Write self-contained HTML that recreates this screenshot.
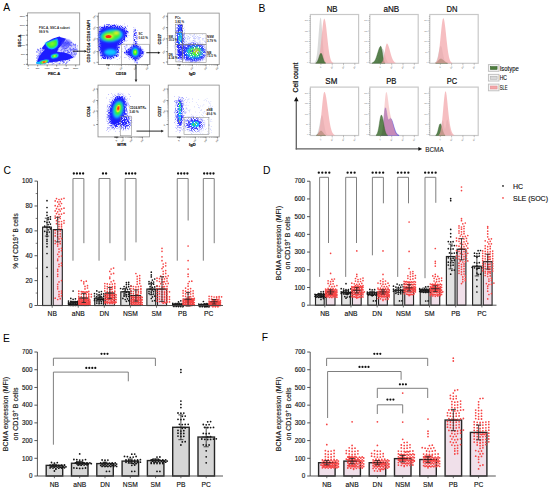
<!DOCTYPE html>
<html><head><meta charset="utf-8"><style>
html,body{margin:0;padding:0;background:#fff;}
body{width:550px;height:490px;overflow:hidden;}
svg{display:block;font-family:"Liberation Sans", sans-serif;}
</style></head><body>
<svg width="550" height="490" viewBox="0 0 550 490">
<defs><filter id="b05" x="-50%" y="-50%" width="200%" height="200%"><feGaussianBlur stdDeviation="0.5"/></filter><filter id="b08" x="-50%" y="-50%" width="200%" height="200%"><feGaussianBlur stdDeviation="0.8"/></filter><filter id="b12" x="-50%" y="-50%" width="200%" height="200%"><feGaussianBlur stdDeviation="1.2"/></filter><filter id="b18" x="-50%" y="-50%" width="200%" height="200%"><feGaussianBlur stdDeviation="1.8"/></filter><filter id="spA" x="-20%" y="-20%" width="140%" height="140%"><feTurbulence type="fractalNoise" baseFrequency="0.9" numOctaves="2" seed="4" result="n"/><feColorMatrix in="n" type="matrix" values="0 0 0 0 0  0 0 0 0 0  0 0 0 0 0  7 0 0 0 -3.2" result="m"/><feComposite in="SourceGraphic" in2="m" operator="in" result="c"/><feGaussianBlur in="c" stdDeviation="0.25"/></filter><filter id="spB" x="-20%" y="-20%" width="140%" height="140%"><feTurbulence type="fractalNoise" baseFrequency="0.9" numOctaves="2" seed="9" result="n"/><feColorMatrix in="n" type="matrix" values="0 0 0 0 0  0 0 0 0 0  0 0 0 0 0  7 0 0 0 -2.6" result="m"/><feComposite in="SourceGraphic" in2="m" operator="in" result="c"/><feGaussianBlur in="c" stdDeviation="0.25"/></filter></defs>
<text x="3.30" y="10.90" font-size="10.3" text-anchor="start" fill="#000" font-weight="normal" >A</text>
<text x="258.50" y="11.60" font-size="10.3" text-anchor="start" fill="#000" font-weight="normal" >B</text>
<text x="3.40" y="173.60" font-size="10.3" text-anchor="start" fill="#000" font-weight="normal" >C</text>
<text x="263.00" y="173.70" font-size="10.3" text-anchor="start" fill="#000" font-weight="normal" >D</text>
<text x="3.00" y="342.00" font-size="10.3" text-anchor="start" fill="#000" font-weight="normal" >E</text>
<text x="261.80" y="341.20" font-size="10.3" text-anchor="start" fill="#000" font-weight="normal" >F</text>
<rect x="42.60" y="227.13" width="8.80" height="78.37" fill="#e2e2e2" stroke="#262626" stroke-width="1.15" />
<rect x="53.20" y="229.62" width="9.10" height="75.88" fill="#f1e0ea" stroke="#262626" stroke-width="1.15" />
<rect x="68.67" y="303.01" width="8.80" height="2.49" fill="#e2e2e2" stroke="#262626" stroke-width="1.15" />
<rect x="79.27" y="298.04" width="9.10" height="7.46" fill="#f1e0ea" stroke="#262626" stroke-width="1.15" />
<rect x="94.74" y="298.04" width="8.80" height="7.46" fill="#e2e2e2" stroke="#262626" stroke-width="1.15" />
<rect x="105.34" y="293.06" width="9.10" height="12.44" fill="#f1e0ea" stroke="#262626" stroke-width="1.15" />
<rect x="120.81" y="291.82" width="8.80" height="13.68" fill="#e2e2e2" stroke="#262626" stroke-width="1.15" />
<rect x="131.41" y="295.55" width="9.10" height="9.95" fill="#f1e0ea" stroke="#262626" stroke-width="1.15" />
<rect x="146.88" y="289.08" width="8.80" height="16.42" fill="#e2e2e2" stroke="#262626" stroke-width="1.15" />
<rect x="157.48" y="289.08" width="9.10" height="16.42" fill="#f1e0ea" stroke="#262626" stroke-width="1.15" />
<rect x="172.95" y="304.26" width="8.80" height="1.24" fill="#e2e2e2" stroke="#262626" stroke-width="1.15" />
<rect x="183.55" y="299.28" width="9.10" height="6.22" fill="#f1e0ea" stroke="#262626" stroke-width="1.15" />
<rect x="199.02" y="304.88" width="8.80" height="0.62" fill="#e2e2e2" stroke="#262626" stroke-width="1.15" />
<rect x="209.62" y="301.77" width="9.10" height="3.73" fill="#f1e0ea" stroke="#262626" stroke-width="1.15" />
<path d="M47.0 276.5h0M47.0 267.3h0M47.0 253.5h0M47.0 246.7h0M47.0 243.7h0M47.0 241.2h0M47.0 239.3h0M47.0 236.6h0M47.0 234.2h0M47.0 232.2h0M49.3 232.0h0M44.7 231.3h0M48.1 229.8h0M50.4 228.9h0M47.0 227.4h0M49.3 227.2h0M44.7 226.2h0M48.1 224.6h0M50.4 224.1h0M47.0 222.5h0M49.3 222.1h0M44.7 221.5h0M48.1 219.6h0M50.4 219.2h0M48.1 217.5h0M50.4 216.8h0M47.0 215.3h0M47.0 212.4h0M47.0 207.5h0M47.0 200.7h0" stroke="#141414" stroke-width="1.70" stroke-linecap="round"/>
<path d="M57.7 299.5h0M60.2 298.7h0M55.2 298.2h0M59.0 296.4h0M61.5 295.9h0M59.0 294.3h0M61.5 293.2h0M59.0 291.6h0M61.5 291.0h0M57.7 288.8h0M57.7 286.8h0M57.7 284.4h0M59.0 281.9h0M61.5 280.6h0M57.7 276.3h0M57.7 274.3h0M57.7 271.2h0M57.7 269.3h0M59.0 266.5h0M61.5 265.6h0M59.0 264.3h0M61.5 263.2h0M57.7 260.6h0M57.7 259.0h0M59.0 256.6h0M61.5 256.0h0M57.7 254.3h0M59.0 251.9h0M61.5 250.7h0M59.0 249.1h0M61.5 248.3h0M57.7 246.1h0M57.7 244.2h0M60.2 243.7h0M55.2 243.5h0M57.7 241.8h0M60.2 241.3h0M55.2 240.8h0M59.0 238.9h0M61.5 238.6h0M57.7 236.9h0M60.2 236.4h0M55.2 235.9h0M57.7 234.1h0M60.2 233.8h0M55.2 233.0h0M57.7 231.7h0M60.2 231.0h0M55.2 230.5h0M59.0 228.9h0M61.5 228.0h0M59.0 226.6h0M61.5 226.2h0M59.0 224.4h0M61.5 224.2h0M56.5 223.7h0M64.0 223.1h0M59.0 221.7h0M61.5 221.5h0M56.5 220.7h0M64.0 220.6h0M57.7 219.1h0M60.2 218.5h0M55.2 218.2h0M57.7 216.8h0M60.2 216.5h0M55.2 216.0h0M59.0 214.4h0M61.5 214.1h0M56.5 213.6h0M64.0 213.2h0M57.7 211.8h0M60.2 211.1h0M55.2 210.9h0M59.0 209.4h0M61.5 208.9h0M56.5 208.7h0M64.0 208.2h0M57.7 206.4h0M60.2 206.0h0M55.2 205.7h0M59.0 204.2h0M61.5 203.5h0M57.7 201.9h0M60.2 201.7h0M55.2 200.9h0M59.0 199.5h0M61.5 199.1h0M56.5 198.6h0M64.0 198.3h0" stroke="#f64545" stroke-width="1.70" stroke-linecap="round"/>
<path d="M73.1 305.5h0M75.4 305.3h0M70.8 305.3h0M73.1 304.2h0M75.4 304.2h0M70.8 304.1h0M77.7 304.0h0M68.5 303.9h0M74.2 305.1h0M76.5 304.9h0M71.9 304.9h0M78.8 304.8h0M69.6 304.6h0M73.1 303.3h0M75.4 303.2h0M70.8 303.1h0M77.7 302.9h0M68.5 302.9h0M73.1 301.8h0M75.4 301.6h0M70.8 301.4h0M77.7 301.3h0M68.5 301.1h0M74.2 302.1h0M76.5 301.9h0M71.9 301.8h0M73.1 299.3h0M75.4 298.8h0M70.8 298.4h0M73.1 291.0h0" stroke="#141414" stroke-width="1.70" stroke-linecap="round"/>
<path d="M83.8 304.4h0M86.3 304.3h0M81.3 304.2h0M88.8 304.2h0M78.8 304.1h0M85.0 305.3h0M87.5 305.2h0M82.5 305.1h0M90.0 305.1h0M80.0 305.0h0M83.8 303.7h0M86.3 303.6h0M81.3 303.6h0M88.8 303.5h0M78.8 303.4h0M85.0 304.6h0M87.5 304.5h0M82.5 304.5h0M90.0 304.4h0M80.0 304.3h0M83.8 302.0h0M86.3 301.9h0M81.3 301.8h0M88.8 301.8h0M78.8 301.7h0M85.0 302.9h0M87.5 302.8h0M82.5 302.8h0M90.0 302.7h0M80.0 302.6h0M83.8 301.3h0M86.3 301.2h0M81.3 301.1h0M88.8 301.0h0M78.8 300.9h0M85.0 302.1h0M87.5 302.0h0M82.5 301.9h0M90.0 301.8h0M80.0 301.8h0M83.8 299.4h0M86.3 299.3h0M81.3 299.3h0M88.8 299.2h0M78.8 299.1h0M85.0 300.3h0M87.5 300.2h0M82.5 300.1h0M90.0 300.0h0M80.0 299.9h0M83.8 298.6h0M86.3 298.5h0M81.3 298.4h0M88.8 298.4h0M78.8 298.2h0M85.0 299.4h0M83.8 297.0h0M86.3 296.8h0M81.3 296.6h0M88.8 296.4h0M78.8 296.3h0M86.3 297.3h0M88.8 297.1h0M83.8 297.0h0M91.3 296.8h0M83.8 294.4h0M86.3 294.2h0M81.3 294.1h0M88.8 293.9h0M78.8 293.7h0M86.3 294.8h0M88.8 294.6h0M83.8 294.5h0M91.3 294.3h0M83.8 291.9h0M86.3 291.8h0M81.3 291.6h0M88.8 291.4h0M78.8 291.2h0M85.0 292.3h0M87.5 292.1h0M82.5 291.9h0M85.0 288.9h0M87.5 288.0h0M85.0 286.4h0M87.5 285.7h0M83.8 283.8h0M83.8 281.9h0M86.3 281.2h0M81.3 280.6h0" stroke="#f64545" stroke-width="1.70" stroke-linecap="round"/>
<path d="M99.1 303.7h0M101.4 303.3h0M96.8 303.1h0M99.1 301.9h0M101.4 301.5h0M96.8 300.9h0M103.7 300.8h0M94.5 300.5h0M99.1 299.4h0M101.4 299.3h0M96.8 299.0h0M103.7 299.0h0M94.5 298.8h0M100.3 299.8h0M102.6 299.7h0M98.0 299.4h0M99.1 297.1h0M101.4 296.8h0M96.8 296.6h0M103.7 296.2h0M94.5 296.0h0M100.3 296.9h0M99.1 294.5h0M101.4 294.2h0M96.8 294.0h0M103.7 293.8h0M94.5 293.6h0M99.1 292.1h0M101.4 291.5h0M96.8 290.9h0" stroke="#141414" stroke-width="1.70" stroke-linecap="round"/>
<path d="M109.8 303.6h0M112.3 303.5h0M107.3 303.4h0M114.8 303.3h0M104.8 303.1h0M109.8 302.0h0M112.3 301.9h0M107.3 301.7h0M114.8 301.6h0M104.8 301.5h0M111.1 302.6h0M113.6 302.5h0M108.6 302.4h0M116.1 302.2h0M106.1 302.1h0M111.1 300.8h0M113.6 300.6h0M109.8 299.5h0M112.3 299.3h0M107.3 299.3h0M114.8 299.1h0M104.8 299.0h0M111.1 300.1h0M113.6 300.0h0M108.6 299.9h0M116.1 299.7h0M106.1 299.7h0M109.8 298.2h0M112.3 298.1h0M107.3 298.0h0M109.8 296.9h0M112.3 296.8h0M107.3 296.7h0M114.8 296.6h0M104.8 296.5h0M111.1 297.6h0M113.6 297.5h0M108.6 297.4h0M116.1 297.3h0M106.1 297.2h0M109.8 295.8h0M112.3 295.8h0M107.3 295.6h0M109.8 294.5h0M112.3 294.4h0M107.3 294.3h0M114.8 294.2h0M104.8 294.0h0M111.1 295.2h0M113.6 295.1h0M108.6 295.0h0M116.1 294.9h0M106.1 294.7h0M109.8 293.4h0M112.3 293.3h0M107.3 293.0h0M109.8 291.7h0M112.3 291.5h0M107.3 291.3h0M114.8 291.0h0M104.8 290.9h0M112.3 291.8h0M114.8 291.8h0M109.8 289.3h0M112.3 289.0h0M107.3 288.8h0M114.8 288.5h0M104.8 288.3h0M111.1 289.4h0M109.8 286.8h0M112.3 286.7h0M107.3 286.5h0M114.8 286.3h0M104.8 286.0h0M112.3 287.0h0M114.8 286.9h0M109.8 284.3h0M112.3 284.1h0M107.3 283.9h0M114.8 283.7h0M104.8 283.5h0M111.1 281.8h0M113.6 280.7h0M109.8 278.6h0M109.8 277.0h0M111.1 274.1h0M113.6 273.4h0M109.8 271.4h0M111.1 269.0h0M113.6 268.1h0" stroke="#f64545" stroke-width="1.70" stroke-linecap="round"/>
<path d="M126.4 301.3h0M128.7 300.7h0M125.2 299.5h0M127.5 298.8h0M122.9 298.4h0M126.4 296.7h0M128.7 296.4h0M124.1 296.2h0M131.0 295.8h0M126.4 294.6h0M128.7 294.2h0M124.1 293.8h0M131.0 293.4h0M126.4 292.2h0M128.7 291.9h0M124.1 291.6h0M131.0 291.2h0M125.2 289.8h0M127.5 289.6h0M122.9 289.1h0M129.8 289.0h0M120.6 288.5h0M126.4 287.2h0M128.7 286.7h0M124.1 286.5h0M131.0 286.1h0M126.4 284.6h0M128.7 284.3h0M126.4 282.6h0M128.7 282.3h0" stroke="#141414" stroke-width="1.70" stroke-linecap="round"/>
<path d="M135.9 304.0h0M138.4 303.9h0M133.4 303.9h0M140.9 303.8h0M130.9 303.7h0M137.2 304.9h0M139.7 304.8h0M134.7 304.7h0M142.2 304.6h0M132.2 304.5h0M135.9 303.2h0M138.4 303.1h0M133.4 303.0h0M135.9 301.9h0M138.4 301.8h0M133.4 301.7h0M140.9 301.7h0M130.9 301.6h0M137.2 302.7h0M139.7 302.7h0M134.7 302.6h0M142.2 302.5h0M132.2 302.4h0M135.9 301.1h0M138.4 301.0h0M133.4 300.9h0M140.9 300.9h0M130.9 300.8h0M138.4 301.9h0M140.9 301.8h0M135.9 299.5h0M138.4 299.3h0M133.4 299.2h0M140.9 299.1h0M130.9 299.0h0M137.2 300.1h0M139.7 300.0h0M134.7 299.9h0M142.2 299.8h0M132.2 299.7h0M135.9 298.3h0M138.4 298.2h0M133.4 298.1h0M135.9 297.0h0M138.4 296.9h0M133.4 296.8h0M140.9 296.6h0M130.9 296.6h0M137.2 297.7h0M139.7 297.6h0M134.7 297.5h0M142.2 297.4h0M132.2 297.2h0M135.9 295.9h0M138.4 295.8h0M133.4 295.6h0M135.9 294.3h0M138.4 294.0h0M133.4 293.7h0M140.9 293.5h0M130.9 293.5h0M137.2 294.5h0M135.9 291.9h0M138.4 291.7h0M133.4 291.5h0M140.9 291.3h0M130.9 291.1h0M138.4 292.1h0M140.9 291.9h0M135.9 289.4h0M138.4 289.3h0M133.4 288.9h0M140.9 288.7h0M130.9 288.6h0M138.4 289.6h0M140.9 289.3h0M135.9 286.9h0M138.4 286.7h0M133.4 286.5h0M140.9 286.2h0M130.9 286.1h0M137.2 284.2h0M139.7 283.4h0M137.2 281.6h0M139.7 280.7h0M137.2 279.0h0M139.7 278.4h0M137.2 276.4h0M139.7 275.6h0M135.9 273.5h0" stroke="#f64545" stroke-width="1.70" stroke-linecap="round"/>
<path d="M152.4 301.0h0M154.7 300.6h0M151.3 298.5h0M152.4 296.9h0M154.7 296.1h0M151.3 294.4h0M153.6 294.0h0M149.0 293.4h0M151.3 292.1h0M153.6 291.7h0M149.0 291.3h0M152.4 289.9h0M154.7 289.6h0M150.1 289.1h0M157.0 288.9h0M152.4 287.4h0M154.7 286.9h0M150.1 286.7h0M157.0 286.1h0M151.3 284.6h0M153.6 284.2h0M149.0 283.9h0M151.3 282.3h0M153.6 282.0h0M149.0 281.7h0M152.4 280.1h0M154.7 279.0h0M151.3 276.9h0M151.3 274.9h0M151.3 272.2h0" stroke="#141414" stroke-width="1.70" stroke-linecap="round"/>
<path d="M163.2 303.2h0M165.7 303.0h0M162.0 301.9h0M164.5 301.7h0M159.5 301.6h0M167.0 301.4h0M157.0 301.2h0M164.5 302.3h0M167.0 302.2h0M162.0 302.0h0M169.5 301.9h0M162.0 299.4h0M164.5 299.3h0M159.5 299.1h0M167.0 298.8h0M157.0 298.7h0M164.5 299.8h0M167.0 299.6h0M162.0 299.5h0M169.5 299.3h0M162.0 296.9h0M164.5 296.7h0M159.5 296.6h0M167.0 296.4h0M157.0 296.2h0M164.5 297.4h0M167.0 297.1h0M162.0 297.0h0M169.5 296.8h0M162.0 294.4h0M164.5 294.2h0M159.5 293.9h0M167.0 293.8h0M157.0 293.5h0M164.5 294.6h0M167.0 294.4h0M162.0 292.0h0M164.5 291.8h0M159.5 291.6h0M167.0 291.4h0M157.0 291.2h0M164.5 292.3h0M167.0 292.0h0M162.0 291.9h0M169.5 291.8h0M162.0 289.3h0M164.5 289.1h0M159.5 288.9h0M167.0 288.6h0M157.0 288.5h0M164.5 289.5h0M167.0 289.3h0M162.0 287.0h0M164.5 286.6h0M159.5 286.3h0M167.0 286.3h0M157.0 285.8h0M163.2 286.8h0M163.2 284.3h0M165.7 283.8h0M160.7 283.7h0M168.2 283.4h0M162.0 282.0h0M164.5 281.7h0M159.5 281.5h0M167.0 281.1h0M157.0 280.8h0M163.2 281.8h0M162.0 279.4h0M164.5 278.9h0M159.5 278.7h0M167.0 278.4h0M157.0 278.2h0M163.2 276.8h0M165.7 276.6h0M160.7 276.2h0M168.2 275.8h0M163.2 274.1h0M165.7 273.4h0M163.2 271.3h0M165.7 270.6h0M162.0 268.6h0M163.2 266.9h0M165.7 265.8h0M163.2 264.0h0M165.7 263.0h0M162.0 260.7h0M162.0 256.8h0M162.0 251.3h0M162.0 248.3h0" stroke="#f64545" stroke-width="1.70" stroke-linecap="round"/>
<path d="M177.4 305.6h0M179.7 305.6h0M175.1 305.5h0M182.0 305.5h0M172.8 305.5h0M178.5 306.6h0M180.8 306.6h0M176.2 306.5h0M183.1 306.5h0M173.9 306.5h0M177.4 304.3h0M179.7 304.2h0M175.1 304.2h0M182.0 304.2h0M172.8 304.2h0M178.5 305.3h0M180.8 305.2h0M176.2 305.1h0M183.1 305.1h0M173.9 305.0h0M177.4 303.8h0M179.7 303.7h0M175.1 303.6h0M182.0 303.5h0M172.8 303.4h0M178.5 304.6h0M180.8 304.5h0M176.2 304.5h0M178.5 301.9h0M180.8 300.8h0" stroke="#141414" stroke-width="1.70" stroke-linecap="round"/>
<path d="M188.1 305.6h0M190.6 305.6h0M185.6 305.5h0M188.1 304.5h0M190.6 304.4h0M185.6 304.3h0M193.1 304.3h0M183.1 304.2h0M189.3 305.4h0M191.8 305.4h0M186.8 305.3h0M194.3 305.3h0M184.3 305.2h0M188.1 303.9h0M190.6 303.9h0M185.6 303.8h0M193.1 303.7h0M183.1 303.7h0M189.3 304.9h0M191.8 304.8h0M186.8 304.8h0M194.3 304.7h0M184.3 304.7h0M188.1 303.4h0M190.6 303.3h0M185.6 303.2h0M193.1 303.2h0M183.1 303.1h0M190.6 304.3h0M193.1 304.3h0M188.1 302.0h0M190.6 301.9h0M185.6 301.8h0M193.1 301.7h0M183.1 301.6h0M189.3 302.8h0M191.8 302.7h0M186.8 302.6h0M194.3 302.5h0M184.3 302.4h0M188.1 301.1h0M190.6 301.1h0M185.6 300.9h0M193.1 300.9h0M183.1 300.7h0M189.3 301.9h0M191.8 301.8h0M186.8 301.8h0M188.1 299.4h0M190.6 299.4h0M185.6 299.3h0M193.1 299.2h0M183.1 299.1h0M189.3 300.2h0M191.8 300.2h0M186.8 300.1h0M194.3 300.0h0M184.3 299.9h0M189.3 298.6h0M191.8 298.5h0M186.8 298.4h0M194.3 298.3h0M188.1 297.0h0M190.6 296.7h0M185.6 296.4h0M193.1 296.1h0M183.1 295.9h0M189.3 296.8h0M188.1 294.2h0M190.6 294.0h0M185.6 293.8h0M193.1 293.4h0M183.1 293.1h0M188.1 291.8h0M190.6 291.4h0M185.6 291.2h0M193.1 290.8h0M183.1 290.7h0M188.1 289.3h0M190.6 288.6h0M185.6 288.1h0M188.1 286.2h0M188.1 283.6h0M189.3 281.5h0M191.8 281.2h0M188.1 276.5h0M188.1 274.2h0M188.1 269.1h0M188.1 260.6h0M188.1 246.0h0" stroke="#f64545" stroke-width="1.70" stroke-linecap="round"/>
<path d="M203.4 305.7h0M205.7 305.6h0M201.1 305.6h0M208.0 305.6h0M198.8 305.6h0M204.6 306.8h0M206.9 306.7h0M202.3 306.7h0M209.2 306.7h0M200.0 306.7h0M203.4 305.5h0M205.7 305.5h0M201.1 305.4h0M208.0 305.4h0M198.8 305.4h0M205.7 306.6h0M208.0 306.5h0M203.4 304.3h0M205.7 304.2h0M201.1 304.2h0M208.0 304.2h0M198.8 304.1h0M204.6 305.3h0M206.9 305.2h0M202.3 305.2h0M209.2 305.1h0M200.0 305.1h0M204.6 303.8h0M206.9 303.7h0M203.4 301.5h0" stroke="#141414" stroke-width="1.70" stroke-linecap="round"/>
<path d="M214.1 305.7h0M216.6 305.7h0M211.6 305.6h0M219.1 305.6h0M209.1 305.6h0M215.4 306.8h0M217.9 306.8h0M212.9 306.8h0M214.1 304.5h0M216.6 304.5h0M211.6 304.4h0M219.1 304.4h0M209.1 304.4h0M215.4 305.6h0M217.9 305.6h0M212.9 305.5h0M220.4 305.5h0M210.4 305.5h0M214.1 304.2h0M216.6 304.2h0M211.6 304.1h0M219.1 304.1h0M209.1 304.1h0M215.4 305.3h0M217.9 305.3h0M212.9 305.2h0M220.4 305.2h0M210.4 305.2h0M214.1 303.9h0M216.6 303.9h0M211.6 303.8h0M219.1 303.8h0M209.1 303.8h0M215.4 305.0h0M217.9 305.0h0M212.9 305.0h0M220.4 304.9h0M210.4 304.8h0M214.1 303.6h0M216.6 303.5h0M211.6 303.4h0M219.1 303.4h0M209.1 303.4h0M215.4 304.6h0M217.9 304.5h0M212.9 304.4h0M220.4 304.4h0M210.4 304.3h0M214.1 303.0h0M214.1 302.0h0M216.6 301.9h0M211.6 301.9h0M219.1 301.8h0M209.1 301.8h0M215.4 303.0h0M217.9 302.9h0M212.9 302.9h0M220.4 302.8h0M210.4 302.8h0M214.1 301.5h0M216.6 301.4h0M211.6 301.4h0M219.1 301.3h0M209.1 301.2h0M215.4 302.5h0M217.9 302.4h0M212.9 302.3h0M220.4 302.3h0M210.4 302.2h0M215.4 301.0h0M217.9 300.9h0M212.9 300.9h0M220.4 300.7h0M214.1 299.5h0M216.6 299.3h0M211.6 299.2h0M219.1 299.0h0M209.1 298.8h0M215.4 299.9h0M217.9 299.7h0M212.9 299.5h0M214.1 297.0h0M216.6 296.8h0M211.6 296.6h0M219.1 296.5h0M209.1 296.3h0M216.6 297.4h0M219.1 297.1h0M214.1 297.0h0M221.6 296.8h0" stroke="#f64545" stroke-width="1.70" stroke-linecap="round"/>
<line x1="47.00" y1="218.17" x2="47.00" y2="236.08" stroke="#222" stroke-width="0.8" />
<line x1="44.80" y1="218.17" x2="49.20" y2="218.17" stroke="#222" stroke-width="0.8" />
<line x1="44.80" y1="236.08" x2="49.20" y2="236.08" stroke="#222" stroke-width="0.8" />
<line x1="43.50" y1="227.13" x2="50.50" y2="227.13" stroke="#222" stroke-width="0.8" />
<line x1="57.70" y1="217.30" x2="57.70" y2="241.93" stroke="#222" stroke-width="0.8" />
<line x1="55.50" y1="217.30" x2="59.90" y2="217.30" stroke="#222" stroke-width="0.8" />
<line x1="55.50" y1="241.93" x2="59.90" y2="241.93" stroke="#222" stroke-width="0.8" />
<line x1="54.20" y1="229.62" x2="61.20" y2="229.62" stroke="#222" stroke-width="0.8" />
<line x1="73.07" y1="301.33" x2="73.07" y2="304.69" stroke="#222" stroke-width="0.8" />
<line x1="70.87" y1="301.33" x2="75.27" y2="301.33" stroke="#222" stroke-width="0.8" />
<line x1="70.87" y1="304.69" x2="75.27" y2="304.69" stroke="#222" stroke-width="0.8" />
<line x1="69.57" y1="303.01" x2="76.57" y2="303.01" stroke="#222" stroke-width="0.8" />
<line x1="83.77" y1="293.56" x2="83.77" y2="302.51" stroke="#222" stroke-width="0.8" />
<line x1="81.57" y1="293.56" x2="85.97" y2="293.56" stroke="#222" stroke-width="0.8" />
<line x1="81.57" y1="302.51" x2="85.97" y2="302.51" stroke="#222" stroke-width="0.8" />
<line x1="80.27" y1="298.04" x2="87.27" y2="298.04" stroke="#222" stroke-width="0.8" />
<line x1="99.14" y1="295.24" x2="99.14" y2="300.83" stroke="#222" stroke-width="0.8" />
<line x1="96.94" y1="295.24" x2="101.34" y2="295.24" stroke="#222" stroke-width="0.8" />
<line x1="96.94" y1="300.83" x2="101.34" y2="300.83" stroke="#222" stroke-width="0.8" />
<line x1="95.64" y1="298.04" x2="102.64" y2="298.04" stroke="#222" stroke-width="0.8" />
<line x1="109.84" y1="287.46" x2="109.84" y2="298.66" stroke="#222" stroke-width="0.8" />
<line x1="107.64" y1="287.46" x2="112.04" y2="287.46" stroke="#222" stroke-width="0.8" />
<line x1="107.64" y1="298.66" x2="112.04" y2="298.66" stroke="#222" stroke-width="0.8" />
<line x1="106.34" y1="293.06" x2="113.34" y2="293.06" stroke="#222" stroke-width="0.8" />
<line x1="125.21" y1="288.46" x2="125.21" y2="295.17" stroke="#222" stroke-width="0.8" />
<line x1="123.01" y1="288.46" x2="127.41" y2="288.46" stroke="#222" stroke-width="0.8" />
<line x1="123.01" y1="295.17" x2="127.41" y2="295.17" stroke="#222" stroke-width="0.8" />
<line x1="121.71" y1="291.82" x2="128.71" y2="291.82" stroke="#222" stroke-width="0.8" />
<line x1="135.91" y1="289.95" x2="135.91" y2="301.15" stroke="#222" stroke-width="0.8" />
<line x1="133.71" y1="289.95" x2="138.11" y2="289.95" stroke="#222" stroke-width="0.8" />
<line x1="133.71" y1="301.15" x2="138.11" y2="301.15" stroke="#222" stroke-width="0.8" />
<line x1="132.41" y1="295.55" x2="139.41" y2="295.55" stroke="#222" stroke-width="0.8" />
<line x1="151.28" y1="283.48" x2="151.28" y2="294.68" stroke="#222" stroke-width="0.8" />
<line x1="149.08" y1="283.48" x2="153.48" y2="283.48" stroke="#222" stroke-width="0.8" />
<line x1="149.08" y1="294.68" x2="153.48" y2="294.68" stroke="#222" stroke-width="0.8" />
<line x1="147.78" y1="289.08" x2="154.78" y2="289.08" stroke="#222" stroke-width="0.8" />
<line x1="161.98" y1="276.76" x2="161.98" y2="301.39" stroke="#222" stroke-width="0.8" />
<line x1="159.78" y1="276.76" x2="164.18" y2="276.76" stroke="#222" stroke-width="0.8" />
<line x1="159.78" y1="301.39" x2="164.18" y2="301.39" stroke="#222" stroke-width="0.8" />
<line x1="158.48" y1="289.08" x2="165.48" y2="289.08" stroke="#222" stroke-width="0.8" />
<line x1="177.35" y1="303.36" x2="177.35" y2="305.15" stroke="#222" stroke-width="0.8" />
<line x1="175.15" y1="303.36" x2="179.55" y2="303.36" stroke="#222" stroke-width="0.8" />
<line x1="175.15" y1="305.15" x2="179.55" y2="305.15" stroke="#222" stroke-width="0.8" />
<line x1="173.85" y1="304.26" x2="180.85" y2="304.26" stroke="#222" stroke-width="0.8" />
<line x1="188.05" y1="292.56" x2="188.05" y2="306.00" stroke="#222" stroke-width="0.8" />
<line x1="185.85" y1="292.56" x2="190.25" y2="292.56" stroke="#222" stroke-width="0.8" />
<line x1="185.85" y1="306.00" x2="190.25" y2="306.00" stroke="#222" stroke-width="0.8" />
<line x1="184.55" y1="299.28" x2="191.55" y2="299.28" stroke="#222" stroke-width="0.8" />
<line x1="203.42" y1="304.32" x2="203.42" y2="305.44" stroke="#222" stroke-width="0.8" />
<line x1="201.22" y1="304.32" x2="205.62" y2="304.32" stroke="#222" stroke-width="0.8" />
<line x1="201.22" y1="305.44" x2="205.62" y2="305.44" stroke="#222" stroke-width="0.8" />
<line x1="199.92" y1="304.88" x2="206.92" y2="304.88" stroke="#222" stroke-width="0.8" />
<line x1="214.12" y1="299.53" x2="214.12" y2="304.01" stroke="#222" stroke-width="0.8" />
<line x1="211.92" y1="299.53" x2="216.32" y2="299.53" stroke="#222" stroke-width="0.8" />
<line x1="211.92" y1="304.01" x2="216.32" y2="304.01" stroke="#222" stroke-width="0.8" />
<line x1="210.62" y1="301.77" x2="217.62" y2="301.77" stroke="#222" stroke-width="0.8" />
<line x1="37.50" y1="181.10" x2="37.50" y2="305.50" stroke="#444444" stroke-width="0.9" />
<line x1="34.50" y1="305.50" x2="37.50" y2="305.50" stroke="#444444" stroke-width="0.9" />
<text x="32.60" y="307.75" font-size="6.3" text-anchor="end" fill="#111" font-weight="normal" stroke="#111" stroke-width="0.14">0</text>
<line x1="34.50" y1="280.62" x2="37.50" y2="280.62" stroke="#444444" stroke-width="0.9" />
<text x="32.60" y="282.87" font-size="6.3" text-anchor="end" fill="#111" font-weight="normal" stroke="#111" stroke-width="0.14">20</text>
<line x1="34.50" y1="255.74" x2="37.50" y2="255.74" stroke="#444444" stroke-width="0.9" />
<text x="32.60" y="257.99" font-size="6.3" text-anchor="end" fill="#111" font-weight="normal" stroke="#111" stroke-width="0.14">40</text>
<line x1="34.50" y1="230.86" x2="37.50" y2="230.86" stroke="#444444" stroke-width="0.9" />
<text x="32.60" y="233.11" font-size="6.3" text-anchor="end" fill="#111" font-weight="normal" stroke="#111" stroke-width="0.14">60</text>
<line x1="34.50" y1="205.98" x2="37.50" y2="205.98" stroke="#444444" stroke-width="0.9" />
<text x="32.60" y="208.23" font-size="6.3" text-anchor="end" fill="#111" font-weight="normal" stroke="#111" stroke-width="0.14">80</text>
<line x1="34.50" y1="181.10" x2="37.50" y2="181.10" stroke="#444444" stroke-width="0.9" />
<text x="32.60" y="183.35" font-size="6.3" text-anchor="end" fill="#111" font-weight="normal" stroke="#111" stroke-width="0.14">100</text>
<line x1="35.70" y1="293.06" x2="37.50" y2="293.06" stroke="#444444" stroke-width="0.7" />
<line x1="35.70" y1="268.18" x2="37.50" y2="268.18" stroke="#444444" stroke-width="0.7" />
<line x1="35.70" y1="243.30" x2="37.50" y2="243.30" stroke="#444444" stroke-width="0.7" />
<line x1="35.70" y1="218.42" x2="37.50" y2="218.42" stroke="#444444" stroke-width="0.7" />
<line x1="35.70" y1="193.54" x2="37.50" y2="193.54" stroke="#444444" stroke-width="0.7" />
<line x1="37.50" y1="305.50" x2="223.00" y2="305.50" stroke="#444444" stroke-width="0.9" />
<line x1="52.20" y1="305.50" x2="52.20" y2="307.70" stroke="#444444" stroke-width="0.8" />
<text x="52.20" y="316.40" font-size="6.7" text-anchor="middle" fill="#111" font-weight="normal" stroke="#111" stroke-width="0.14">NB</text>
<line x1="78.27" y1="305.50" x2="78.27" y2="307.70" stroke="#444444" stroke-width="0.8" />
<text x="78.27" y="316.40" font-size="6.7" text-anchor="middle" fill="#111" font-weight="normal" stroke="#111" stroke-width="0.14">aNB</text>
<line x1="104.34" y1="305.50" x2="104.34" y2="307.70" stroke="#444444" stroke-width="0.8" />
<text x="104.34" y="316.40" font-size="6.7" text-anchor="middle" fill="#111" font-weight="normal" stroke="#111" stroke-width="0.14">DN</text>
<line x1="130.41" y1="305.50" x2="130.41" y2="307.70" stroke="#444444" stroke-width="0.8" />
<text x="130.41" y="316.40" font-size="6.7" text-anchor="middle" fill="#111" font-weight="normal" stroke="#111" stroke-width="0.14">NSM</text>
<line x1="156.48" y1="305.50" x2="156.48" y2="307.70" stroke="#444444" stroke-width="0.8" />
<text x="156.48" y="316.40" font-size="6.7" text-anchor="middle" fill="#111" font-weight="normal" stroke="#111" stroke-width="0.14">SM</text>
<line x1="182.55" y1="305.50" x2="182.55" y2="307.70" stroke="#444444" stroke-width="0.8" />
<text x="182.55" y="316.40" font-size="6.7" text-anchor="middle" fill="#111" font-weight="normal" stroke="#111" stroke-width="0.14">PB</text>
<line x1="208.62" y1="305.50" x2="208.62" y2="307.70" stroke="#444444" stroke-width="0.8" />
<text x="208.62" y="316.40" font-size="6.7" text-anchor="middle" fill="#111" font-weight="normal" stroke="#111" stroke-width="0.14">PC</text>
<text x="17.90" y="241.00" font-size="6.55" text-anchor="middle" fill="#111" font-weight="normal" transform="rotate(-90 17.90 241.00)" stroke="#111" stroke-width="0.14">% of CD19<tspan font-size="4.5" dy="-2.5">+</tspan><tspan dy="2.5"> B cells</tspan></text>
<path d="M72.97,260.70 L72.97,178.50 L83.87,178.50 L83.87,243.20" fill="none" stroke="#707070" stroke-width="0.9" />
<circle cx="73.82" cy="173.50" r="1.15" fill="#111"/>
<circle cx="76.92" cy="173.50" r="1.15" fill="#111"/>
<circle cx="80.02" cy="173.50" r="1.15" fill="#111"/>
<circle cx="83.12" cy="173.50" r="1.15" fill="#111"/>
<path d="M99.04,260.70 L99.04,178.50 L109.94,178.50 L109.94,243.20" fill="none" stroke="#707070" stroke-width="0.9" />
<circle cx="102.99" cy="173.50" r="1.15" fill="#111"/>
<circle cx="106.09" cy="173.50" r="1.15" fill="#111"/>
<path d="M125.11,260.70 L125.11,178.50 L136.01,178.50 L136.01,242.40" fill="none" stroke="#707070" stroke-width="0.9" />
<circle cx="125.96" cy="173.50" r="1.15" fill="#111"/>
<circle cx="129.06" cy="173.50" r="1.15" fill="#111"/>
<circle cx="132.16" cy="173.50" r="1.15" fill="#111"/>
<circle cx="135.26" cy="173.50" r="1.15" fill="#111"/>
<path d="M177.25,260.70 L177.25,178.50 L188.15,178.50 L188.15,220.50" fill="none" stroke="#707070" stroke-width="0.9" />
<circle cx="178.10" cy="173.50" r="1.15" fill="#111"/>
<circle cx="181.20" cy="173.50" r="1.15" fill="#111"/>
<circle cx="184.30" cy="173.50" r="1.15" fill="#111"/>
<circle cx="187.40" cy="173.50" r="1.15" fill="#111"/>
<path d="M203.32,260.70 L203.32,178.50 L214.22,178.50 L214.22,243.20" fill="none" stroke="#707070" stroke-width="0.9" />
<circle cx="204.17" cy="173.50" r="1.15" fill="#111"/>
<circle cx="207.27" cy="173.50" r="1.15" fill="#111"/>
<circle cx="210.37" cy="173.50" r="1.15" fill="#111"/>
<circle cx="213.47" cy="173.50" r="1.15" fill="#111"/>
<rect x="315.50" y="294.57" width="8.70" height="10.63" fill="#e2e2e2" stroke="#262626" stroke-width="1.15" />
<rect x="326.20" y="291.92" width="8.80" height="13.28" fill="#f1e0ea" stroke="#262626" stroke-width="1.15" />
<rect x="341.68" y="292.45" width="8.70" height="12.75" fill="#e2e2e2" stroke="#262626" stroke-width="1.15" />
<rect x="352.38" y="290.32" width="8.80" height="14.88" fill="#f1e0ea" stroke="#262626" stroke-width="1.15" />
<rect x="367.86" y="292.80" width="8.70" height="12.40" fill="#e2e2e2" stroke="#262626" stroke-width="1.15" />
<rect x="378.56" y="291.92" width="8.80" height="13.28" fill="#f1e0ea" stroke="#262626" stroke-width="1.15" />
<rect x="394.04" y="290.32" width="8.70" height="14.88" fill="#e2e2e2" stroke="#262626" stroke-width="1.15" />
<rect x="404.74" y="287.84" width="8.80" height="17.36" fill="#f1e0ea" stroke="#262626" stroke-width="1.15" />
<rect x="420.22" y="289.79" width="8.70" height="15.41" fill="#e2e2e2" stroke="#262626" stroke-width="1.15" />
<rect x="430.92" y="288.73" width="8.80" height="16.47" fill="#f1e0ea" stroke="#262626" stroke-width="1.15" />
<rect x="446.40" y="256.50" width="8.70" height="48.70" fill="#e2e2e2" stroke="#262626" stroke-width="1.15" />
<rect x="457.10" y="249.24" width="8.80" height="55.96" fill="#f1e0ea" stroke="#262626" stroke-width="1.15" />
<rect x="472.58" y="266.24" width="8.70" height="38.96" fill="#e2e2e2" stroke="#262626" stroke-width="1.15" />
<rect x="483.28" y="261.63" width="8.80" height="43.57" fill="#f1e0ea" stroke="#262626" stroke-width="1.15" />
<path d="M319.8 296.9h0M322.2 296.7h0M317.4 296.6h0M324.6 296.5h0M315.0 296.3h0M321.0 297.4h0M323.4 297.4h0M318.6 297.3h0M325.8 297.2h0M316.2 297.1h0M321.0 295.8h0M323.4 295.8h0M319.8 294.7h0M322.2 294.6h0M317.4 294.5h0M324.6 294.4h0M315.0 294.3h0M321.0 295.4h0M323.4 295.3h0M318.6 295.3h0M325.8 295.2h0M316.2 295.1h0M321.0 293.8h0M323.4 293.7h0M318.6 293.5h0M325.8 293.4h0M321.0 299.5h0M323.4 298.6h0M321.0 291.8h0M323.4 291.7h0" stroke="#141414" stroke-width="1.70" stroke-linecap="round"/>
<path d="M330.6 296.6h0M333.1 296.5h0M328.1 296.4h0M335.6 296.3h0M325.6 296.3h0M331.9 297.5h0M334.4 297.3h0M329.4 297.3h0M336.9 297.2h0M326.9 297.1h0M330.6 295.8h0M333.1 295.7h0M328.1 295.7h0M335.6 295.6h0M325.6 295.5h0M330.6 294.4h0M333.1 294.4h0M328.1 294.2h0M335.6 294.2h0M325.6 294.1h0M331.9 295.4h0M334.4 295.3h0M329.4 295.2h0M336.9 295.2h0M326.9 295.2h0M330.6 293.9h0M333.1 293.8h0M328.1 293.8h0M335.6 293.7h0M325.6 293.7h0M331.9 294.9h0M334.4 294.8h0M329.4 294.8h0M336.9 294.7h0M326.9 294.7h0M330.6 293.4h0M333.1 293.3h0M328.1 293.3h0M335.6 293.3h0M325.6 293.2h0M331.9 294.4h0M334.4 294.3h0M329.4 294.3h0M330.6 292.0h0M333.1 291.9h0M328.1 291.8h0M335.6 291.8h0M325.6 291.7h0M331.9 292.8h0M334.4 292.8h0M329.4 292.7h0M336.9 292.6h0M326.9 292.5h0M330.6 291.2h0M333.1 291.1h0M328.1 291.1h0M335.6 291.0h0M325.6 290.9h0M331.9 292.1h0M334.4 292.0h0M329.4 291.9h0M336.9 291.8h0M326.9 291.8h0M330.6 289.4h0M333.1 289.3h0M328.1 289.2h0M335.6 289.2h0M325.6 289.1h0M331.9 290.3h0M334.4 290.2h0M329.4 290.1h0M336.9 290.1h0M326.9 290.0h0M330.6 288.6h0M333.1 288.6h0M328.1 288.4h0M331.9 286.7h0M334.4 286.4h0M329.4 286.0h0M336.9 285.6h0M330.6 284.2h0M333.1 283.8h0M328.1 283.4h0M330.6 281.7h0M333.1 281.2h0M328.1 280.8h0M331.9 279.3h0M334.4 279.0h0M330.6 273.4h0M330.6 253.3h0" stroke="#f64545" stroke-width="1.70" stroke-linecap="round"/>
<path d="M346.0 294.0h0M348.4 293.9h0M343.6 293.8h0M350.8 293.6h0M341.2 293.5h0M347.2 294.6h0M346.0 292.3h0M348.4 292.2h0M343.6 292.1h0M350.8 292.0h0M341.2 291.9h0M347.2 293.0h0M349.6 292.9h0M344.8 292.7h0M352.0 292.6h0M342.4 292.4h0M346.0 291.1h0M348.4 291.0h0M343.6 290.9h0M346.0 289.7h0M348.4 289.6h0M343.6 289.0h0M350.8 288.9h0M341.2 288.7h0M346.0 298.2h0M347.2 297.0h0M349.6 296.8h0M344.8 296.6h0M352.0 296.4h0M346.0 283.7h0" stroke="#141414" stroke-width="1.70" stroke-linecap="round"/>
<path d="M356.8 298.1h0M356.8 297.0h0M359.3 296.8h0M354.3 296.7h0M361.8 296.5h0M351.8 296.4h0M358.0 297.5h0M360.5 297.4h0M355.5 297.2h0M363.0 297.0h0M353.0 297.0h0M356.8 295.6h0M356.8 294.4h0M359.3 294.3h0M354.3 294.2h0M361.8 294.0h0M351.8 293.8h0M358.0 295.0h0M360.5 294.9h0M355.5 294.8h0M363.0 294.8h0M353.0 294.7h0M358.0 293.3h0M360.5 293.3h0M355.5 293.2h0M363.0 293.0h0M356.8 292.0h0M359.3 291.9h0M354.3 291.9h0M361.8 291.8h0M351.8 291.6h0M358.0 292.8h0M360.5 292.8h0M355.5 292.7h0M363.0 292.6h0M353.0 292.5h0M356.8 291.2h0M359.3 291.1h0M354.3 291.0h0M361.8 291.0h0M351.8 290.9h0M359.3 292.1h0M361.8 291.9h0M356.8 291.9h0M364.3 291.8h0M356.8 289.4h0M359.3 289.3h0M354.3 289.2h0M361.8 289.1h0M351.8 289.0h0M358.0 290.2h0M360.5 290.0h0M355.5 289.9h0M363.0 289.9h0M353.0 289.8h0M356.8 288.4h0M359.3 288.3h0M354.3 288.2h0M361.8 288.1h0M351.8 288.0h0M356.8 286.9h0M359.3 286.8h0M354.3 286.6h0M361.8 286.6h0M351.8 286.5h0M358.0 287.6h0M360.5 287.5h0M355.5 287.4h0M363.0 287.3h0M353.0 287.2h0M358.0 285.8h0M360.5 285.8h0M355.5 285.6h0M363.0 285.6h0M356.8 284.4h0M359.3 284.2h0M354.3 283.8h0M361.8 283.4h0M351.8 283.2h0M358.0 281.7h0M360.5 281.5h0M355.5 281.1h0M363.0 280.6h0M358.0 279.5h0M360.5 279.0h0M355.5 278.5h0M363.0 278.1h0M356.8 276.5h0M356.8 274.4h0M356.8 250.9h0" stroke="#f64545" stroke-width="1.70" stroke-linecap="round"/>
<path d="M372.2 295.8h0M372.2 294.7h0M374.6 294.5h0M369.8 294.3h0M377.0 294.2h0M367.4 294.1h0M373.4 295.2h0M375.8 295.1h0M371.0 295.1h0M378.2 295.0h0M368.6 294.9h0M372.2 293.6h0M374.6 293.5h0M369.8 293.5h0M377.0 293.3h0M367.4 293.3h0M372.2 292.3h0M374.6 292.2h0M369.8 292.1h0M377.0 292.1h0M367.4 292.0h0M374.6 293.2h0M377.0 293.1h0M372.2 293.0h0M379.4 292.8h0M373.4 300.9h0M375.8 300.8h0M372.2 289.8h0M374.6 289.7h0M369.8 289.4h0" stroke="#141414" stroke-width="1.70" stroke-linecap="round"/>
<path d="M383.0 300.5h0M383.0 299.4h0M385.5 299.0h0M380.5 298.8h0M388.0 298.7h0M378.0 298.5h0M385.5 299.4h0M388.0 299.3h0M383.0 296.7h0M385.5 296.6h0M380.5 296.4h0M388.0 296.1h0M378.0 295.9h0M384.2 297.0h0M386.7 297.0h0M381.7 296.9h0M389.2 296.9h0M379.2 296.8h0M383.0 294.5h0M385.5 294.4h0M380.5 294.4h0M388.0 294.3h0M378.0 294.3h0M384.2 295.5h0M386.7 295.5h0M381.7 295.4h0M389.2 295.3h0M379.2 295.3h0M383.0 294.0h0M385.5 293.9h0M380.5 293.9h0M388.0 293.8h0M378.0 293.8h0M384.2 295.0h0M386.7 294.9h0M381.7 294.9h0M389.2 294.8h0M379.2 294.8h0M383.0 293.5h0M385.5 293.4h0M380.5 293.3h0M388.0 293.3h0M378.0 293.3h0M384.2 294.5h0M386.7 294.4h0M381.7 294.3h0M383.0 291.9h0M385.5 291.8h0M380.5 291.7h0M388.0 291.6h0M378.0 291.5h0M384.2 292.6h0M386.7 292.5h0M381.7 292.4h0M389.2 292.4h0M379.2 292.3h0M384.2 290.9h0M386.7 290.8h0M381.7 290.7h0M389.2 290.6h0M383.0 289.5h0M385.5 289.4h0M380.5 289.3h0M388.0 289.2h0M378.0 289.0h0M384.2 290.2h0M386.7 290.1h0M381.7 290.0h0M389.2 289.9h0M379.2 289.8h0M383.0 288.4h0M385.5 288.4h0M380.5 288.2h0M388.0 288.1h0M378.0 288.0h0M384.2 286.6h0M386.7 286.5h0M381.7 286.0h0M389.2 285.6h0M383.0 284.2h0M385.5 284.1h0M380.5 283.6h0M388.0 283.2h0M378.0 283.1h0M383.0 281.7h0M385.5 281.0h0M380.5 280.8h0M383.0 279.0h0M383.0 274.4h0M383.0 250.9h0" stroke="#f64545" stroke-width="1.70" stroke-linecap="round"/>
<path d="M398.3 292.0h0M400.7 291.7h0M395.9 291.5h0M403.1 291.3h0M393.5 291.2h0M400.7 292.3h0M403.1 292.1h0M398.3 289.8h0M400.7 289.6h0M395.9 289.6h0M403.1 289.4h0M393.5 289.2h0M400.7 290.2h0M403.1 290.0h0M398.3 289.9h0M405.5 289.8h0M398.3 287.4h0M400.7 287.2h0M395.9 287.1h0M403.1 286.8h0M393.5 286.2h0M399.5 300.9h0M401.9 300.8h0M398.3 294.1h0M400.7 293.7h0M395.9 293.3h0M399.5 285.0h0M401.9 284.8h0M397.1 284.1h0M404.3 284.0h0" stroke="#141414" stroke-width="1.70" stroke-linecap="round"/>
<path d="M409.1 295.6h0M409.1 294.4h0M411.6 294.3h0M406.6 294.1h0M414.1 293.8h0M404.1 293.7h0M410.4 294.7h0M412.9 294.6h0M407.9 294.4h0M409.1 292.0h0M411.6 291.8h0M406.6 291.6h0M414.1 291.4h0M404.1 291.3h0M410.4 292.4h0M412.9 292.1h0M407.9 292.0h0M415.4 291.9h0M405.4 291.8h0M409.1 289.5h0M411.6 289.4h0M406.6 289.3h0M414.1 289.3h0M404.1 289.2h0M410.4 290.4h0M412.9 290.3h0M407.9 290.3h0M415.4 290.2h0M405.4 290.1h0M409.1 288.9h0M411.6 288.8h0M406.6 288.7h0M414.1 288.7h0M404.1 288.6h0M410.4 289.8h0M412.9 289.7h0M407.9 289.7h0M415.4 289.6h0M405.4 289.6h0M410.4 288.2h0M412.9 288.2h0M407.9 288.1h0M415.4 288.0h0M409.1 287.0h0M411.6 286.9h0M406.6 286.7h0M414.1 286.6h0M404.1 286.4h0M410.4 287.6h0M412.9 287.4h0M407.9 287.3h0M415.4 287.2h0M405.4 287.0h0M409.1 285.6h0M409.1 284.4h0M411.6 284.3h0M406.6 284.2h0M414.1 284.1h0M404.1 283.9h0M410.4 285.0h0M412.9 284.9h0M407.9 284.7h0M415.4 284.6h0M405.4 284.4h0M409.1 283.1h0M409.1 281.9h0M411.6 281.8h0M406.6 281.7h0M414.1 281.5h0M404.1 281.4h0M410.4 282.4h0M412.9 282.3h0M407.9 282.2h0M415.4 282.1h0M405.4 281.9h0M410.4 279.3h0M412.9 278.9h0M407.9 278.3h0M415.4 278.1h0M410.4 276.6h0M412.9 276.2h0M407.9 275.8h0M415.4 275.5h0M410.4 274.0h0M412.9 273.6h0M410.4 272.0h0M412.9 271.5h0M409.1 268.5h0M409.1 251.4h0M409.1 222.0h0" stroke="#f64545" stroke-width="1.70" stroke-linecap="round"/>
<path d="M424.5 292.0h0M426.9 291.9h0M422.1 291.7h0M429.3 291.5h0M419.7 291.4h0M425.7 292.4h0M428.1 292.3h0M423.3 292.3h0M430.5 292.2h0M420.9 292.1h0M424.5 289.9h0M426.9 289.8h0M422.1 289.7h0M429.3 289.6h0M419.7 289.5h0M425.7 290.7h0M428.1 290.6h0M423.3 290.5h0M430.5 290.5h0M420.9 290.4h0M424.5 289.1h0M426.9 289.1h0M422.1 289.0h0M429.3 288.9h0M419.7 288.7h0M425.7 289.8h0M425.7 301.0h0M428.1 300.9h0M425.7 286.8h0M428.1 286.7h0" stroke="#141414" stroke-width="1.70" stroke-linecap="round"/>
<path d="M435.3 296.3h0M437.8 296.1h0M432.8 295.9h0M440.3 295.7h0M430.3 295.6h0M435.3 294.5h0M437.8 294.3h0M432.8 294.2h0M440.3 294.0h0M430.3 293.9h0M436.6 295.0h0M439.1 294.8h0M434.1 294.7h0M441.6 294.5h0M431.6 294.3h0M435.3 291.9h0M437.8 291.7h0M432.8 291.6h0M440.3 291.5h0M430.3 291.5h0M436.6 292.7h0M439.1 292.6h0M434.1 292.5h0M441.6 292.4h0M431.6 292.4h0M435.3 291.1h0M437.8 291.0h0M432.8 291.0h0M440.3 290.9h0M430.3 290.8h0M437.8 292.0h0M440.3 291.9h0M435.3 291.8h0M442.8 291.8h0M435.3 289.5h0M437.8 289.4h0M432.8 289.3h0M440.3 289.2h0M430.3 289.2h0M436.6 290.3h0M439.1 290.3h0M434.1 290.2h0M441.6 290.1h0M431.6 290.0h0M435.3 288.7h0M437.8 288.5h0M432.8 288.4h0M440.3 288.3h0M430.3 288.2h0M436.6 289.4h0M435.3 287.0h0M437.8 286.9h0M432.8 286.8h0M440.3 286.6h0M430.3 286.5h0M436.6 287.6h0M439.1 287.5h0M434.1 287.4h0M441.6 287.3h0M431.6 287.2h0M435.3 285.8h0M437.8 285.7h0M432.8 285.5h0M435.3 284.4h0M437.8 284.4h0M432.8 284.2h0M440.3 284.1h0M430.3 284.0h0M436.6 285.1h0M439.1 285.0h0M434.1 284.9h0M441.6 284.8h0M431.6 284.6h0M435.3 283.1h0M436.6 281.7h0M439.1 281.4h0M434.1 281.0h0M441.6 280.6h0M436.6 279.3h0M439.1 278.7h0M434.1 278.3h0M441.6 278.1h0M435.3 276.5h0M437.8 276.4h0M432.8 275.9h0M435.3 274.3h0M435.3 266.1h0M435.3 263.3h0M435.3 261.3h0M435.3 248.5h0" stroke="#f64545" stroke-width="1.70" stroke-linecap="round"/>
<path d="M450.7 198.6h0M450.7 200.7h0M450.7 229.4h0M450.7 233.6h0M450.7 236.8h0M450.7 241.9h0M453.1 241.7h0M448.3 241.6h0M451.9 245.8h0M454.3 245.6h0M450.7 249.1h0M453.1 248.9h0M448.3 248.7h0M451.9 253.3h0M454.3 253.1h0M449.5 252.9h0M456.7 252.8h0M450.7 258.7h0M453.1 258.2h0M448.3 257.8h0M451.9 260.7h0M454.3 260.2h0M450.7 262.7h0M453.1 262.5h0M448.3 262.2h0M450.7 265.4h0M453.1 265.2h0M448.3 265.0h0M451.9 270.3h0M454.3 270.1h0M450.7 274.2h0" stroke="#141414" stroke-width="1.70" stroke-linecap="round"/>
<path d="M461.5 283.6h0M462.8 281.8h0M465.3 280.7h0M462.8 279.4h0M465.3 278.7h0M462.8 276.9h0M465.3 275.9h0M461.5 274.4h0M464.0 274.0h0M459.0 273.3h0M461.5 271.9h0M464.0 271.4h0M459.0 270.8h0M461.5 269.3h0M464.0 268.8h0M459.0 268.3h0M461.5 266.8h0M464.0 266.2h0M459.0 265.7h0M461.5 264.4h0M464.0 263.9h0M459.0 263.2h0M462.8 262.0h0M465.3 261.6h0M460.3 261.2h0M467.8 260.9h0M461.5 259.5h0M464.0 259.2h0M459.0 259.0h0M466.5 258.5h0M456.5 258.2h0M461.5 256.9h0M464.0 256.6h0M459.0 256.3h0M466.5 255.8h0M456.5 255.5h0M462.8 254.3h0M465.3 253.9h0M460.3 253.6h0M467.8 253.3h0M461.5 251.9h0M464.0 251.6h0M459.0 251.3h0M466.5 251.0h0M456.5 250.6h0M462.8 249.1h0M465.3 249.0h0M460.3 248.6h0M467.8 248.2h0M461.5 246.9h0M464.0 246.7h0M459.0 246.2h0M466.5 245.8h0M456.5 245.7h0M462.8 244.4h0M465.3 244.0h0M460.3 243.6h0M467.8 243.4h0M461.5 242.0h0M464.0 241.8h0M459.0 241.3h0M466.5 241.1h0M456.5 240.8h0M461.5 239.3h0M464.0 239.0h0M459.0 238.7h0M466.5 238.4h0M456.5 238.1h0M462.8 236.7h0M465.3 236.4h0M460.3 236.0h0M467.8 235.5h0M461.5 234.3h0M464.0 233.7h0M459.0 233.1h0M461.5 231.8h0M464.0 231.4h0M459.0 230.9h0M461.5 229.2h0M464.0 228.6h0M459.0 228.1h0M461.5 227.0h0M464.0 226.3h0M459.0 225.9h0M462.8 223.8h0M465.3 223.0h0M461.5 220.7h0M461.5 218.7h0M461.5 190.6h0M461.5 187.0h0" stroke="#f64545" stroke-width="1.70" stroke-linecap="round"/>
<path d="M478.1 250.7h0M480.5 250.5h0M476.9 253.6h0M479.3 253.4h0M474.5 253.2h0M476.9 256.1h0M479.3 256.0h0M474.5 255.9h0M476.9 257.3h0M476.9 263.0h0M479.3 262.7h0M474.5 262.5h0M476.9 265.8h0M476.9 268.3h0M479.3 268.1h0M474.5 267.8h0M481.7 267.6h0M472.1 267.3h0M478.1 268.2h0M476.9 269.3h0M478.1 274.4h0M480.5 274.2h0M476.9 273.1h0M476.9 279.8h0M476.9 286.4h0M476.9 292.0h0" stroke="#141414" stroke-width="1.70" stroke-linecap="round"/>
<path d="M487.7 298.9h0M488.9 294.5h0M491.4 293.6h0M487.7 291.2h0M487.7 288.3h0M487.7 286.2h0M488.9 284.5h0M491.4 284.3h0M486.4 283.6h0M493.9 283.1h0M488.9 281.2h0M491.4 280.6h0M488.9 279.0h0M491.4 278.4h0M487.7 276.5h0M490.2 275.9h0M485.2 275.5h0M487.7 273.9h0M490.2 273.3h0M485.2 273.1h0M487.7 271.8h0M490.2 271.6h0M485.2 271.3h0M492.7 271.1h0M482.7 270.8h0M488.9 271.9h0M487.7 269.4h0M490.2 269.1h0M485.2 268.7h0M492.7 268.6h0M482.7 268.3h0M488.9 269.4h0M487.7 266.8h0M490.2 266.6h0M485.2 266.3h0M492.7 266.1h0M482.7 265.7h0M488.9 266.8h0M487.7 264.3h0M490.2 264.0h0M485.2 263.8h0M492.7 263.5h0M482.7 263.3h0M488.9 264.3h0M487.7 261.6h0M490.2 261.5h0M485.2 261.3h0M492.7 261.0h0M482.7 260.7h0M487.7 259.3h0M490.2 259.2h0M485.2 258.8h0M492.7 258.7h0M482.7 258.4h0M488.9 259.3h0M487.7 256.9h0M490.2 256.7h0M485.2 256.4h0M492.7 256.1h0M482.7 255.9h0M488.9 256.9h0M487.7 254.3h0M490.2 254.0h0M485.2 253.8h0M492.7 253.6h0M482.7 253.3h0M488.9 254.3h0M487.7 251.9h0M490.2 251.7h0M485.2 251.4h0M492.7 251.1h0M482.7 250.9h0M487.7 249.5h0M490.2 248.7h0M485.2 248.4h0M487.7 246.7h0M490.2 246.4h0M485.2 245.8h0M488.9 243.9h0M491.4 243.8h0M487.7 242.0h0M490.2 241.3h0M485.2 240.8h0M488.9 239.2h0M491.4 238.8h0M487.7 236.8h0M487.7 233.9h0M487.7 231.2h0M487.7 228.1h0M487.7 226.5h0" stroke="#f64545" stroke-width="1.70" stroke-linecap="round"/>
<line x1="319.80" y1="293.51" x2="319.80" y2="295.64" stroke="#222" stroke-width="0.8" />
<line x1="317.60" y1="293.51" x2="322.00" y2="293.51" stroke="#222" stroke-width="0.8" />
<line x1="317.60" y1="295.64" x2="322.00" y2="295.64" stroke="#222" stroke-width="0.8" />
<line x1="316.30" y1="294.57" x2="323.30" y2="294.57" stroke="#222" stroke-width="0.8" />
<line x1="330.60" y1="289.79" x2="330.60" y2="294.04" stroke="#222" stroke-width="0.8" />
<line x1="328.40" y1="289.79" x2="332.80" y2="289.79" stroke="#222" stroke-width="0.8" />
<line x1="328.40" y1="294.04" x2="332.80" y2="294.04" stroke="#222" stroke-width="0.8" />
<line x1="327.10" y1="291.92" x2="334.10" y2="291.92" stroke="#222" stroke-width="0.8" />
<line x1="345.98" y1="290.68" x2="345.98" y2="294.22" stroke="#222" stroke-width="0.8" />
<line x1="343.78" y1="290.68" x2="348.18" y2="290.68" stroke="#222" stroke-width="0.8" />
<line x1="343.78" y1="294.22" x2="348.18" y2="294.22" stroke="#222" stroke-width="0.8" />
<line x1="342.48" y1="292.45" x2="349.48" y2="292.45" stroke="#222" stroke-width="0.8" />
<line x1="356.78" y1="287.67" x2="356.78" y2="292.98" stroke="#222" stroke-width="0.8" />
<line x1="354.58" y1="287.67" x2="358.98" y2="287.67" stroke="#222" stroke-width="0.8" />
<line x1="354.58" y1="292.98" x2="358.98" y2="292.98" stroke="#222" stroke-width="0.8" />
<line x1="353.28" y1="290.32" x2="360.28" y2="290.32" stroke="#222" stroke-width="0.8" />
<line x1="372.16" y1="291.39" x2="372.16" y2="294.22" stroke="#222" stroke-width="0.8" />
<line x1="369.96" y1="291.39" x2="374.36" y2="291.39" stroke="#222" stroke-width="0.8" />
<line x1="369.96" y1="294.22" x2="374.36" y2="294.22" stroke="#222" stroke-width="0.8" />
<line x1="368.66" y1="292.80" x2="375.66" y2="292.80" stroke="#222" stroke-width="0.8" />
<line x1="382.96" y1="289.79" x2="382.96" y2="294.04" stroke="#222" stroke-width="0.8" />
<line x1="380.76" y1="289.79" x2="385.16" y2="289.79" stroke="#222" stroke-width="0.8" />
<line x1="380.76" y1="294.04" x2="385.16" y2="294.04" stroke="#222" stroke-width="0.8" />
<line x1="379.46" y1="291.92" x2="386.46" y2="291.92" stroke="#222" stroke-width="0.8" />
<line x1="398.34" y1="288.20" x2="398.34" y2="292.45" stroke="#222" stroke-width="0.8" />
<line x1="396.14" y1="288.20" x2="400.54" y2="288.20" stroke="#222" stroke-width="0.8" />
<line x1="396.14" y1="292.45" x2="400.54" y2="292.45" stroke="#222" stroke-width="0.8" />
<line x1="394.84" y1="290.32" x2="401.84" y2="290.32" stroke="#222" stroke-width="0.8" />
<line x1="409.14" y1="284.66" x2="409.14" y2="291.03" stroke="#222" stroke-width="0.8" />
<line x1="406.94" y1="284.66" x2="411.34" y2="284.66" stroke="#222" stroke-width="0.8" />
<line x1="406.94" y1="291.03" x2="411.34" y2="291.03" stroke="#222" stroke-width="0.8" />
<line x1="405.64" y1="287.84" x2="412.64" y2="287.84" stroke="#222" stroke-width="0.8" />
<line x1="424.52" y1="288.02" x2="424.52" y2="291.56" stroke="#222" stroke-width="0.8" />
<line x1="422.32" y1="288.02" x2="426.72" y2="288.02" stroke="#222" stroke-width="0.8" />
<line x1="422.32" y1="291.56" x2="426.72" y2="291.56" stroke="#222" stroke-width="0.8" />
<line x1="421.02" y1="289.79" x2="428.02" y2="289.79" stroke="#222" stroke-width="0.8" />
<line x1="435.32" y1="285.90" x2="435.32" y2="291.56" stroke="#222" stroke-width="0.8" />
<line x1="433.12" y1="285.90" x2="437.52" y2="285.90" stroke="#222" stroke-width="0.8" />
<line x1="433.12" y1="291.56" x2="437.52" y2="291.56" stroke="#222" stroke-width="0.8" />
<line x1="431.82" y1="288.73" x2="438.82" y2="288.73" stroke="#222" stroke-width="0.8" />
<line x1="450.70" y1="244.10" x2="450.70" y2="268.89" stroke="#222" stroke-width="0.8" />
<line x1="448.50" y1="244.10" x2="452.90" y2="244.10" stroke="#222" stroke-width="0.8" />
<line x1="448.50" y1="268.89" x2="452.90" y2="268.89" stroke="#222" stroke-width="0.8" />
<line x1="447.20" y1="256.50" x2="454.20" y2="256.50" stroke="#222" stroke-width="0.8" />
<line x1="461.50" y1="238.61" x2="461.50" y2="259.86" stroke="#222" stroke-width="0.8" />
<line x1="459.30" y1="238.61" x2="463.70" y2="238.61" stroke="#222" stroke-width="0.8" />
<line x1="459.30" y1="259.86" x2="463.70" y2="259.86" stroke="#222" stroke-width="0.8" />
<line x1="458.00" y1="249.24" x2="465.00" y2="249.24" stroke="#222" stroke-width="0.8" />
<line x1="476.88" y1="256.50" x2="476.88" y2="275.98" stroke="#222" stroke-width="0.8" />
<line x1="474.68" y1="256.50" x2="479.08" y2="256.50" stroke="#222" stroke-width="0.8" />
<line x1="474.68" y1="275.98" x2="479.08" y2="275.98" stroke="#222" stroke-width="0.8" />
<line x1="473.38" y1="266.24" x2="480.38" y2="266.24" stroke="#222" stroke-width="0.8" />
<line x1="487.68" y1="254.20" x2="487.68" y2="269.07" stroke="#222" stroke-width="0.8" />
<line x1="485.48" y1="254.20" x2="489.88" y2="254.20" stroke="#222" stroke-width="0.8" />
<line x1="485.48" y1="269.07" x2="489.88" y2="269.07" stroke="#222" stroke-width="0.8" />
<line x1="484.18" y1="261.63" x2="491.18" y2="261.63" stroke="#222" stroke-width="0.8" />
<line x1="310.00" y1="181.23" x2="310.00" y2="305.20" stroke="#444444" stroke-width="0.9" />
<line x1="307.00" y1="305.20" x2="310.00" y2="305.20" stroke="#444444" stroke-width="0.9" />
<text x="305.10" y="307.45" font-size="6.3" text-anchor="end" fill="#111" font-weight="normal" stroke="#111" stroke-width="0.14">0</text>
<line x1="307.00" y1="287.49" x2="310.00" y2="287.49" stroke="#444444" stroke-width="0.9" />
<text x="305.10" y="289.74" font-size="6.3" text-anchor="end" fill="#111" font-weight="normal" stroke="#111" stroke-width="0.14">100</text>
<line x1="307.00" y1="269.78" x2="310.00" y2="269.78" stroke="#444444" stroke-width="0.9" />
<text x="305.10" y="272.03" font-size="6.3" text-anchor="end" fill="#111" font-weight="normal" stroke="#111" stroke-width="0.14">200</text>
<line x1="307.00" y1="252.07" x2="310.00" y2="252.07" stroke="#444444" stroke-width="0.9" />
<text x="305.10" y="254.32" font-size="6.3" text-anchor="end" fill="#111" font-weight="normal" stroke="#111" stroke-width="0.14">300</text>
<line x1="307.00" y1="234.36" x2="310.00" y2="234.36" stroke="#444444" stroke-width="0.9" />
<text x="305.10" y="236.61" font-size="6.3" text-anchor="end" fill="#111" font-weight="normal" stroke="#111" stroke-width="0.14">400</text>
<line x1="307.00" y1="216.65" x2="310.00" y2="216.65" stroke="#444444" stroke-width="0.9" />
<text x="305.10" y="218.90" font-size="6.3" text-anchor="end" fill="#111" font-weight="normal" stroke="#111" stroke-width="0.14">500</text>
<line x1="307.00" y1="198.94" x2="310.00" y2="198.94" stroke="#444444" stroke-width="0.9" />
<text x="305.10" y="201.19" font-size="6.3" text-anchor="end" fill="#111" font-weight="normal" stroke="#111" stroke-width="0.14">600</text>
<line x1="307.00" y1="181.23" x2="310.00" y2="181.23" stroke="#444444" stroke-width="0.9" />
<text x="305.10" y="183.48" font-size="6.3" text-anchor="end" fill="#111" font-weight="normal" stroke="#111" stroke-width="0.14">700</text>
<line x1="310.00" y1="305.20" x2="496.50" y2="305.20" stroke="#444444" stroke-width="0.9" />
<line x1="324.80" y1="305.20" x2="324.80" y2="307.40" stroke="#444444" stroke-width="0.8" />
<text x="324.80" y="316.40" font-size="6.7" text-anchor="middle" fill="#111" font-weight="normal" stroke="#111" stroke-width="0.14">NB</text>
<line x1="350.98" y1="305.20" x2="350.98" y2="307.40" stroke="#444444" stroke-width="0.8" />
<text x="350.98" y="316.40" font-size="6.7" text-anchor="middle" fill="#111" font-weight="normal" stroke="#111" stroke-width="0.14">aNB</text>
<line x1="377.16" y1="305.20" x2="377.16" y2="307.40" stroke="#444444" stroke-width="0.8" />
<text x="377.16" y="316.40" font-size="6.7" text-anchor="middle" fill="#111" font-weight="normal" stroke="#111" stroke-width="0.14">DN</text>
<line x1="403.34" y1="305.20" x2="403.34" y2="307.40" stroke="#444444" stroke-width="0.8" />
<text x="403.34" y="316.40" font-size="6.7" text-anchor="middle" fill="#111" font-weight="normal" stroke="#111" stroke-width="0.14">NSM</text>
<line x1="429.52" y1="305.20" x2="429.52" y2="307.40" stroke="#444444" stroke-width="0.8" />
<text x="429.52" y="316.40" font-size="6.7" text-anchor="middle" fill="#111" font-weight="normal" stroke="#111" stroke-width="0.14">SM</text>
<line x1="455.70" y1="305.20" x2="455.70" y2="307.40" stroke="#444444" stroke-width="0.8" />
<text x="455.70" y="316.40" font-size="6.7" text-anchor="middle" fill="#111" font-weight="normal" stroke="#111" stroke-width="0.14">PB</text>
<line x1="481.88" y1="305.20" x2="481.88" y2="307.40" stroke="#444444" stroke-width="0.8" />
<text x="481.88" y="316.40" font-size="6.7" text-anchor="middle" fill="#111" font-weight="normal" stroke="#111" stroke-width="0.14">PC</text>
<text x="280.60" y="243.00" font-size="7.0" text-anchor="middle" fill="#111" font-weight="normal" transform="rotate(-90 280.60 243.00)" stroke="#111" stroke-width="0.14">BCMA expression (MFI)</text>
<text x="289.60" y="243.00" font-size="7.0" text-anchor="middle" fill="#111" font-weight="normal" transform="rotate(-90 289.60 243.00)" stroke="#111" stroke-width="0.14">on CD19<tspan font-size="4.5" dy="-2.5">+</tspan><tspan dy="2.5"> B cells</tspan></text>
<path d="M319.60,276.90 L319.60,177.30 L328.50,177.30 L328.50,243.00" fill="none" stroke="#707070" stroke-width="0.9" />
<circle cx="318.80" cy="172.70" r="1.15" fill="#111"/>
<circle cx="322.30" cy="172.70" r="1.15" fill="#111"/>
<circle cx="325.80" cy="172.70" r="1.15" fill="#111"/>
<circle cx="329.30" cy="172.70" r="1.15" fill="#111"/>
<path d="M345.70,276.90 L345.70,177.30 L356.50,177.30 L356.50,243.00" fill="none" stroke="#707070" stroke-width="0.9" />
<circle cx="347.60" cy="172.70" r="1.15" fill="#111"/>
<circle cx="351.10" cy="172.70" r="1.15" fill="#111"/>
<circle cx="354.60" cy="172.70" r="1.15" fill="#111"/>
<path d="M372.40,255.30 L372.40,177.30 L383.40,177.30 L383.40,203.30" fill="none" stroke="#707070" stroke-width="0.9" />
<circle cx="372.65" cy="172.70" r="1.15" fill="#111"/>
<circle cx="376.15" cy="172.70" r="1.15" fill="#111"/>
<circle cx="379.65" cy="172.70" r="1.15" fill="#111"/>
<circle cx="383.15" cy="172.70" r="1.15" fill="#111"/>
<path d="M397.70,276.90 L397.70,177.30 L408.50,177.30 L408.50,203.30" fill="none" stroke="#707070" stroke-width="0.9" />
<circle cx="397.85" cy="172.70" r="1.15" fill="#111"/>
<circle cx="401.35" cy="172.70" r="1.15" fill="#111"/>
<circle cx="404.85" cy="172.70" r="1.15" fill="#111"/>
<circle cx="408.35" cy="172.70" r="1.15" fill="#111"/>
<path d="M425.00,278.20 L425.00,177.30 L435.80,177.30 L435.80,202.80" fill="none" stroke="#707070" stroke-width="0.9" />
<circle cx="425.15" cy="172.70" r="1.15" fill="#111"/>
<circle cx="428.65" cy="172.70" r="1.15" fill="#111"/>
<circle cx="432.15" cy="172.70" r="1.15" fill="#111"/>
<circle cx="435.65" cy="172.70" r="1.15" fill="#111"/>
<circle cx="503.0" cy="185.9" r="0.85" fill="#141414"/>
<text x="513.00" y="188.50" font-size="7.0" text-anchor="start" fill="#111" font-weight="normal" stroke="#111" stroke-width="0.14">HC</text>
<circle cx="503.0" cy="197.9" r="0.85" fill="#f64545"/>
<text x="513.00" y="200.80" font-size="7.0" text-anchor="start" fill="#111" font-weight="normal" stroke="#111" stroke-width="0.14">SLE (SOC)</text>
<rect x="46.20" y="465.37" width="16.50" height="10.63" fill="#d6d6d6" stroke="#262626" stroke-width="1.4" />
<rect x="71.50" y="463.25" width="16.50" height="12.75" fill="#d6d6d6" stroke="#262626" stroke-width="1.4" />
<rect x="96.80" y="463.60" width="16.50" height="12.40" fill="#d6d6d6" stroke="#262626" stroke-width="1.4" />
<rect x="122.10" y="461.12" width="16.50" height="14.88" fill="#d6d6d6" stroke="#262626" stroke-width="1.4" />
<rect x="147.40" y="460.59" width="16.50" height="15.41" fill="#d6d6d6" stroke="#262626" stroke-width="1.4" />
<rect x="172.70" y="427.30" width="16.50" height="48.70" fill="#d6d6d6" stroke="#262626" stroke-width="1.4" />
<rect x="198.00" y="437.04" width="16.50" height="38.96" fill="#d6d6d6" stroke="#262626" stroke-width="1.4" />
<path d="M55.9 468.7h0M58.8 468.2h0M53.0 468.1h0M61.6 468.0h0M50.1 467.9h0M64.5 467.8h0M55.9 469.2h0M55.9 466.0h0M58.8 466.0h0M53.0 465.9h0M61.6 465.8h0M50.1 465.8h0M64.5 465.7h0M57.3 467.1h0M60.2 467.1h0M54.4 467.0h0M63.1 466.9h0M51.5 466.8h0M66.0 466.8h0M55.9 465.3h0M58.8 465.3h0M53.0 465.2h0M61.6 465.1h0M50.1 465.1h0M64.5 465.0h0M55.9 466.3h0M54.4 463.1h0M57.3 462.6h0M51.5 462.5h0M54.4 471.0h0" stroke="#141414" stroke-width="1.80" stroke-linecap="round"/>
<path d="M81.2 465.2h0M84.1 465.1h0M78.2 465.0h0M87.0 464.9h0M81.2 463.1h0M84.1 463.0h0M78.2 463.0h0M87.0 462.9h0M75.4 462.8h0M89.9 462.8h0M82.6 464.1h0M85.5 464.1h0M79.7 464.0h0M88.4 463.9h0M76.8 463.8h0M91.3 463.7h0M79.7 462.2h0M82.6 462.1h0M76.8 462.0h0M79.7 460.1h0M82.6 460.1h0M76.8 459.7h0M85.5 459.6h0M73.9 459.5h0M79.7 468.4h0M82.6 468.3h0M76.8 468.2h0M85.5 468.0h0M73.9 467.9h0M79.7 453.9h0" stroke="#141414" stroke-width="1.80" stroke-linecap="round"/>
<path d="M106.5 465.8h0M109.4 465.7h0M103.5 465.5h0M112.2 465.4h0M100.7 465.4h0M115.2 465.3h0M107.9 466.6h0M110.8 466.6h0M105.0 466.5h0M113.7 466.5h0M102.1 466.4h0M116.6 466.4h0M106.5 463.1h0M109.4 463.1h0M103.5 463.0h0M112.2 463.0h0M100.7 462.9h0M115.2 462.9h0M107.9 464.3h0M110.8 464.3h0M105.0 464.2h0M113.7 464.2h0M102.1 464.1h0M116.6 464.1h0M105.0 462.5h0M106.5 471.4h0M109.4 471.3h0M105.0 460.2h0M107.9 460.1h0M102.1 460.0h0" stroke="#141414" stroke-width="1.80" stroke-linecap="round"/>
<path d="M131.8 463.0h0M134.7 462.7h0M128.8 462.6h0M137.6 462.4h0M126.0 462.3h0M140.4 462.2h0M133.2 463.6h0M136.1 463.5h0M131.8 460.2h0M134.7 460.1h0M128.8 460.0h0M137.6 459.9h0M126.0 459.8h0M140.4 459.7h0M131.8 461.0h0M134.7 460.9h0M128.8 460.9h0M137.6 460.7h0M126.0 460.6h0M130.3 457.3h0M133.2 457.1h0M127.4 456.7h0M136.1 456.5h0M124.5 456.4h0M131.8 471.4h0M134.7 471.3h0M131.8 465.3h0M134.7 465.0h0M131.8 454.2h0M134.7 454.1h0" stroke="#141414" stroke-width="1.80" stroke-linecap="round"/>
<path d="M157.0 462.8h0M159.9 462.7h0M154.1 462.5h0M162.8 462.4h0M151.2 462.3h0M165.7 462.2h0M157.0 463.6h0M159.9 463.6h0M154.1 463.5h0M162.8 463.5h0M151.2 463.4h0M157.0 460.2h0M159.9 460.1h0M154.1 460.1h0M162.8 460.0h0M151.2 460.0h0M165.7 459.9h0M158.5 461.3h0M161.4 461.3h0M155.6 461.3h0M164.3 461.2h0M152.7 461.2h0M167.2 461.1h0M155.6 459.6h0M158.5 459.5h0M152.7 459.4h0M157.0 471.4h0M159.9 471.4h0M157.0 457.1h0M159.9 457.0h0" stroke="#141414" stroke-width="1.80" stroke-linecap="round"/>
<path d="M180.9 369.7h0M180.9 372.3h0M180.9 401.1h0M180.9 404.4h0M180.9 407.6h0M180.9 413.2h0M183.8 413.1h0M178.0 413.0h0M182.3 416.3h0M185.2 416.1h0M180.9 419.6h0M183.8 419.4h0M178.0 419.3h0M182.3 424.6h0M185.2 424.4h0M179.4 424.3h0M188.2 424.3h0M182.3 428.3h0M185.2 428.1h0M180.9 431.1h0M183.8 430.7h0M178.0 430.4h0M180.9 433.5h0M183.8 433.4h0M178.0 433.2h0M180.9 436.4h0M183.8 436.3h0M178.0 436.1h0M182.3 441.9h0M185.2 441.7h0M180.9 445.0h0" stroke="#141414" stroke-width="1.80" stroke-linecap="round"/>
<path d="M207.7 421.8h0M210.6 421.6h0M206.2 424.8h0M209.1 424.6h0M203.3 424.5h0M207.7 427.7h0M210.6 427.6h0M204.8 427.5h0M213.5 427.4h0M206.2 433.7h0M209.1 433.5h0M203.3 433.4h0M207.7 436.8h0M210.6 436.7h0M207.7 439.5h0M210.6 439.4h0M204.8 439.3h0M213.5 439.1h0M201.8 439.0h0M216.3 438.8h0M206.2 445.1h0M209.1 445.0h0M203.3 444.8h0M206.2 450.8h0M206.2 456.8h0M206.2 462.8h0" stroke="#141414" stroke-width="1.80" stroke-linecap="round"/>
<line x1="54.40" y1="464.31" x2="54.40" y2="466.44" stroke="#222" stroke-width="0.8" />
<line x1="51.80" y1="464.31" x2="57.00" y2="464.31" stroke="#222" stroke-width="0.8" />
<line x1="51.80" y1="466.44" x2="57.00" y2="466.44" stroke="#222" stroke-width="0.8" />
<line x1="49.90" y1="465.37" x2="58.90" y2="465.37" stroke="#222" stroke-width="0.8" />
<line x1="79.70" y1="461.48" x2="79.70" y2="465.02" stroke="#222" stroke-width="0.8" />
<line x1="77.10" y1="461.48" x2="82.30" y2="461.48" stroke="#222" stroke-width="0.8" />
<line x1="77.10" y1="465.02" x2="82.30" y2="465.02" stroke="#222" stroke-width="0.8" />
<line x1="75.20" y1="463.25" x2="84.20" y2="463.25" stroke="#222" stroke-width="0.8" />
<line x1="105.00" y1="462.19" x2="105.00" y2="465.02" stroke="#222" stroke-width="0.8" />
<line x1="102.40" y1="462.19" x2="107.60" y2="462.19" stroke="#222" stroke-width="0.8" />
<line x1="102.40" y1="465.02" x2="107.60" y2="465.02" stroke="#222" stroke-width="0.8" />
<line x1="100.50" y1="463.60" x2="109.50" y2="463.60" stroke="#222" stroke-width="0.8" />
<line x1="130.30" y1="459.00" x2="130.30" y2="463.25" stroke="#222" stroke-width="0.8" />
<line x1="127.70" y1="459.00" x2="132.90" y2="459.00" stroke="#222" stroke-width="0.8" />
<line x1="127.70" y1="463.25" x2="132.90" y2="463.25" stroke="#222" stroke-width="0.8" />
<line x1="125.80" y1="461.12" x2="134.80" y2="461.12" stroke="#222" stroke-width="0.8" />
<line x1="155.60" y1="458.82" x2="155.60" y2="462.36" stroke="#222" stroke-width="0.8" />
<line x1="153.00" y1="458.82" x2="158.20" y2="458.82" stroke="#222" stroke-width="0.8" />
<line x1="153.00" y1="462.36" x2="158.20" y2="462.36" stroke="#222" stroke-width="0.8" />
<line x1="151.10" y1="460.59" x2="160.10" y2="460.59" stroke="#222" stroke-width="0.8" />
<line x1="180.90" y1="414.90" x2="180.90" y2="439.69" stroke="#222" stroke-width="0.8" />
<line x1="178.30" y1="414.90" x2="183.50" y2="414.90" stroke="#222" stroke-width="0.8" />
<line x1="178.30" y1="439.69" x2="183.50" y2="439.69" stroke="#222" stroke-width="0.8" />
<line x1="176.40" y1="427.30" x2="185.40" y2="427.30" stroke="#222" stroke-width="0.8" />
<line x1="206.20" y1="427.30" x2="206.20" y2="446.78" stroke="#222" stroke-width="0.8" />
<line x1="203.60" y1="427.30" x2="208.80" y2="427.30" stroke="#222" stroke-width="0.8" />
<line x1="203.60" y1="446.78" x2="208.80" y2="446.78" stroke="#222" stroke-width="0.8" />
<line x1="201.70" y1="437.04" x2="210.70" y2="437.04" stroke="#222" stroke-width="0.8" />
<line x1="37.40" y1="352.03" x2="37.40" y2="476.00" stroke="#444444" stroke-width="0.9" />
<line x1="34.40" y1="476.00" x2="37.40" y2="476.00" stroke="#444444" stroke-width="0.9" />
<text x="32.50" y="478.25" font-size="6.3" text-anchor="end" fill="#111" font-weight="normal" stroke="#111" stroke-width="0.14">0</text>
<line x1="34.40" y1="458.29" x2="37.40" y2="458.29" stroke="#444444" stroke-width="0.9" />
<text x="32.50" y="460.54" font-size="6.3" text-anchor="end" fill="#111" font-weight="normal" stroke="#111" stroke-width="0.14">100</text>
<line x1="34.40" y1="440.58" x2="37.40" y2="440.58" stroke="#444444" stroke-width="0.9" />
<text x="32.50" y="442.83" font-size="6.3" text-anchor="end" fill="#111" font-weight="normal" stroke="#111" stroke-width="0.14">200</text>
<line x1="34.40" y1="422.87" x2="37.40" y2="422.87" stroke="#444444" stroke-width="0.9" />
<text x="32.50" y="425.12" font-size="6.3" text-anchor="end" fill="#111" font-weight="normal" stroke="#111" stroke-width="0.14">300</text>
<line x1="34.40" y1="405.16" x2="37.40" y2="405.16" stroke="#444444" stroke-width="0.9" />
<text x="32.50" y="407.41" font-size="6.3" text-anchor="end" fill="#111" font-weight="normal" stroke="#111" stroke-width="0.14">400</text>
<line x1="34.40" y1="387.45" x2="37.40" y2="387.45" stroke="#444444" stroke-width="0.9" />
<text x="32.50" y="389.70" font-size="6.3" text-anchor="end" fill="#111" font-weight="normal" stroke="#111" stroke-width="0.14">500</text>
<line x1="34.40" y1="369.74" x2="37.40" y2="369.74" stroke="#444444" stroke-width="0.9" />
<text x="32.50" y="371.99" font-size="6.3" text-anchor="end" fill="#111" font-weight="normal" stroke="#111" stroke-width="0.14">600</text>
<line x1="34.40" y1="352.03" x2="37.40" y2="352.03" stroke="#444444" stroke-width="0.9" />
<text x="32.50" y="354.28" font-size="6.3" text-anchor="end" fill="#111" font-weight="normal" stroke="#111" stroke-width="0.14">700</text>
<line x1="37.40" y1="476.00" x2="223.00" y2="476.00" stroke="#444444" stroke-width="0.9" />
<line x1="54.40" y1="476.00" x2="54.40" y2="478.20" stroke="#444444" stroke-width="0.8" />
<text x="54.40" y="487.20" font-size="6.7" text-anchor="middle" fill="#111" font-weight="normal" stroke="#111" stroke-width="0.14">NB</text>
<line x1="79.70" y1="476.00" x2="79.70" y2="478.20" stroke="#444444" stroke-width="0.8" />
<text x="79.70" y="487.20" font-size="6.7" text-anchor="middle" fill="#111" font-weight="normal" stroke="#111" stroke-width="0.14">aNB</text>
<line x1="105.00" y1="476.00" x2="105.00" y2="478.20" stroke="#444444" stroke-width="0.8" />
<text x="105.00" y="487.20" font-size="6.7" text-anchor="middle" fill="#111" font-weight="normal" stroke="#111" stroke-width="0.14">DN</text>
<line x1="130.30" y1="476.00" x2="130.30" y2="478.20" stroke="#444444" stroke-width="0.8" />
<text x="130.30" y="487.20" font-size="6.7" text-anchor="middle" fill="#111" font-weight="normal" stroke="#111" stroke-width="0.14">NSM</text>
<line x1="155.60" y1="476.00" x2="155.60" y2="478.20" stroke="#444444" stroke-width="0.8" />
<text x="155.60" y="487.20" font-size="6.7" text-anchor="middle" fill="#111" font-weight="normal" stroke="#111" stroke-width="0.14">SM</text>
<line x1="180.90" y1="476.00" x2="180.90" y2="478.20" stroke="#444444" stroke-width="0.8" />
<text x="180.90" y="487.20" font-size="6.7" text-anchor="middle" fill="#111" font-weight="normal" stroke="#111" stroke-width="0.14">PB</text>
<line x1="206.20" y1="476.00" x2="206.20" y2="478.20" stroke="#444444" stroke-width="0.8" />
<text x="206.20" y="487.20" font-size="6.7" text-anchor="middle" fill="#111" font-weight="normal" stroke="#111" stroke-width="0.14">PC</text>
<text x="8.00" y="414.00" font-size="7.0" text-anchor="middle" fill="#111" font-weight="normal" transform="rotate(-90 8.00 414.00)" stroke="#111" stroke-width="0.14">BCMA expression (MFI)</text>
<text x="17.90" y="414.00" font-size="7.0" text-anchor="middle" fill="#111" font-weight="normal" transform="rotate(-90 17.90 414.00)" stroke="#111" stroke-width="0.14">on CD19<tspan font-size="4.5" dy="-2.5">+</tspan><tspan dy="2.5"> B cells</tspan></text>
<path d="M53.40,365.90 L53.40,358.20 L155.40,358.20 L155.40,366.00" fill="none" stroke="#707070" stroke-width="0.9" />
<circle cx="101.50" cy="353.80" r="1.1" fill="#111"/>
<circle cx="104.50" cy="353.80" r="1.1" fill="#111"/>
<circle cx="107.50" cy="353.80" r="1.1" fill="#111"/>
<path d="M53.40,444.70 L53.40,372.10 L128.30,372.10 L128.30,381.30" fill="none" stroke="#707070" stroke-width="0.9" />
<circle cx="86.30" cy="367.90" r="1.1" fill="#111"/>
<circle cx="89.30" cy="367.90" r="1.1" fill="#111"/>
<circle cx="92.30" cy="367.90" r="1.1" fill="#111"/>
<circle cx="95.30" cy="367.90" r="1.1" fill="#111"/>
<rect x="318.60" y="462.72" width="16.50" height="13.28" fill="#f0e0ea" stroke="#262626" stroke-width="1.4" />
<rect x="343.90" y="461.12" width="16.50" height="14.88" fill="#f0e0ea" stroke="#262626" stroke-width="1.4" />
<rect x="369.20" y="462.72" width="16.50" height="13.28" fill="#f0e0ea" stroke="#262626" stroke-width="1.4" />
<rect x="394.50" y="458.64" width="16.50" height="17.36" fill="#f0e0ea" stroke="#262626" stroke-width="1.4" />
<rect x="419.80" y="459.53" width="16.50" height="16.47" fill="#f0e0ea" stroke="#262626" stroke-width="1.4" />
<rect x="445.10" y="420.04" width="16.50" height="55.96" fill="#f0e0ea" stroke="#262626" stroke-width="1.4" />
<rect x="470.40" y="432.43" width="16.50" height="43.57" fill="#f0e0ea" stroke="#262626" stroke-width="1.4" />
<path d="M328.2 468.1h0M331.1 468.0h0M325.4 467.9h0M334.1 467.9h0M322.4 467.8h0M336.9 467.8h0M328.2 466.0h0M331.1 466.0h0M325.4 465.9h0M334.1 465.9h0M322.4 465.8h0M336.9 465.7h0M329.7 467.1h0M332.6 467.1h0M326.8 467.0h0M335.5 467.0h0M323.9 466.9h0M338.4 466.9h0M328.2 465.4h0M331.1 465.4h0M325.4 465.3h0M334.1 465.3h0M322.4 465.3h0M336.9 465.2h0M329.7 466.6h0M332.6 466.6h0M326.8 466.6h0M335.5 466.6h0M323.9 466.5h0M338.4 466.5h0M326.8 465.0h0M329.7 465.0h0M323.9 464.9h0M332.6 464.9h0M321.0 464.9h0M328.2 463.1h0M331.1 463.1h0M325.4 463.0h0M334.1 463.0h0M322.4 463.0h0M336.9 463.0h0M329.7 464.3h0M332.6 464.3h0M326.8 464.3h0M335.5 464.3h0M323.9 464.2h0M338.4 464.1h0M328.2 462.6h0M331.1 462.6h0M325.4 462.5h0M334.1 462.5h0M322.4 462.4h0M336.9 462.4h0M329.7 463.8h0M332.6 463.7h0M326.8 463.7h0M335.5 463.6h0M323.9 463.6h0M338.4 463.5h0M326.8 462.0h0M328.2 460.2h0M331.1 460.2h0M325.4 460.1h0M334.1 460.0h0M322.4 460.0h0M336.9 459.9h0M329.7 461.3h0M332.6 461.3h0M326.8 461.3h0M335.5 461.2h0M323.9 461.2h0M338.4 461.1h0M328.2 459.6h0M331.1 459.5h0M325.4 459.5h0M334.1 459.4h0M328.2 457.2h0M331.1 457.0h0M325.4 456.7h0M334.1 456.4h0M328.2 454.4h0M331.1 454.2h0M325.4 453.9h0M334.1 453.4h0M328.2 451.4h0M331.1 451.1h0M325.4 450.7h0M334.1 450.5h0M326.8 444.7h0M326.8 424.4h0" stroke="#f64545" stroke-width="1.80" stroke-linecap="round"/>
<path d="M353.6 468.4h0M356.4 468.3h0M350.7 468.2h0M359.4 468.1h0M347.8 468.0h0M362.2 468.0h0M353.6 469.3h0M353.6 466.0h0M356.4 465.9h0M350.7 465.8h0M359.4 465.8h0M347.8 465.6h0M362.2 465.6h0M355.0 466.9h0M357.9 466.8h0M352.1 466.7h0M360.8 466.6h0M349.2 466.5h0M363.7 466.5h0M352.1 465.0h0M355.0 464.9h0M349.2 464.9h0M353.6 463.0h0M356.4 463.0h0M350.7 463.0h0M359.4 462.9h0M347.8 462.8h0M362.2 462.8h0M355.0 464.2h0M357.9 464.1h0M352.1 464.1h0M360.8 464.0h0M349.2 464.0h0M363.7 463.9h0M353.6 462.4h0M356.4 462.4h0M350.7 462.3h0M359.4 462.2h0M347.8 462.2h0M362.2 462.2h0M353.6 463.5h0M356.4 463.5h0M350.7 463.4h0M353.6 460.2h0M356.4 460.2h0M350.7 460.1h0M359.4 460.0h0M347.8 459.9h0M362.2 459.8h0M355.0 461.2h0M357.9 461.2h0M352.1 461.1h0M360.8 461.0h0M349.2 461.0h0M363.7 460.9h0M352.1 459.4h0M355.0 459.3h0M349.2 459.2h0M357.9 459.2h0M346.3 459.1h0M353.6 457.3h0M356.4 457.2h0M350.7 457.1h0M359.4 457.1h0M347.8 457.0h0M362.2 456.9h0M355.0 458.3h0M357.9 458.3h0M352.1 458.2h0M360.8 458.1h0M349.2 458.0h0M363.7 458.0h0M352.1 456.5h0M355.0 456.4h0M349.2 456.3h0M352.1 454.4h0M355.0 454.2h0M349.2 453.9h0M357.9 453.8h0M346.3 453.4h0M352.1 451.5h0M355.0 451.3h0M349.2 451.0h0M357.9 450.9h0M346.3 450.6h0M352.1 448.5h0M355.0 448.2h0M349.2 447.8h0M352.1 445.4h0M352.1 421.8h0" stroke="#f64545" stroke-width="1.80" stroke-linecap="round"/>
<path d="M377.4 471.1h0M380.3 471.0h0M374.5 470.8h0M378.9 468.9h0M381.8 468.8h0M376.0 468.6h0M384.7 468.5h0M373.1 468.4h0M387.6 468.1h0M380.3 469.5h0M383.2 469.4h0M378.9 466.0h0M381.8 465.9h0M376.0 465.8h0M384.7 465.7h0M373.1 465.7h0M387.6 465.7h0M380.3 467.1h0M383.2 467.0h0M377.4 467.0h0M386.1 467.0h0M374.5 466.9h0M389.0 466.9h0M378.9 465.4h0M381.8 465.4h0M376.0 465.3h0M384.7 465.3h0M373.1 465.3h0M387.6 465.2h0M380.3 466.7h0M383.2 466.6h0M377.4 466.6h0M386.1 466.6h0M374.5 466.5h0M389.0 466.5h0M378.9 465.0h0M381.8 465.0h0M376.0 464.9h0M384.7 464.9h0M378.9 463.1h0M381.8 463.1h0M376.0 463.1h0M384.7 463.0h0M373.1 463.0h0M387.6 462.9h0M380.3 464.3h0M383.2 464.3h0M377.4 464.2h0M386.1 464.1h0M374.5 464.1h0M389.0 464.0h0M378.9 462.4h0M381.8 462.4h0M376.0 462.3h0M384.7 462.3h0M373.1 462.2h0M387.6 462.1h0M380.3 463.5h0M383.2 463.4h0M378.9 460.2h0M381.8 460.1h0M376.0 460.0h0M384.7 459.9h0M373.1 459.9h0M387.6 459.8h0M380.3 461.2h0M383.2 461.1h0M377.4 461.1h0M386.1 461.0h0M374.5 460.9h0M389.0 460.8h0M378.9 459.4h0M381.8 459.3h0M376.0 459.2h0M384.7 459.1h0M377.4 457.1h0M380.3 457.1h0M374.5 456.7h0M383.2 456.4h0M371.6 456.2h0M377.4 454.4h0M380.3 454.1h0M374.5 453.8h0M383.2 453.7h0M371.6 453.4h0M377.4 451.2h0M380.3 451.1h0M374.5 450.6h0M377.4 445.4h0M377.4 421.8h0" stroke="#f64545" stroke-width="1.80" stroke-linecap="round"/>
<path d="M404.2 465.7h0M407.1 465.5h0M401.3 465.4h0M410.0 465.3h0M398.4 465.1h0M412.9 465.0h0M404.2 466.4h0M404.2 463.1h0M407.1 463.0h0M401.3 462.8h0M410.0 462.7h0M398.4 462.6h0M412.9 462.4h0M405.6 463.8h0M408.5 463.7h0M402.7 463.5h0M411.4 463.5h0M404.2 460.2h0M407.1 460.1h0M401.3 460.1h0M410.0 460.1h0M398.4 460.0h0M412.9 460.0h0M405.6 461.4h0M408.5 461.3h0M402.7 461.3h0M411.4 461.2h0M399.8 461.2h0M414.3 461.2h0M404.2 459.7h0M407.1 459.6h0M401.3 459.6h0M410.0 459.6h0M398.4 459.5h0M412.9 459.5h0M405.6 460.9h0M408.5 460.9h0M402.7 460.8h0M411.4 460.8h0M399.8 460.7h0M414.3 460.7h0M402.7 459.2h0M405.6 459.1h0M399.8 459.1h0M404.2 457.3h0M407.1 457.2h0M401.3 457.1h0M410.0 457.0h0M398.4 456.9h0M412.9 456.8h0M405.6 458.2h0M408.5 458.1h0M402.7 458.0h0M411.4 457.9h0M399.8 457.8h0M414.3 457.7h0M402.7 456.2h0M404.2 454.3h0M407.1 454.3h0M401.3 454.1h0M410.0 454.1h0M398.4 453.9h0M412.9 453.8h0M405.6 455.2h0M408.5 455.2h0M402.7 455.0h0M411.4 454.9h0M399.8 454.9h0M414.3 454.7h0M404.2 451.5h0M407.1 451.4h0M401.3 451.3h0M410.0 451.2h0M398.4 451.1h0M412.9 451.0h0M405.6 452.2h0M408.5 451.9h0M404.2 448.4h0M407.1 448.2h0M401.3 447.9h0M410.0 447.6h0M404.2 445.6h0M407.1 445.4h0M401.3 445.0h0M410.0 444.8h0M404.2 442.6h0M407.1 442.3h0M402.7 439.3h0M402.7 422.1h0M402.7 393.1h0" stroke="#f64545" stroke-width="1.80" stroke-linecap="round"/>
<path d="M428.0 467.8h0M429.4 466.0h0M432.3 465.9h0M426.6 465.8h0M435.2 465.7h0M423.6 465.6h0M438.1 465.4h0M430.9 466.8h0M433.8 466.7h0M428.0 466.6h0M436.7 466.5h0M425.1 466.4h0M439.6 466.3h0M429.4 463.0h0M432.3 462.9h0M426.6 462.8h0M435.2 462.6h0M423.6 462.6h0M438.1 462.5h0M430.9 463.9h0M433.8 463.9h0M428.0 463.9h0M436.7 463.8h0M425.1 463.8h0M439.6 463.7h0M429.4 462.2h0M432.3 462.2h0M426.6 462.2h0M435.2 462.1h0M423.6 462.0h0M438.1 462.0h0M429.4 460.2h0M432.3 460.2h0M426.6 460.1h0M435.2 460.1h0M423.6 460.0h0M438.1 460.0h0M430.9 461.4h0M433.8 461.3h0M428.0 461.3h0M436.7 461.2h0M425.1 461.2h0M439.6 461.2h0M429.4 459.6h0M432.3 459.6h0M426.6 459.5h0M435.2 459.4h0M423.6 459.3h0M438.1 459.2h0M430.9 460.6h0M433.8 460.5h0M429.4 457.3h0M432.3 457.2h0M426.6 457.1h0M435.2 457.1h0M423.6 457.0h0M438.1 456.9h0M430.9 458.3h0M433.8 458.2h0M428.0 458.1h0M436.7 458.1h0M425.1 458.0h0M439.6 457.8h0M428.0 456.3h0M430.9 456.3h0M425.1 456.2h0M429.4 454.4h0M432.3 454.3h0M426.6 454.2h0M435.2 454.1h0M423.6 454.1h0M438.1 454.0h0M429.4 455.3h0M432.3 455.1h0M426.6 454.9h0M429.4 451.5h0M432.3 451.2h0M426.6 451.0h0M435.2 450.7h0M428.0 448.6h0M430.9 448.4h0M425.1 448.2h0M433.8 447.8h0M422.2 447.7h0M429.4 445.6h0M432.3 445.2h0M428.0 436.6h0M428.0 433.7h0M428.0 431.2h0M428.0 419.1h0" stroke="#f64545" stroke-width="1.80" stroke-linecap="round"/>
<path d="M454.8 454.0h0M457.6 453.5h0M454.8 451.0h0M457.6 450.8h0M454.8 448.6h0M457.6 448.1h0M454.8 445.6h0M457.6 445.4h0M451.9 445.1h0M460.6 444.6h0M453.3 442.6h0M456.2 442.3h0M450.4 441.9h0M454.8 439.8h0M457.6 439.5h0M451.9 439.1h0M460.6 438.8h0M453.3 436.7h0M456.2 436.3h0M450.4 436.1h0M454.8 434.1h0M457.6 433.6h0M451.9 433.4h0M460.6 433.2h0M454.8 431.2h0M457.6 431.0h0M451.9 430.7h0M460.6 430.5h0M448.9 430.4h0M463.4 430.1h0M453.3 428.1h0M456.2 427.9h0M450.4 427.7h0M459.1 427.5h0M447.5 427.2h0M453.3 425.3h0M456.2 425.1h0M450.4 424.9h0M459.1 424.6h0M447.5 424.4h0M453.3 422.4h0M456.2 422.2h0M450.4 422.0h0M459.1 421.8h0M447.5 421.6h0M454.8 419.5h0M457.6 419.4h0M451.9 419.1h0M460.6 418.9h0M448.9 418.7h0M463.4 418.5h0M453.3 416.5h0M456.2 416.2h0M450.4 416.2h0M459.1 415.9h0M447.5 415.7h0M453.3 413.7h0M456.2 413.5h0M450.4 413.2h0M459.1 413.1h0M447.5 412.8h0M454.8 410.9h0M457.6 410.7h0M451.9 410.4h0M460.6 410.2h0M448.9 410.0h0M463.4 409.8h0M454.8 407.9h0M457.6 407.6h0M451.9 407.4h0M460.6 407.1h0M454.8 405.1h0M457.6 404.9h0M451.9 404.5h0M460.6 404.1h0M454.8 402.2h0M457.6 401.9h0M451.9 401.6h0M460.6 401.1h0M453.3 399.0h0M456.2 398.6h0M450.4 398.5h0M453.3 396.3h0M456.2 396.1h0M450.4 395.4h0M453.3 393.1h0M454.8 390.5h0M457.6 389.8h0M453.3 361.0h0M453.3 358.2h0" stroke="#f64545" stroke-width="1.80" stroke-linecap="round"/>
<path d="M478.6 468.9h0M480.1 465.6h0M482.9 465.0h0M478.6 462.3h0M478.6 459.3h0M478.6 456.9h0M481.5 456.4h0M475.7 456.2h0M480.1 454.0h0M482.9 453.7h0M478.6 451.4h0M481.5 451.0h0M475.7 450.6h0M480.1 448.4h0M482.9 447.8h0M480.1 445.7h0M482.9 445.4h0M477.2 445.0h0M485.9 444.6h0M480.1 442.7h0M482.9 442.5h0M477.2 442.4h0M485.9 442.2h0M474.2 442.1h0M488.8 441.8h0M480.1 443.2h0M480.1 439.9h0M482.9 439.7h0M477.2 439.4h0M485.9 439.3h0M474.2 439.1h0M488.8 439.0h0M480.1 440.3h0M480.1 436.9h0M482.9 436.7h0M477.2 436.6h0M485.9 436.3h0M474.2 436.2h0M488.8 436.1h0M480.1 434.1h0M482.9 434.0h0M477.2 433.8h0M485.9 433.7h0M474.2 433.5h0M488.8 433.2h0M481.5 434.6h0M484.4 434.4h0M480.1 431.1h0M482.9 430.8h0M477.2 430.6h0M485.9 430.5h0M474.2 430.3h0M488.8 430.2h0M480.1 428.3h0M482.9 428.0h0M477.2 427.9h0M485.9 427.8h0M474.2 427.6h0M488.8 427.4h0M480.1 428.7h0M480.1 425.3h0M482.9 425.1h0M477.2 424.9h0M485.9 424.7h0M474.2 424.6h0M488.8 424.4h0M480.1 422.5h0M482.9 422.4h0M477.2 422.3h0M485.9 422.1h0M474.2 421.9h0M488.8 421.8h0M480.1 422.9h0M478.6 419.2h0M481.5 419.0h0M475.7 418.6h0M478.6 416.6h0M481.5 416.2h0M475.7 415.6h0M478.6 413.8h0M481.5 413.3h0M475.7 412.8h0M478.6 410.7h0M481.5 410.4h0M475.7 410.1h0M478.6 407.7h0M478.6 404.7h0M478.6 401.8h0M480.1 398.6h0M482.9 398.3h0" stroke="#f64545" stroke-width="1.80" stroke-linecap="round"/>
<line x1="326.80" y1="460.59" x2="326.80" y2="464.84" stroke="#222" stroke-width="0.8" />
<line x1="324.20" y1="460.59" x2="329.40" y2="460.59" stroke="#222" stroke-width="0.8" />
<line x1="324.20" y1="464.84" x2="329.40" y2="464.84" stroke="#222" stroke-width="0.8" />
<line x1="322.30" y1="462.72" x2="331.30" y2="462.72" stroke="#222" stroke-width="0.8" />
<line x1="352.10" y1="458.47" x2="352.10" y2="463.78" stroke="#222" stroke-width="0.8" />
<line x1="349.50" y1="458.47" x2="354.70" y2="458.47" stroke="#222" stroke-width="0.8" />
<line x1="349.50" y1="463.78" x2="354.70" y2="463.78" stroke="#222" stroke-width="0.8" />
<line x1="347.60" y1="461.12" x2="356.60" y2="461.12" stroke="#222" stroke-width="0.8" />
<line x1="377.40" y1="460.59" x2="377.40" y2="464.84" stroke="#222" stroke-width="0.8" />
<line x1="374.80" y1="460.59" x2="380.00" y2="460.59" stroke="#222" stroke-width="0.8" />
<line x1="374.80" y1="464.84" x2="380.00" y2="464.84" stroke="#222" stroke-width="0.8" />
<line x1="372.90" y1="462.72" x2="381.90" y2="462.72" stroke="#222" stroke-width="0.8" />
<line x1="402.70" y1="455.46" x2="402.70" y2="461.83" stroke="#222" stroke-width="0.8" />
<line x1="400.10" y1="455.46" x2="405.30" y2="455.46" stroke="#222" stroke-width="0.8" />
<line x1="400.10" y1="461.83" x2="405.30" y2="461.83" stroke="#222" stroke-width="0.8" />
<line x1="398.20" y1="458.64" x2="407.20" y2="458.64" stroke="#222" stroke-width="0.8" />
<line x1="428.00" y1="456.70" x2="428.00" y2="462.36" stroke="#222" stroke-width="0.8" />
<line x1="425.40" y1="456.70" x2="430.60" y2="456.70" stroke="#222" stroke-width="0.8" />
<line x1="425.40" y1="462.36" x2="430.60" y2="462.36" stroke="#222" stroke-width="0.8" />
<line x1="423.50" y1="459.53" x2="432.50" y2="459.53" stroke="#222" stroke-width="0.8" />
<line x1="453.30" y1="409.41" x2="453.30" y2="430.66" stroke="#222" stroke-width="0.8" />
<line x1="450.70" y1="409.41" x2="455.90" y2="409.41" stroke="#222" stroke-width="0.8" />
<line x1="450.70" y1="430.66" x2="455.90" y2="430.66" stroke="#222" stroke-width="0.8" />
<line x1="448.80" y1="420.04" x2="457.80" y2="420.04" stroke="#222" stroke-width="0.8" />
<line x1="478.60" y1="425.00" x2="478.60" y2="439.87" stroke="#222" stroke-width="0.8" />
<line x1="476.00" y1="425.00" x2="481.20" y2="425.00" stroke="#222" stroke-width="0.8" />
<line x1="476.00" y1="439.87" x2="481.20" y2="439.87" stroke="#222" stroke-width="0.8" />
<line x1="474.10" y1="432.43" x2="483.10" y2="432.43" stroke="#222" stroke-width="0.8" />
<line x1="310.20" y1="352.03" x2="310.20" y2="476.00" stroke="#444444" stroke-width="0.9" />
<line x1="307.20" y1="476.00" x2="310.20" y2="476.00" stroke="#444444" stroke-width="0.9" />
<text x="305.30" y="478.25" font-size="6.3" text-anchor="end" fill="#111" font-weight="normal" stroke="#111" stroke-width="0.14">0</text>
<line x1="307.20" y1="458.29" x2="310.20" y2="458.29" stroke="#444444" stroke-width="0.9" />
<text x="305.30" y="460.54" font-size="6.3" text-anchor="end" fill="#111" font-weight="normal" stroke="#111" stroke-width="0.14">100</text>
<line x1="307.20" y1="440.58" x2="310.20" y2="440.58" stroke="#444444" stroke-width="0.9" />
<text x="305.30" y="442.83" font-size="6.3" text-anchor="end" fill="#111" font-weight="normal" stroke="#111" stroke-width="0.14">200</text>
<line x1="307.20" y1="422.87" x2="310.20" y2="422.87" stroke="#444444" stroke-width="0.9" />
<text x="305.30" y="425.12" font-size="6.3" text-anchor="end" fill="#111" font-weight="normal" stroke="#111" stroke-width="0.14">300</text>
<line x1="307.20" y1="405.16" x2="310.20" y2="405.16" stroke="#444444" stroke-width="0.9" />
<text x="305.30" y="407.41" font-size="6.3" text-anchor="end" fill="#111" font-weight="normal" stroke="#111" stroke-width="0.14">400</text>
<line x1="307.20" y1="387.45" x2="310.20" y2="387.45" stroke="#444444" stroke-width="0.9" />
<text x="305.30" y="389.70" font-size="6.3" text-anchor="end" fill="#111" font-weight="normal" stroke="#111" stroke-width="0.14">500</text>
<line x1="307.20" y1="369.74" x2="310.20" y2="369.74" stroke="#444444" stroke-width="0.9" />
<text x="305.30" y="371.99" font-size="6.3" text-anchor="end" fill="#111" font-weight="normal" stroke="#111" stroke-width="0.14">600</text>
<line x1="307.20" y1="352.03" x2="310.20" y2="352.03" stroke="#444444" stroke-width="0.9" />
<text x="305.30" y="354.28" font-size="6.3" text-anchor="end" fill="#111" font-weight="normal" stroke="#111" stroke-width="0.14">700</text>
<line x1="310.20" y1="476.00" x2="495.80" y2="476.00" stroke="#444444" stroke-width="0.9" />
<line x1="326.80" y1="476.00" x2="326.80" y2="478.20" stroke="#444444" stroke-width="0.8" />
<text x="326.80" y="487.20" font-size="6.7" text-anchor="middle" fill="#111" font-weight="normal" stroke="#111" stroke-width="0.14">NB</text>
<line x1="352.10" y1="476.00" x2="352.10" y2="478.20" stroke="#444444" stroke-width="0.8" />
<text x="352.10" y="487.20" font-size="6.7" text-anchor="middle" fill="#111" font-weight="normal" stroke="#111" stroke-width="0.14">aNB</text>
<line x1="377.40" y1="476.00" x2="377.40" y2="478.20" stroke="#444444" stroke-width="0.8" />
<text x="377.40" y="487.20" font-size="6.7" text-anchor="middle" fill="#111" font-weight="normal" stroke="#111" stroke-width="0.14">DN</text>
<line x1="402.70" y1="476.00" x2="402.70" y2="478.20" stroke="#444444" stroke-width="0.8" />
<text x="402.70" y="487.20" font-size="6.7" text-anchor="middle" fill="#111" font-weight="normal" stroke="#111" stroke-width="0.14">NSM</text>
<line x1="428.00" y1="476.00" x2="428.00" y2="478.20" stroke="#444444" stroke-width="0.8" />
<text x="428.00" y="487.20" font-size="6.7" text-anchor="middle" fill="#111" font-weight="normal" stroke="#111" stroke-width="0.14">SM</text>
<line x1="453.30" y1="476.00" x2="453.30" y2="478.20" stroke="#444444" stroke-width="0.8" />
<text x="453.30" y="487.20" font-size="6.7" text-anchor="middle" fill="#111" font-weight="normal" stroke="#111" stroke-width="0.14">PB</text>
<line x1="478.60" y1="476.00" x2="478.60" y2="478.20" stroke="#444444" stroke-width="0.8" />
<text x="478.60" y="487.20" font-size="6.7" text-anchor="middle" fill="#111" font-weight="normal" stroke="#111" stroke-width="0.14">PC</text>
<text x="280.80" y="414.00" font-size="7.0" text-anchor="middle" fill="#111" font-weight="normal" transform="rotate(-90 280.80 414.00)" stroke="#111" stroke-width="0.14">BCMA expression (MFI)</text>
<text x="290.70" y="414.00" font-size="7.0" text-anchor="middle" fill="#111" font-weight="normal" transform="rotate(-90 290.70 414.00)" stroke="#111" stroke-width="0.14">on CD19<tspan font-size="4.5" dy="-2.5">+</tspan><tspan dy="2.5"> B cells</tspan></text>
<path d="M326.60,366.00 L326.60,358.30 L427.70,358.30 L427.70,366.00" fill="none" stroke="#707070" stroke-width="0.9" />
<circle cx="374.30" cy="353.80" r="1.1" fill="#111"/>
<circle cx="377.30" cy="353.80" r="1.1" fill="#111"/>
<circle cx="380.30" cy="353.80" r="1.1" fill="#111"/>
<path d="M327.60,418.00 L327.60,371.50 L401.10,371.50 L401.10,379.80" fill="none" stroke="#707070" stroke-width="0.9" />
<circle cx="359.50" cy="366.90" r="1.1" fill="#111"/>
<circle cx="362.50" cy="366.90" r="1.1" fill="#111"/>
<circle cx="365.50" cy="366.90" r="1.1" fill="#111"/>
<circle cx="368.50" cy="366.90" r="1.1" fill="#111"/>
<path d="M377.30,398.00 L377.30,388.30 L427.70,388.30 L427.70,398.00" fill="none" stroke="#707070" stroke-width="0.9" />
<circle cx="399.90" cy="384.30" r="1.1" fill="#111"/>
<circle cx="402.90" cy="384.30" r="1.1" fill="#111"/>
<circle cx="405.90" cy="384.30" r="1.1" fill="#111"/>
<path d="M377.30,414.00 L377.30,404.80 L402.70,404.80 L402.70,413.40" fill="none" stroke="#707070" stroke-width="0.9" />
<circle cx="387.40" cy="399.60" r="1.1" fill="#111"/>
<circle cx="390.40" cy="399.60" r="1.1" fill="#111"/>
<circle cx="393.40" cy="399.60" r="1.1" fill="#111"/>
<rect x="27.60" y="12.90" width="52.10" height="52.00" fill="none" stroke="#8a8a8a" stroke-width="0.8" />
<line x1="25.80" y1="64.30" x2="27.60" y2="64.30" stroke="#444" stroke-width="0.6" />
<text x="25.00" y="65.20" font-size="2.2" text-anchor="end" fill="#555" font-weight="bold" >0</text>
<line x1="25.80" y1="54.58" x2="27.60" y2="54.58" stroke="#444" stroke-width="0.6" />
<text x="25.00" y="55.48" font-size="2.2" text-anchor="end" fill="#555" font-weight="bold" >50K</text>
<line x1="25.80" y1="44.86" x2="27.60" y2="44.86" stroke="#444" stroke-width="0.6" />
<text x="25.00" y="45.76" font-size="2.2" text-anchor="end" fill="#555" font-weight="bold" >100K</text>
<line x1="25.80" y1="35.14" x2="27.60" y2="35.14" stroke="#444" stroke-width="0.6" />
<text x="25.00" y="36.04" font-size="2.2" text-anchor="end" fill="#555" font-weight="bold" >150K</text>
<line x1="25.80" y1="25.42" x2="27.60" y2="25.42" stroke="#444" stroke-width="0.6" />
<text x="25.00" y="26.32" font-size="2.2" text-anchor="end" fill="#555" font-weight="bold" >200K</text>
<line x1="25.80" y1="15.70" x2="27.60" y2="15.70" stroke="#444" stroke-width="0.6" />
<text x="25.00" y="16.60" font-size="2.2" text-anchor="end" fill="#555" font-weight="bold" >250K</text>
<line x1="26.60" y1="64.30" x2="27.60" y2="64.30" stroke="#444" stroke-width="0.4" />
<line x1="26.60" y1="59.44" x2="27.60" y2="59.44" stroke="#444" stroke-width="0.4" />
<line x1="26.60" y1="54.58" x2="27.60" y2="54.58" stroke="#444" stroke-width="0.4" />
<line x1="26.60" y1="49.72" x2="27.60" y2="49.72" stroke="#444" stroke-width="0.4" />
<line x1="26.60" y1="44.86" x2="27.60" y2="44.86" stroke="#444" stroke-width="0.4" />
<line x1="26.60" y1="40.00" x2="27.60" y2="40.00" stroke="#444" stroke-width="0.4" />
<line x1="26.60" y1="35.14" x2="27.60" y2="35.14" stroke="#444" stroke-width="0.4" />
<line x1="26.60" y1="30.28" x2="27.60" y2="30.28" stroke="#444" stroke-width="0.4" />
<line x1="26.60" y1="25.42" x2="27.60" y2="25.42" stroke="#444" stroke-width="0.4" />
<line x1="26.60" y1="20.56" x2="27.60" y2="20.56" stroke="#444" stroke-width="0.4" />
<line x1="26.60" y1="15.70" x2="27.60" y2="15.70" stroke="#444" stroke-width="0.4" />
<line x1="28.20" y1="64.90" x2="28.20" y2="66.50" stroke="#444" stroke-width="0.6" />
<text x="28.20" y="68.90" font-size="2.2" text-anchor="middle" fill="#555" font-weight="bold" >0</text>
<line x1="37.70" y1="64.90" x2="37.70" y2="66.50" stroke="#444" stroke-width="0.6" />
<text x="37.70" y="68.90" font-size="2.2" text-anchor="middle" fill="#555" font-weight="bold" >50K</text>
<line x1="47.20" y1="64.90" x2="47.20" y2="66.50" stroke="#444" stroke-width="0.6" />
<text x="47.20" y="68.90" font-size="2.2" text-anchor="middle" fill="#555" font-weight="bold" >100K</text>
<line x1="56.70" y1="64.90" x2="56.70" y2="66.50" stroke="#444" stroke-width="0.6" />
<text x="56.70" y="68.90" font-size="2.2" text-anchor="middle" fill="#555" font-weight="bold" >150K</text>
<line x1="66.20" y1="64.90" x2="66.20" y2="66.50" stroke="#444" stroke-width="0.6" />
<text x="66.20" y="68.90" font-size="2.2" text-anchor="middle" fill="#555" font-weight="bold" >200K</text>
<line x1="75.70" y1="64.90" x2="75.70" y2="66.50" stroke="#444" stroke-width="0.6" />
<text x="75.70" y="68.90" font-size="2.2" text-anchor="middle" fill="#555" font-weight="bold" >250K</text>
<path d="M36.00,63.60 L38.40,54.60 L42.20,47.00 L46.00,43.20 L52.60,39.50 L59.20,36.60 L69.60,39.50 L75.30,45.10 L77.10,51.70 L75.30,57.40 L67.70,60.20 L56.40,61.70 L46.90,63.10 L36.50,64.20 Z" fill="#d0d0ff" filter="url(#b05)" opacity="1"/>
<path d="M62.2,56.8h0.6v0.6h-0.6zM67.1,61.8h0.6v0.6h-0.6zM37.2,49.0h0.6v0.6h-0.6zM75.6,54.2h0.6v0.6h-0.6zM55.7,42.9h0.6v0.6h-0.6zM58.8,52.1h0.6v0.6h-0.6zM47.7,61.7h0.6v0.6h-0.6zM61.9,39.5h0.6v0.6h-0.6zM36.1,60.4h0.6v0.6h-0.6zM48.2,62.9h0.6v0.6h-0.6zM58.6,55.0h0.6v0.6h-0.6zM44.6,62.3h0.6v0.6h-0.6zM65.0,63.1h0.6v0.6h-0.6zM73.5,44.4h0.6v0.6h-0.6zM48.7,52.9h0.6v0.6h-0.6zM36.1,55.0h0.6v0.6h-0.6zM50.2,44.7h0.6v0.6h-0.6zM70.4,49.5h0.6v0.6h-0.6zM49.3,49.5h0.6v0.6h-0.6zM67.5,59.7h0.6v0.6h-0.6zM36.8,58.1h0.6v0.6h-0.6zM51.4,52.2h0.6v0.6h-0.6zM43.6,62.7h0.6v0.6h-0.6zM44.3,57.2h0.6v0.6h-0.6zM50.5,45.9h0.6v0.6h-0.6zM58.0,57.7h0.6v0.6h-0.6zM40.5,57.0h0.6v0.6h-0.6zM69.5,60.1h0.6v0.6h-0.6zM37.5,62.5h0.6v0.6h-0.6zM61.7,61.7h0.6v0.6h-0.6zM50.3,61.9h0.6v0.6h-0.6zM58.9,44.7h0.6v0.6h-0.6zM64.9,63.9h0.6v0.6h-0.6zM77.4,50.9h0.6v0.6h-0.6zM53.0,42.6h0.6v0.6h-0.6zM60.9,59.1h0.6v0.6h-0.6zM55.1,47.8h0.6v0.6h-0.6zM38.3,61.6h0.6v0.6h-0.6zM37.4,49.8h0.6v0.6h-0.6zM62.5,58.1h0.6v0.6h-0.6zM40.5,48.2h0.6v0.6h-0.6zM42.3,59.7h0.6v0.6h-0.6zM48.4,48.7h0.6v0.6h-0.6zM77.0,48.7h0.6v0.6h-0.6zM56.5,56.4h0.6v0.6h-0.6zM56.1,44.1h0.6v0.6h-0.6zM53.0,40.1h0.6v0.6h-0.6zM51.8,63.7h0.6v0.6h-0.6zM76.3,53.6h0.6v0.6h-0.6zM57.0,45.5h0.6v0.6h-0.6zM68.8,60.3h0.6v0.6h-0.6zM51.2,58.0h0.6v0.6h-0.6zM68.5,55.4h0.6v0.6h-0.6zM63.9,57.3h0.6v0.6h-0.6zM51.3,55.7h0.6v0.6h-0.6zM47.8,49.6h0.6v0.6h-0.6zM68.3,55.3h0.6v0.6h-0.6zM48.3,62.5h0.6v0.6h-0.6zM63.3,52.3h0.6v0.6h-0.6zM36.5,51.3h0.6v0.6h-0.6zM46.5,54.8h0.6v0.6h-0.6zM55.4,58.9h0.6v0.6h-0.6zM63.2,58.3h0.6v0.6h-0.6zM50.6,54.0h0.6v0.6h-0.6zM67.0,59.2h0.6v0.6h-0.6zM50.7,59.6h0.6v0.6h-0.6zM72.5,55.3h0.6v0.6h-0.6zM57.8,50.8h0.6v0.6h-0.6zM43.0,59.4h0.6v0.6h-0.6zM75.4,49.4h0.6v0.6h-0.6zM65.0,56.2h0.6v0.6h-0.6zM66.7,40.8h0.6v0.6h-0.6zM68.8,52.3h0.6v0.6h-0.6zM64.0,47.8h0.6v0.6h-0.6zM62.2,57.7h0.6v0.6h-0.6zM62.7,56.2h0.6v0.6h-0.6zM54.5,54.2h0.6v0.6h-0.6zM45.2,55.2h0.6v0.6h-0.6zM55.8,42.3h0.6v0.6h-0.6zM55.5,46.6h0.6v0.6h-0.6zM61.7,52.5h0.6v0.6h-0.6zM46.0,61.3h0.6v0.6h-0.6zM47.7,47.5h0.6v0.6h-0.6zM40.8,59.3h0.6v0.6h-0.6zM61.8,38.7h0.6v0.6h-0.6zM58.9,45.5h0.6v0.6h-0.6zM60.4,62.8h0.6v0.6h-0.6zM70.4,47.7h0.6v0.6h-0.6zM70.1,54.0h0.6v0.6h-0.6zM61.0,51.8h0.6v0.6h-0.6zM61.6,45.8h0.6v0.6h-0.6zM40.5,51.8h0.6v0.6h-0.6zM61.8,39.9h0.6v0.6h-0.6zM62.4,61.0h0.6v0.6h-0.6zM51.8,48.1h0.6v0.6h-0.6zM45.5,44.2h0.6v0.6h-0.6zM76.8,46.6h0.6v0.6h-0.6zM61.0,43.3h0.6v0.6h-0.6zM77.2,49.9h0.6v0.6h-0.6zM53.5,44.9h0.6v0.6h-0.6zM77.3,49.8h0.6v0.6h-0.6zM48.0,49.4h0.6v0.6h-0.6zM41.1,53.4h0.6v0.6h-0.6zM54.6,44.2h0.6v0.6h-0.6zM68.8,59.2h0.6v0.6h-0.6zM36.6,50.9h0.6v0.6h-0.6zM47.5,62.2h0.6v0.6h-0.6zM68.8,42.9h0.6v0.6h-0.6zM61.5,49.3h0.6v0.6h-0.6zM63.1,52.9h0.6v0.6h-0.6zM67.9,44.4h0.6v0.6h-0.6zM58.4,45.4h0.6v0.6h-0.6zM48.5,50.8h0.6v0.6h-0.6zM55.5,46.1h0.6v0.6h-0.6zM67.3,52.5h0.6v0.6h-0.6zM55.1,61.7h0.6v0.6h-0.6zM73.3,51.3h0.6v0.6h-0.6zM36.6,57.8h0.6v0.6h-0.6zM54.0,52.1h0.6v0.6h-0.6zM65.7,53.7h0.6v0.6h-0.6zM56.2,61.5h0.6v0.6h-0.6zM52.2,47.0h0.6v0.6h-0.6zM48.5,59.2h0.6v0.6h-0.6zM38.8,59.4h0.6v0.6h-0.6zM65.2,48.1h0.6v0.6h-0.6zM48.0,57.9h0.6v0.6h-0.6zM56.1,51.4h0.6v0.6h-0.6zM56.9,45.3h0.6v0.6h-0.6zM42.4,52.4h0.6v0.6h-0.6zM45.7,58.9h0.6v0.6h-0.6zM69.3,54.6h0.6v0.6h-0.6zM37.1,56.2h0.6v0.6h-0.6zM71.4,42.1h0.6v0.6h-0.6zM63.1,62.7h0.6v0.6h-0.6zM65.9,39.8h0.6v0.6h-0.6zM48.3,61.7h0.6v0.6h-0.6zM42.3,53.1h0.6v0.6h-0.6zM53.4,40.5h0.6v0.6h-0.6zM60.2,56.8h0.6v0.6h-0.6zM54.1,44.8h0.6v0.6h-0.6zM61.2,49.7h0.6v0.6h-0.6zM75.4,46.5h0.6v0.6h-0.6zM38.3,55.5h0.6v0.6h-0.6zM42.3,53.7h0.6v0.6h-0.6zM57.2,61.5h0.6v0.6h-0.6zM59.3,53.4h0.6v0.6h-0.6zM47.1,51.4h0.6v0.6h-0.6zM46.7,57.0h0.6v0.6h-0.6zM57.7,39.7h0.6v0.6h-0.6zM45.8,46.4h0.6v0.6h-0.6zM66.9,41.0h0.6v0.6h-0.6zM66.0,54.3h0.6v0.6h-0.6zM39.6,54.7h0.6v0.6h-0.6zM60.9,42.7h0.6v0.6h-0.6zM72.8,49.5h0.6v0.6h-0.6zM49.6,58.3h0.6v0.6h-0.6zM37.2,56.3h0.6v0.6h-0.6zM62.2,45.9h0.6v0.6h-0.6zM45.9,45.3h0.6v0.6h-0.6zM61.8,45.8h0.6v0.6h-0.6zM70.9,54.1h0.6v0.6h-0.6zM69.8,48.1h0.6v0.6h-0.6zM71.8,50.5h0.6v0.6h-0.6zM60.9,52.1h0.6v0.6h-0.6zM67.1,47.1h0.6v0.6h-0.6zM73.3,49.5h0.6v0.6h-0.6zM55.7,60.9h0.6v0.6h-0.6zM62.0,48.0h0.6v0.6h-0.6zM55.6,38.8h0.6v0.6h-0.6zM51.7,46.8h0.6v0.6h-0.6zM46.7,43.8h0.6v0.6h-0.6zM45.9,49.5h0.6v0.6h-0.6zM37.3,61.9h0.6v0.6h-0.6zM51.5,62.3h0.6v0.6h-0.6zM64.9,54.9h0.6v0.6h-0.6zM55.8,62.5h0.6v0.6h-0.6zM41.0,54.7h0.6v0.6h-0.6zM48.2,54.9h0.6v0.6h-0.6zM66.6,40.6h0.6v0.6h-0.6zM52.8,63.3h0.6v0.6h-0.6zM51.3,44.7h0.6v0.6h-0.6zM55.7,43.9h0.6v0.6h-0.6zM66.8,56.1h0.6v0.6h-0.6zM64.2,62.3h0.6v0.6h-0.6zM63.1,48.1h0.6v0.6h-0.6zM38.6,57.8h0.6v0.6h-0.6zM59.0,63.7h0.6v0.6h-0.6zM57.8,45.8h0.6v0.6h-0.6zM73.7,49.8h0.6v0.6h-0.6zM46.7,47.4h0.6v0.6h-0.6zM37.6,63.2h0.6v0.6h-0.6zM43.5,50.2h0.6v0.6h-0.6zM52.9,50.9h0.6v0.6h-0.6zM40.5,51.2h0.6v0.6h-0.6zM74.7,52.8h0.6v0.6h-0.6zM36.7,51.1h0.6v0.6h-0.6zM56.4,52.0h0.6v0.6h-0.6zM51.8,53.5h0.6v0.6h-0.6zM66.5,61.6h0.6v0.6h-0.6zM48.9,48.6h0.6v0.6h-0.6zM70.7,42.3h0.6v0.6h-0.6zM39.7,57.6h0.6v0.6h-0.6zM70.4,44.8h0.6v0.6h-0.6zM54.0,52.2h0.6v0.6h-0.6zM53.7,44.8h0.6v0.6h-0.6zM67.6,51.6h0.6v0.6h-0.6zM73.6,54.3h0.6v0.6h-0.6zM67.9,52.1h0.6v0.6h-0.6zM54.6,58.9h0.6v0.6h-0.6zM63.5,62.7h0.6v0.6h-0.6zM66.6,55.6h0.6v0.6h-0.6zM47.2,58.7h0.6v0.6h-0.6zM47.0,54.9h0.6v0.6h-0.6zM68.1,51.6h0.6v0.6h-0.6zM61.7,42.5h0.6v0.6h-0.6zM54.0,46.1h0.6v0.6h-0.6zM60.5,59.2h0.6v0.6h-0.6zM58.3,40.8h0.6v0.6h-0.6zM65.8,48.5h0.6v0.6h-0.6zM74.4,48.9h0.6v0.6h-0.6zM54.2,48.4h0.6v0.6h-0.6zM58.4,63.2h0.6v0.6h-0.6zM61.0,38.9h0.6v0.6h-0.6zM70.2,47.7h0.6v0.6h-0.6zM38.2,63.4h0.6v0.6h-0.6zM37.4,52.2h0.6v0.6h-0.6zM56.2,60.7h0.6v0.6h-0.6zM52.5,42.0h0.6v0.6h-0.6zM59.6,46.0h0.6v0.6h-0.6zM67.5,42.8h0.6v0.6h-0.6zM50.8,43.0h0.6v0.6h-0.6zM71.7,53.3h0.6v0.6h-0.6zM70.9,49.7h0.6v0.6h-0.6zM40.1,56.1h0.6v0.6h-0.6zM69.5,45.1h0.6v0.6h-0.6zM64.7,60.2h0.6v0.6h-0.6zM62.2,58.4h0.6v0.6h-0.6zM57.5,52.4h0.6v0.6h-0.6zM43.8,46.9h0.6v0.6h-0.6zM49.1,46.7h0.6v0.6h-0.6zM56.0,55.7h0.6v0.6h-0.6zM52.8,63.5h0.6v0.6h-0.6zM65.1,54.8h0.6v0.6h-0.6zM58.5,58.4h0.6v0.6h-0.6zM51.2,52.6h0.6v0.6h-0.6zM64.5,50.6h0.6v0.6h-0.6zM60.4,57.3h0.6v0.6h-0.6zM66.0,44.6h0.6v0.6h-0.6zM67.6,54.8h0.6v0.6h-0.6zM64.9,59.5h0.6v0.6h-0.6zM67.0,53.1h0.6v0.6h-0.6zM44.8,50.5h0.6v0.6h-0.6zM76.9,51.2h0.6v0.6h-0.6zM52.4,41.0h0.6v0.6h-0.6zM63.4,61.2h0.6v0.6h-0.6zM74.2,53.2h0.6v0.6h-0.6zM64.9,51.5h0.6v0.6h-0.6zM66.0,46.5h0.6v0.6h-0.6zM48.8,43.5h0.6v0.6h-0.6zM62.1,61.1h0.6v0.6h-0.6zM43.0,53.7h0.6v0.6h-0.6zM68.2,42.3h0.6v0.6h-0.6zM38.6,51.8h0.6v0.6h-0.6zM66.6,47.7h0.6v0.6h-0.6zM53.9,50.8h0.6v0.6h-0.6zM74.0,44.5h0.6v0.6h-0.6zM47.8,53.0h0.6v0.6h-0.6zM59.6,52.9h0.6v0.6h-0.6zM61.0,54.1h0.6v0.6h-0.6zM65.0,56.4h0.6v0.6h-0.6zM38.6,49.6h0.6v0.6h-0.6zM49.4,59.8h0.6v0.6h-0.6zM63.1,61.9h0.6v0.6h-0.6zM45.6,55.5h0.6v0.6h-0.6zM71.3,49.3h0.6v0.6h-0.6zM42.4,53.2h0.6v0.6h-0.6zM40.4,57.2h0.6v0.6h-0.6zM66.9,58.9h0.6v0.6h-0.6zM69.8,56.0h0.6v0.6h-0.6zM62.3,63.0h0.6v0.6h-0.6zM51.7,48.8h0.6v0.6h-0.6zM64.6,56.8h0.6v0.6h-0.6zM58.8,46.5h0.6v0.6h-0.6zM40.9,52.7h0.6v0.6h-0.6zM51.7,55.1h0.6v0.6h-0.6zM56.8,63.0h0.6v0.6h-0.6zM67.9,56.2h0.6v0.6h-0.6zM56.1,45.9h0.6v0.6h-0.6zM67.0,61.7h0.6v0.6h-0.6zM52.0,44.1h0.6v0.6h-0.6zM56.9,55.5h0.6v0.6h-0.6zM69.1,52.1h0.6v0.6h-0.6zM48.4,45.4h0.6v0.6h-0.6zM71.6,50.5h0.6v0.6h-0.6zM46.0,54.7h0.6v0.6h-0.6zM40.0,49.4h0.6v0.6h-0.6zM77.4,51.2h0.6v0.6h-0.6zM52.2,62.1h0.6v0.6h-0.6zM68.2,46.1h0.6v0.6h-0.6zM55.2,46.7h0.6v0.6h-0.6zM57.7,37.5h0.6v0.6h-0.6zM45.2,63.3h0.6v0.6h-0.6zM54.6,49.2h0.6v0.6h-0.6zM52.5,57.8h0.6v0.6h-0.6zM54.3,52.6h0.6v0.6h-0.6zM73.9,54.1h0.6v0.6h-0.6zM37.0,57.5h0.6v0.6h-0.6zM53.4,60.5h0.6v0.6h-0.6zM51.9,64.0h0.6v0.6h-0.6zM67.8,61.0h0.6v0.6h-0.6zM42.2,57.9h0.6v0.6h-0.6zM53.7,63.2h0.6v0.6h-0.6zM53.7,43.6h0.6v0.6h-0.6zM55.7,44.0h0.6v0.6h-0.6zM64.0,39.5h0.6v0.6h-0.6zM43.1,48.8h0.6v0.6h-0.6zM61.2,39.8h0.6v0.6h-0.6zM45.9,61.8h0.6v0.6h-0.6zM43.8,48.0h0.6v0.6h-0.6zM47.2,57.1h0.6v0.6h-0.6zM51.7,57.7h0.6v0.6h-0.6zM42.4,50.5h0.6v0.6h-0.6zM63.0,46.5h0.6v0.6h-0.6zM51.5,49.4h0.6v0.6h-0.6zM60.4,63.0h0.6v0.6h-0.6zM46.1,51.9h0.6v0.6h-0.6zM47.0,51.3h0.6v0.6h-0.6zM56.2,55.8h0.6v0.6h-0.6zM36.3,57.6h0.6v0.6h-0.6zM53.6,50.1h0.6v0.6h-0.6zM61.6,58.2h0.6v0.6h-0.6zM38.4,50.0h0.6v0.6h-0.6zM48.5,48.6h0.6v0.6h-0.6zM63.5,61.9h0.6v0.6h-0.6zM51.6,50.8h0.6v0.6h-0.6zM66.0,62.2h0.6v0.6h-0.6zM54.8,56.6h0.6v0.6h-0.6zM58.2,46.9h0.6v0.6h-0.6zM74.8,44.4h0.6v0.6h-0.6zM59.2,59.2h0.6v0.6h-0.6zM56.8,51.8h0.6v0.6h-0.6zM44.7,48.7h0.6v0.6h-0.6zM47.6,57.9h0.6v0.6h-0.6zM67.1,43.3h0.6v0.6h-0.6zM70.8,53.5h0.6v0.6h-0.6zM52.3,53.6h0.6v0.6h-0.6zM72.8,48.3h0.6v0.6h-0.6zM67.1,51.7h0.6v0.6h-0.6zM70.6,49.8h0.6v0.6h-0.6zM60.7,39.3h0.6v0.6h-0.6zM66.3,53.1h0.6v0.6h-0.6zM61.7,42.2h0.6v0.6h-0.6zM38.7,55.2h0.6v0.6h-0.6zM55.3,54.2h0.6v0.6h-0.6zM73.5,56.2h0.6v0.6h-0.6zM38.9,54.0h0.6v0.6h-0.6zM67.7,43.2h0.6v0.6h-0.6zM67.8,50.4h0.6v0.6h-0.6zM73.9,49.0h0.6v0.6h-0.6zM47.1,62.5h0.6v0.6h-0.6zM53.9,53.4h0.6v0.6h-0.6zM63.3,40.9h0.6v0.6h-0.6zM41.8,49.8h0.6v0.6h-0.6zM64.9,48.5h0.6v0.6h-0.6zM60.1,61.5h0.6v0.6h-0.6zM56.7,51.0h0.6v0.6h-0.6zM73.8,51.5h0.6v0.6h-0.6zM63.8,47.7h0.6v0.6h-0.6zM68.9,59.4h0.6v0.6h-0.6zM46.9,46.0h0.6v0.6h-0.6zM73.4,43.4h0.6v0.6h-0.6zM62.4,53.9h0.6v0.6h-0.6zM68.3,45.4h0.6v0.6h-0.6zM40.3,53.7h0.6v0.6h-0.6zM71.5,52.3h0.6v0.6h-0.6zM38.1,63.2h0.6v0.6h-0.6zM52.1,53.8h0.6v0.6h-0.6zM66.4,43.3h0.6v0.6h-0.6zM53.2,45.2h0.6v0.6h-0.6zM66.1,47.5h0.6v0.6h-0.6zM73.6,50.2h0.6v0.6h-0.6zM40.4,47.7h0.6v0.6h-0.6zM59.7,44.1h0.6v0.6h-0.6zM40.5,50.3h0.6v0.6h-0.6zM55.6,38.9h0.6v0.6h-0.6zM58.6,38.3h0.6v0.6h-0.6zM77.5,51.2h0.6v0.6h-0.6zM54.4,43.6h0.6v0.6h-0.6zM59.1,63.2h0.6v0.6h-0.6zM54.0,41.9h0.6v0.6h-0.6zM57.6,61.7h0.6v0.6h-0.6zM52.0,53.7h0.6v0.6h-0.6zM74.6,45.1h0.6v0.6h-0.6zM70.1,50.8h0.6v0.6h-0.6zM75.4,49.0h0.6v0.6h-0.6zM54.6,61.7h0.6v0.6h-0.6zM60.1,50.0h0.6v0.6h-0.6zM47.9,56.8h0.6v0.6h-0.6zM46.8,49.2h0.6v0.6h-0.6zM67.9,52.9h0.6v0.6h-0.6zM65.2,56.4h0.6v0.6h-0.6zM40.3,63.9h0.6v0.6h-0.6zM39.8,48.5h0.6v0.6h-0.6zM62.0,60.0h0.6v0.6h-0.6zM42.9,55.6h0.6v0.6h-0.6zM40.4,52.3h0.6v0.6h-0.6zM46.6,46.0h0.6v0.6h-0.6zM38.2,56.2h0.6v0.6h-0.6zM41.1,57.4h0.6v0.6h-0.6zM50.1,52.6h0.6v0.6h-0.6zM62.8,49.7h0.6v0.6h-0.6zM47.8,45.3h0.6v0.6h-0.6zM53.6,47.6h0.6v0.6h-0.6zM63.5,57.2h0.6v0.6h-0.6zM75.6,44.7h0.6v0.6h-0.6zM71.8,54.5h0.6v0.6h-0.6zM53.7,59.5h0.6v0.6h-0.6zM64.4,45.5h0.6v0.6h-0.6zM66.7,50.1h0.6v0.6h-0.6zM65.9,53.2h0.6v0.6h-0.6zM69.2,57.6h0.6v0.6h-0.6zM58.5,49.4h0.6v0.6h-0.6zM46.0,59.2h0.6v0.6h-0.6zM63.3,46.8h0.6v0.6h-0.6zM63.1,42.4h0.6v0.6h-0.6zM63.6,52.3h0.6v0.6h-0.6zM67.2,50.1h0.6v0.6h-0.6zM54.3,44.6h0.6v0.6h-0.6zM66.9,46.4h0.6v0.6h-0.6zM61.1,57.2h0.6v0.6h-0.6zM54.7,55.2h0.6v0.6h-0.6zM55.2,48.3h0.6v0.6h-0.6zM69.7,49.3h0.6v0.6h-0.6zM69.4,57.5h0.6v0.6h-0.6zM62.2,59.4h0.6v0.6h-0.6zM61.8,56.0h0.6v0.6h-0.6zM71.7,53.3h0.6v0.6h-0.6zM36.9,60.8h0.6v0.6h-0.6zM48.6,56.4h0.6v0.6h-0.6zM52.3,40.6h0.6v0.6h-0.6zM64.9,42.1h0.6v0.6h-0.6zM52.9,48.6h0.6v0.6h-0.6zM55.1,57.5h0.6v0.6h-0.6zM65.1,60.1h0.6v0.6h-0.6zM64.7,57.4h0.6v0.6h-0.6zM69.3,47.7h0.6v0.6h-0.6zM63.7,54.4h0.6v0.6h-0.6zM73.1,56.0h0.6v0.6h-0.6zM54.6,41.3h0.6v0.6h-0.6zM49.8,43.0h0.6v0.6h-0.6zM64.6,57.5h0.6v0.6h-0.6zM44.1,50.9h0.6v0.6h-0.6zM71.3,46.2h0.6v0.6h-0.6zM40.0,53.0h0.6v0.6h-0.6zM42.3,47.9h0.6v0.6h-0.6zM59.1,62.8h0.6v0.6h-0.6zM71.0,45.1h0.6v0.6h-0.6zM38.5,52.9h0.6v0.6h-0.6zM67.8,49.4h0.6v0.6h-0.6zM69.7,48.6h0.6v0.6h-0.6zM74.6,53.0h0.6v0.6h-0.6zM58.6,40.8h0.6v0.6h-0.6zM53.9,48.3h0.6v0.6h-0.6zM70.6,42.4h0.6v0.6h-0.6zM48.4,58.9h0.6v0.6h-0.6zM39.0,51.0h0.6v0.6h-0.6zM45.2,54.6h0.6v0.6h-0.6zM61.0,38.6h0.6v0.6h-0.6zM66.7,47.4h0.6v0.6h-0.6zM49.5,60.0h0.6v0.6h-0.6zM68.7,44.7h0.6v0.6h-0.6zM64.5,39.5h0.6v0.6h-0.6zM57.8,38.3h0.6v0.6h-0.6zM62.9,61.6h0.6v0.6h-0.6zM57.6,49.1h0.6v0.6h-0.6zM54.6,40.2h0.6v0.6h-0.6zM47.7,48.6h0.6v0.6h-0.6zM39.0,54.9h0.6v0.6h-0.6zM46.2,44.1h0.6v0.6h-0.6zM75.1,44.2h0.6v0.6h-0.6zM50.4,41.9h0.6v0.6h-0.6zM64.6,48.9h0.6v0.6h-0.6zM40.1,60.1h0.6v0.6h-0.6zM49.8,55.2h0.6v0.6h-0.6zM55.0,60.4h0.6v0.6h-0.6zM48.0,43.4h0.6v0.6h-0.6zM70.5,50.1h0.6v0.6h-0.6zM50.6,50.2h0.6v0.6h-0.6zM71.5,52.0h0.6v0.6h-0.6zM55.0,54.4h0.6v0.6h-0.6zM61.8,47.4h0.6v0.6h-0.6zM53.9,39.7h0.6v0.6h-0.6zM54.4,60.6h0.6v0.6h-0.6zM48.9,46.2h0.6v0.6h-0.6zM61.3,52.5h0.6v0.6h-0.6zM43.4,48.5h0.6v0.6h-0.6zM40.6,57.2h0.6v0.6h-0.6zM39.4,53.5h0.6v0.6h-0.6zM47.9,54.4h0.6v0.6h-0.6zM37.4,48.8h0.6v0.6h-0.6zM65.1,50.3h0.6v0.6h-0.6zM62.0,59.7h0.6v0.6h-0.6zM43.5,49.3h0.6v0.6h-0.6zM49.4,53.5h0.6v0.6h-0.6zM40.7,60.8h0.6v0.6h-0.6zM51.6,57.9h0.6v0.6h-0.6zM52.4,60.0h0.6v0.6h-0.6zM67.4,56.4h0.6v0.6h-0.6zM55.2,43.8h0.6v0.6h-0.6zM43.3,47.5h0.6v0.6h-0.6zM75.1,47.3h0.6v0.6h-0.6zM46.7,53.3h0.6v0.6h-0.6zM54.4,53.2h0.6v0.6h-0.6zM55.1,44.0h0.6v0.6h-0.6zM37.5,58.9h0.6v0.6h-0.6zM63.7,42.8h0.6v0.6h-0.6zM57.0,52.3h0.6v0.6h-0.6zM57.2,61.2h0.6v0.6h-0.6zM68.7,44.6h0.6v0.6h-0.6zM50.2,53.1h0.6v0.6h-0.6zM42.8,62.2h0.6v0.6h-0.6zM37.9,50.0h0.6v0.6h-0.6zM47.5,50.7h0.6v0.6h-0.6zM45.3,48.8h0.6v0.6h-0.6zM44.1,63.6h0.6v0.6h-0.6zM49.1,42.9h0.6v0.6h-0.6zM68.9,43.1h0.6v0.6h-0.6zM66.2,49.7h0.6v0.6h-0.6zM66.6,56.5h0.6v0.6h-0.6zM74.3,51.6h0.6v0.6h-0.6zM52.1,52.0h0.6v0.6h-0.6zM46.9,48.8h0.6v0.6h-0.6zM46.4,46.3h0.6v0.6h-0.6zM76.2,49.6h0.6v0.6h-0.6zM71.2,56.8h0.6v0.6h-0.6zM60.9,45.0h0.6v0.6h-0.6zM52.5,44.9h0.6v0.6h-0.6zM62.6,59.9h0.6v0.6h-0.6zM69.2,44.3h0.6v0.6h-0.6zM60.5,42.4h0.6v0.6h-0.6zM63.9,52.4h0.6v0.6h-0.6zM47.8,56.5h0.6v0.6h-0.6zM44.7,61.8h0.6v0.6h-0.6zM41.0,52.6h0.6v0.6h-0.6zM65.6,56.5h0.6v0.6h-0.6zM56.5,60.4h0.6v0.6h-0.6zM62.4,55.3h0.6v0.6h-0.6zM55.6,51.3h0.6v0.6h-0.6zM40.0,56.8h0.6v0.6h-0.6zM50.6,49.3h0.6v0.6h-0.6zM57.9,59.5h0.6v0.6h-0.6zM48.7,51.7h0.6v0.6h-0.6zM61.4,54.4h0.6v0.6h-0.6zM49.1,43.8h0.6v0.6h-0.6zM55.8,52.8h0.6v0.6h-0.6zM63.1,39.7h0.6v0.6h-0.6zM54.7,51.7h0.6v0.6h-0.6zM56.9,44.3h0.6v0.6h-0.6zM42.8,47.2h0.6v0.6h-0.6zM50.8,55.5h0.6v0.6h-0.6zM73.6,48.4h0.6v0.6h-0.6zM46.8,49.4h0.6v0.6h-0.6zM56.4,40.2h0.6v0.6h-0.6zM64.0,56.2h0.6v0.6h-0.6zM56.0,51.0h0.6v0.6h-0.6zM57.2,54.5h0.6v0.6h-0.6zM49.9,55.2h0.6v0.6h-0.6zM51.4,53.3h0.6v0.6h-0.6zM61.8,54.8h0.6v0.6h-0.6zM65.8,55.7h0.6v0.6h-0.6zM45.7,53.2h0.6v0.6h-0.6zM67.7,42.3h0.6v0.6h-0.6zM56.7,50.7h0.6v0.6h-0.6zM66.3,57.4h0.6v0.6h-0.6zM55.7,62.3h0.6v0.6h-0.6zM54.6,51.9h0.6v0.6h-0.6zM66.0,62.8h0.6v0.6h-0.6zM39.5,57.8h0.6v0.6h-0.6zM63.4,51.1h0.6v0.6h-0.6zM69.2,60.1h0.6v0.6h-0.6zM42.2,49.6h0.6v0.6h-0.6zM61.8,55.6h0.6v0.6h-0.6zM53.9,61.6h0.6v0.6h-0.6zM50.0,57.6h0.6v0.6h-0.6zM58.3,54.7h0.6v0.6h-0.6zM62.8,60.2h0.6v0.6h-0.6zM66.0,63.2h0.6v0.6h-0.6zM56.7,49.8h0.6v0.6h-0.6zM63.6,51.7h0.6v0.6h-0.6zM38.1,62.9h0.6v0.6h-0.6zM49.4,50.0h0.6v0.6h-0.6zM75.0,43.8h0.6v0.6h-0.6zM48.5,58.7h0.6v0.6h-0.6zM46.1,54.7h0.6v0.6h-0.6zM59.9,61.1h0.6v0.6h-0.6zM56.0,45.2h0.6v0.6h-0.6zM46.9,46.2h0.6v0.6h-0.6zM50.9,43.0h0.6v0.6h-0.6zM48.3,53.6h0.6v0.6h-0.6zM56.1,39.3h0.6v0.6h-0.6zM58.0,43.5h0.6v0.6h-0.6zM42.0,58.0h0.6v0.6h-0.6zM40.4,48.3h0.6v0.6h-0.6zM68.2,51.2h0.6v0.6h-0.6zM72.7,44.9h0.6v0.6h-0.6zM73.6,47.9h0.6v0.6h-0.6zM67.0,58.7h0.6v0.6h-0.6zM55.6,61.5h0.6v0.6h-0.6zM77.5,51.5h0.6v0.6h-0.6zM53.9,50.6h0.6v0.6h-0.6zM55.0,44.7h0.6v0.6h-0.6zM75.8,49.3h0.6v0.6h-0.6zM48.9,57.8h0.6v0.6h-0.6zM46.3,47.8h0.6v0.6h-0.6zM58.0,54.9h0.6v0.6h-0.6zM64.2,50.6h0.6v0.6h-0.6zM64.3,45.4h0.6v0.6h-0.6zM45.8,44.8h0.6v0.6h-0.6zM56.7,41.9h0.6v0.6h-0.6zM71.8,49.5h0.6v0.6h-0.6zM73.4,52.2h0.6v0.6h-0.6zM48.2,56.0h0.6v0.6h-0.6zM37.9,60.9h0.6v0.6h-0.6zM75.3,54.6h0.6v0.6h-0.6zM71.1,52.6h0.6v0.6h-0.6zM38.7,50.6h0.6v0.6h-0.6zM43.6,48.5h0.6v0.6h-0.6zM56.7,58.0h0.6v0.6h-0.6zM41.6,62.5h0.6v0.6h-0.6zM72.4,49.5h0.6v0.6h-0.6zM73.2,44.3h0.6v0.6h-0.6zM77.2,45.0h0.6v0.6h-0.6zM63.5,61.4h0.6v0.6h-0.6zM50.6,45.7h0.6v0.6h-0.6zM57.7,46.4h0.6v0.6h-0.6zM47.2,47.5h0.6v0.6h-0.6zM75.8,52.7h0.6v0.6h-0.6zM37.3,60.7h0.6v0.6h-0.6zM67.1,57.1h0.6v0.6h-0.6zM61.8,49.3h0.6v0.6h-0.6zM66.3,48.0h0.6v0.6h-0.6zM50.6,47.5h0.6v0.6h-0.6zM47.7,57.9h0.6v0.6h-0.6zM56.7,40.8h0.6v0.6h-0.6zM38.0,48.9h0.6v0.6h-0.6zM45.3,53.9h0.6v0.6h-0.6zM51.1,44.3h0.6v0.6h-0.6zM48.7,53.0h0.6v0.6h-0.6zM57.1,49.7h0.6v0.6h-0.6zM64.6,49.3h0.6v0.6h-0.6zM75.8,48.3h0.6v0.6h-0.6zM62.1,52.5h0.6v0.6h-0.6zM69.2,55.9h0.6v0.6h-0.6zM44.1,47.7h0.6v0.6h-0.6zM64.9,45.2h0.6v0.6h-0.6zM36.9,54.8h0.6v0.6h-0.6zM51.0,48.2h0.6v0.6h-0.6zM64.4,61.4h0.6v0.6h-0.6zM65.4,42.1h0.6v0.6h-0.6zM60.4,54.0h0.6v0.6h-0.6zM48.1,60.9h0.6v0.6h-0.6zM61.6,55.9h0.6v0.6h-0.6zM41.8,59.3h0.6v0.6h-0.6zM48.1,53.3h0.6v0.6h-0.6zM67.0,45.0h0.6v0.6h-0.6zM47.1,45.3h0.6v0.6h-0.6zM55.8,51.7h0.6v0.6h-0.6zM63.5,43.3h0.6v0.6h-0.6zM60.4,52.8h0.6v0.6h-0.6zM56.9,47.8h0.6v0.6h-0.6zM55.8,46.4h0.6v0.6h-0.6zM67.9,52.1h0.6v0.6h-0.6zM41.1,62.8h0.6v0.6h-0.6zM58.1,57.0h0.6v0.6h-0.6zM59.0,52.5h0.6v0.6h-0.6zM60.2,39.2h0.6v0.6h-0.6zM41.5,56.5h0.6v0.6h-0.6zM70.2,56.9h0.6v0.6h-0.6zM68.1,46.8h0.6v0.6h-0.6zM41.5,57.3h0.6v0.6h-0.6zM45.1,54.7h0.6v0.6h-0.6zM65.3,43.7h0.6v0.6h-0.6zM36.1,52.5h0.6v0.6h-0.6zM69.2,52.5h0.6v0.6h-0.6zM66.7,48.2h0.6v0.6h-0.6zM60.4,44.5h0.6v0.6h-0.6zM45.7,51.4h0.6v0.6h-0.6zM61.5,61.5h0.6v0.6h-0.6zM61.4,50.0h0.6v0.6h-0.6zM63.3,53.6h0.6v0.6h-0.6zM53.1,43.5h0.6v0.6h-0.6zM64.7,46.8h0.6v0.6h-0.6zM51.1,55.2h0.6v0.6h-0.6zM63.6,49.7h0.6v0.6h-0.6zM70.3,45.1h0.6v0.6h-0.6zM50.7,57.0h0.6v0.6h-0.6zM64.5,47.9h0.6v0.6h-0.6zM58.5,60.0h0.6v0.6h-0.6zM69.9,50.9h0.6v0.6h-0.6zM75.3,45.2h0.6v0.6h-0.6z" fill="#2020ff" opacity="0.9"/>
<path d="M36.50,63.80 L39.00,56.50 L43.00,51.50 L48.00,47.00 L46.00,43.50 L52.60,39.80 L59.20,37.00 L66.00,38.80 L62.50,44.00 L58.00,49.00 L57.00,52.00 L64.00,52.50 L70.00,54.50 L73.50,57.50 L67.70,59.80 L56.40,61.40 L46.90,62.80 Z" fill="#1a1aff" filter="url(#b05)" opacity="1"/>
<path d="M44.00,46.00 L49.00,42.00 L55.00,39.00 L60.00,37.50 L61.00,44.00 L55.00,48.00 L49.00,50.00 L45.00,52.00 Z" fill="#1a1aff" filter="url(#b05)" opacity="1"/>
<path d="M62.00,41.00 L69.00,40.50 L72.00,44.00 L66.00,47.00 L61.00,48.00 Z" fill="#4040ff" filter="url(#b08)" opacity="0.8"/>
<path d="M42.8,47.2 L59.2,36.8 L61,39 L45,49.5 Z" fill="#1a1aff" stroke="none" stroke-width="1" filter="url(#b05)"/>
<path d="M41.6,48.5 L46.5,42.0 L53,38.4 L59.5,36.6 L62,40 L58,47 L48,50 Z" fill="#1a1aff" stroke="none" stroke-width="1" filter="url(#b05)"/>
<g transform="rotate(-19 52.2 43.8)">
<path d="M45.6,40.6 L58.8,40.6 Q59.0,49.0 52.2,49.2 Q45.4,49.0 45.6,40.6 Z" fill="#10c8ff" stroke="none" stroke-width="1" filter="url(#b05)"/>
<path d="M46.9,41.4 L57.5,41.4 Q57.7,47.6 52.2,47.7 Q46.7,47.6 46.9,41.4 Z" fill="#38f038" stroke="none" stroke-width="1" filter="url(#b05)"/>
</g>
<ellipse cx="52.20" cy="43.80" rx="2.80" ry="1.80" fill="#b0f020" filter="url(#b08)" opacity="0.8" transform="rotate(-19 52.20 43.80)"/>
<ellipse cx="54.60" cy="56.00" rx="4.00" ry="2.30" fill="#10c8ff" filter="url(#b05)" opacity="1" transform="rotate(-15 54.60 56.00)"/>
<ellipse cx="54.60" cy="56.00" rx="2.80" ry="1.50" fill="#38f038" filter="url(#b05)" opacity="1" transform="rotate(-15 54.60 56.00)"/>
<ellipse cx="54.60" cy="56.00" rx="1.30" ry="0.80" fill="#f0f020" filter="url(#b05)" opacity="1" transform="rotate(-15 54.60 56.00)"/>
<ellipse cx="43.50" cy="61.90" rx="5.80" ry="1.90" fill="#10c8ff" filter="url(#b05)" opacity="1" transform="rotate(-14 43.50 61.90)"/>
<ellipse cx="44.00" cy="61.90" rx="4.00" ry="1.40" fill="#38f038" filter="url(#b05)" opacity="1" transform="rotate(-14 44.00 61.90)"/>
<ellipse cx="44.20" cy="61.90" rx="2.80" ry="1.00" fill="#f0f020" filter="url(#b05)" opacity="1" transform="rotate(-14 44.20 61.90)"/>
<ellipse cx="44.00" cy="62.10" rx="1.70" ry="0.80" fill="#ff2a10" filter="url(#b05)" opacity="1" transform="rotate(-14 44.00 62.10)"/>
<ellipse cx="37.60" cy="62.80" rx="1.60" ry="1.00" fill="#10c8ff" filter="url(#b05)" opacity="1"/>
<text x="39.10" y="29.30" font-size="3.0" text-anchor="start" fill="#222" font-weight="bold" >FSC-A, SSC-A subset</text>
<text x="39.10" y="32.90" font-size="3.0" text-anchor="start" fill="#222" font-weight="bold" >99.9 %</text>
<text x="54.05" y="75.10" font-size="4.0" text-anchor="middle" fill="#111" font-weight="bold" stroke="#111" stroke-width="0.18">FSC-A</text>
<text x="21.50" y="40.70" font-size="4.0" text-anchor="middle" fill="#111" font-weight="bold" transform="rotate(-90 21.50 40.70)" stroke="#111" stroke-width="0.18">SSC-A</text>
<rect x="98.30" y="13.10" width="51.70" height="51.50" fill="none" stroke="#8a8a8a" stroke-width="0.8" />
<line x1="96.50" y1="62.30" x2="98.30" y2="62.30" stroke="#444" stroke-width="0.6" />
<line x1="96.50" y1="51.50" x2="98.30" y2="51.50" stroke="#444" stroke-width="0.6" />
<line x1="96.50" y1="38.80" x2="98.30" y2="38.80" stroke="#444" stroke-width="0.6" />
<line x1="96.50" y1="27.50" x2="98.30" y2="27.50" stroke="#444" stroke-width="0.6" />
<line x1="96.50" y1="16.20" x2="98.30" y2="16.20" stroke="#444" stroke-width="0.6" />
<line x1="108.50" y1="64.60" x2="108.50" y2="66.20" stroke="#444" stroke-width="0.6" />
<line x1="121.60" y1="64.60" x2="121.60" y2="66.20" stroke="#444" stroke-width="0.6" />
<line x1="135.60" y1="64.60" x2="135.60" y2="66.20" stroke="#444" stroke-width="0.6" />
<line x1="147.60" y1="64.60" x2="147.60" y2="66.20" stroke="#444" stroke-width="0.6" />
<path d="M97.40,59.05h0.9M97.40,57.15h0.9M97.40,55.80h0.9M97.40,54.75h0.9M97.40,53.90h0.9M97.40,53.17h0.9M97.40,52.55h0.9M97.40,51.99h0.9M97.40,47.68h0.9M97.40,45.44h0.9M97.40,43.85h0.9M97.40,42.62h0.9M97.40,41.62h0.9M97.40,40.77h0.9M97.40,40.03h0.9M97.40,39.38h0.9M97.40,35.40h0.9M97.40,33.41h0.9M97.40,32.00h0.9M97.40,30.90h0.9M97.40,30.01h0.9M97.40,29.25h0.9M97.40,28.60h0.9M97.40,28.02h0.9M97.40,24.10h0.9M97.40,22.11h0.9M97.40,20.70h0.9M97.40,19.60h0.9M97.40,18.71h0.9M97.40,17.95h0.9M97.40,17.30h0.9M97.40,16.72h0.9M112.44,64.60v0.9M114.75,64.60v0.9M116.39,64.60v0.9M117.66,64.60v0.9M118.69,64.60v0.9M119.57,64.60v0.9M120.33,64.60v0.9M121.00,64.60v0.9M125.81,64.60v0.9M128.28,64.60v0.9M130.03,64.60v0.9M131.39,64.60v0.9M132.49,64.60v0.9M133.43,64.60v0.9M134.24,64.60v0.9M134.96,64.60v0.9M139.21,64.60v0.9M141.33,64.60v0.9M142.82,64.60v0.9M143.99,64.60v0.9M144.94,64.60v0.9M145.74,64.60v0.9M146.44,64.60v0.9M147.05,64.60v0.9" stroke="#666" stroke-width="0.35"/>
<text x="108.70" y="69.00" font-size="2.4" text-anchor="middle" fill="#666" font-weight="bold" transform="rotate(-45 108.70 69.00)" >0</text>
<text x="121.80" y="69.00" font-size="2.4" text-anchor="middle" fill="#666" font-weight="bold" transform="rotate(-45 121.80 69.00)" >10<tspan font-size="1.5" dy="-0.8">3</tspan></text>
<text x="135.80" y="69.00" font-size="2.4" text-anchor="middle" fill="#666" font-weight="bold" transform="rotate(-45 135.80 69.00)" >10<tspan font-size="1.5" dy="-0.8">4</tspan></text>
<text x="147.80" y="69.00" font-size="2.4" text-anchor="middle" fill="#666" font-weight="bold" transform="rotate(-45 147.80 69.00)" >10<tspan font-size="1.5" dy="-0.8">5</tspan></text>
<text x="95.10" y="63.50" font-size="2.4" text-anchor="middle" fill="#666" font-weight="bold" transform="rotate(-45 95.10 63.50)" >0</text>
<text x="95.10" y="52.70" font-size="2.4" text-anchor="middle" fill="#666" font-weight="bold" transform="rotate(-45 95.10 52.70)" >10<tspan font-size="1.5" dy="-0.8">3</tspan></text>
<text x="95.10" y="40.00" font-size="2.4" text-anchor="middle" fill="#666" font-weight="bold" transform="rotate(-45 95.10 40.00)" >10<tspan font-size="1.5" dy="-0.8">4</tspan></text>
<text x="95.10" y="28.70" font-size="2.4" text-anchor="middle" fill="#666" font-weight="bold" transform="rotate(-45 95.10 28.70)" >10<tspan font-size="1.5" dy="-0.8">5</tspan></text>
<text x="95.10" y="17.40" font-size="2.4" text-anchor="middle" fill="#666" font-weight="bold" transform="rotate(-45 95.10 17.40)" >10<tspan font-size="1.5" dy="-0.8">6</tspan></text>
<path d="M106.00,64.90h4" stroke="#222" stroke-width="0.9"/>
<path d="M118.8,46.3h0.55v0.55h-0.55zM128.7,35.5h0.55v0.55h-0.55zM110.4,27.9h0.55v0.55h-0.55zM119.4,26.0h0.55v0.55h-0.55zM124.4,28.7h0.55v0.55h-0.55zM104.4,57.2h0.55v0.55h-0.55zM113.8,50.3h0.55v0.55h-0.55zM109.1,32.1h0.55v0.55h-0.55zM109.8,58.4h0.55v0.55h-0.55zM104.4,55.6h0.55v0.55h-0.55zM125.4,47.7h0.55v0.55h-0.55zM106.7,49.4h0.55v0.55h-0.55zM126.1,44.5h0.55v0.55h-0.55zM105.3,45.1h0.55v0.55h-0.55zM127.7,44.5h0.55v0.55h-0.55zM103.1,30.7h0.55v0.55h-0.55zM117.8,25.2h0.55v0.55h-0.55zM98.6,36.8h0.55v0.55h-0.55zM106.4,41.0h0.55v0.55h-0.55zM100.8,43.4h0.55v0.55h-0.55zM119.1,34.8h0.55v0.55h-0.55zM116.3,42.2h0.55v0.55h-0.55zM122.6,44.0h0.55v0.55h-0.55zM118.0,43.5h0.55v0.55h-0.55zM123.6,26.9h0.55v0.55h-0.55zM102.1,54.2h0.55v0.55h-0.55zM124.0,23.8h0.55v0.55h-0.55zM125.8,45.1h0.55v0.55h-0.55zM124.6,48.4h0.55v0.55h-0.55zM110.0,27.5h0.55v0.55h-0.55zM121.8,48.7h0.55v0.55h-0.55zM112.9,33.1h0.55v0.55h-0.55zM109.7,56.7h0.55v0.55h-0.55zM112.7,31.0h0.55v0.55h-0.55zM128.6,58.2h0.55v0.55h-0.55zM104.0,30.5h0.55v0.55h-0.55zM120.8,37.2h0.55v0.55h-0.55zM113.0,47.8h0.55v0.55h-0.55zM106.9,44.6h0.55v0.55h-0.55zM104.8,31.4h0.55v0.55h-0.55zM115.2,38.7h0.55v0.55h-0.55zM125.8,28.6h0.55v0.55h-0.55zM126.5,32.8h0.55v0.55h-0.55zM109.0,27.3h0.55v0.55h-0.55zM108.2,58.3h0.55v0.55h-0.55zM109.6,53.2h0.55v0.55h-0.55zM128.3,48.2h0.55v0.55h-0.55zM104.2,38.8h0.55v0.55h-0.55zM103.7,32.4h0.55v0.55h-0.55zM108.8,29.4h0.55v0.55h-0.55zM119.3,42.1h0.55v0.55h-0.55zM107.4,32.5h0.55v0.55h-0.55zM102.9,27.6h0.55v0.55h-0.55zM111.9,26.2h0.55v0.55h-0.55zM114.5,32.6h0.55v0.55h-0.55zM122.1,33.0h0.55v0.55h-0.55zM124.6,57.1h0.55v0.55h-0.55zM126.9,31.6h0.55v0.55h-0.55zM126.8,40.2h0.55v0.55h-0.55zM125.5,40.0h0.55v0.55h-0.55zM115.0,32.7h0.55v0.55h-0.55zM121.6,36.6h0.55v0.55h-0.55zM125.5,48.6h0.55v0.55h-0.55zM111.6,24.6h0.55v0.55h-0.55zM106.8,38.3h0.55v0.55h-0.55zM109.9,44.2h0.55v0.55h-0.55zM98.8,40.1h0.55v0.55h-0.55zM125.7,57.3h0.55v0.55h-0.55zM119.5,47.9h0.55v0.55h-0.55zM116.9,59.0h0.55v0.55h-0.55zM122.6,39.8h0.55v0.55h-0.55zM113.7,56.9h0.55v0.55h-0.55zM115.4,44.7h0.55v0.55h-0.55zM107.9,47.1h0.55v0.55h-0.55zM113.4,57.0h0.55v0.55h-0.55zM129.0,58.9h0.55v0.55h-0.55zM127.5,25.0h0.55v0.55h-0.55zM100.8,35.5h0.55v0.55h-0.55zM123.7,43.3h0.55v0.55h-0.55zM106.4,27.1h0.55v0.55h-0.55zM106.2,28.0h0.55v0.55h-0.55zM103.0,49.9h0.55v0.55h-0.55zM104.5,29.4h0.55v0.55h-0.55zM117.4,28.1h0.55v0.55h-0.55zM123.9,46.6h0.55v0.55h-0.55zM125.3,49.3h0.55v0.55h-0.55zM120.8,33.0h0.55v0.55h-0.55zM111.5,37.0h0.55v0.55h-0.55zM110.5,55.9h0.55v0.55h-0.55zM111.9,51.9h0.55v0.55h-0.55zM117.8,26.4h0.55v0.55h-0.55zM105.0,44.0h0.55v0.55h-0.55zM122.6,31.8h0.55v0.55h-0.55zM106.2,36.9h0.55v0.55h-0.55zM112.6,38.4h0.55v0.55h-0.55zM126.7,45.1h0.55v0.55h-0.55zM107.1,35.7h0.55v0.55h-0.55zM114.0,29.2h0.55v0.55h-0.55zM110.5,25.8h0.55v0.55h-0.55zM118.6,54.3h0.55v0.55h-0.55zM125.9,44.7h0.55v0.55h-0.55zM110.3,43.4h0.55v0.55h-0.55zM115.5,29.8h0.55v0.55h-0.55zM115.0,41.2h0.55v0.55h-0.55zM104.6,39.2h0.55v0.55h-0.55zM124.0,46.3h0.55v0.55h-0.55zM108.6,32.0h0.55v0.55h-0.55zM117.8,43.1h0.55v0.55h-0.55zM107.7,40.2h0.55v0.55h-0.55zM111.0,45.8h0.55v0.55h-0.55zM125.3,36.7h0.55v0.55h-0.55zM115.0,43.5h0.55v0.55h-0.55zM118.9,32.1h0.55v0.55h-0.55zM106.1,56.2h0.55v0.55h-0.55zM103.0,47.7h0.55v0.55h-0.55zM106.5,40.9h0.55v0.55h-0.55zM112.3,32.0h0.55v0.55h-0.55zM104.0,57.5h0.55v0.55h-0.55zM99.8,28.6h0.55v0.55h-0.55zM121.1,36.7h0.55v0.55h-0.55zM104.5,51.1h0.55v0.55h-0.55zM128.4,30.9h0.55v0.55h-0.55zM120.1,37.6h0.55v0.55h-0.55zM128.9,44.7h0.55v0.55h-0.55zM125.8,47.0h0.55v0.55h-0.55zM102.6,39.2h0.55v0.55h-0.55zM120.0,28.9h0.55v0.55h-0.55zM101.3,58.7h0.55v0.55h-0.55zM126.7,46.6h0.55v0.55h-0.55zM100.5,48.4h0.55v0.55h-0.55zM128.7,51.3h0.55v0.55h-0.55zM120.3,39.1h0.55v0.55h-0.55zM117.8,56.4h0.55v0.55h-0.55zM113.8,26.1h0.55v0.55h-0.55zM103.0,57.3h0.55v0.55h-0.55zM120.2,56.7h0.55v0.55h-0.55zM103.1,27.2h0.55v0.55h-0.55zM119.4,38.7h0.55v0.55h-0.55zM112.7,31.8h0.55v0.55h-0.55zM121.8,51.2h0.55v0.55h-0.55zM120.7,38.8h0.55v0.55h-0.55zM113.5,37.5h0.55v0.55h-0.55zM112.7,35.1h0.55v0.55h-0.55zM112.9,57.7h0.55v0.55h-0.55zM123.0,28.3h0.55v0.55h-0.55zM119.0,52.6h0.55v0.55h-0.55zM109.1,55.1h0.55v0.55h-0.55zM127.2,26.0h0.55v0.55h-0.55zM117.6,37.0h0.55v0.55h-0.55zM112.8,43.0h0.55v0.55h-0.55zM124.7,45.9h0.55v0.55h-0.55zM125.6,32.3h0.55v0.55h-0.55zM122.8,37.4h0.55v0.55h-0.55zM104.1,52.0h0.55v0.55h-0.55zM116.2,31.5h0.55v0.55h-0.55zM125.8,41.0h0.55v0.55h-0.55zM119.1,58.5h0.55v0.55h-0.55zM108.5,42.8h0.55v0.55h-0.55zM115.2,33.6h0.55v0.55h-0.55zM114.8,57.8h0.55v0.55h-0.55z" fill="#3030ff" opacity="0.8"/>
<g filter="url(#spA)">
<path d="M99.50,26.50 L105.00,24.60 L111.60,24.20 L118.00,24.80 L125.50,26.50 L128.40,32.00 L128.00,36.50 L124.00,42.50 L120.00,46.00 L119.00,50.00 L118.50,56.00 L111.60,59.50 L101.50,58.80 L98.60,50.00 L98.50,35.00 Z" fill="#2a2aff" filter="url(#b05)" opacity="1"/>
</g>
<path d="M100.20,28.50 L105.00,26.80 L111.60,26.50 L118.00,27.00 L124.10,28.50 L126.60,32.00 L126.20,35.50 L122.00,41.00 L118.50,45.00 L117.50,50.00 L116.80,54.60 L111.60,57.70 L102.30,56.90 L99.60,49.40 L99.10,35.80 Z" fill="#1a1aff" filter="url(#b08)" opacity="1"/>
<ellipse cx="110.50" cy="52.20" rx="6.20" ry="3.20" fill="#10c8ff" filter="url(#b12)" opacity="1"/>
<ellipse cx="111.50" cy="35.60" rx="11.50" ry="6.20" fill="#10c8ff" filter="url(#b08)" opacity="1" transform="rotate(-8 111.50 35.60)"/>
<ellipse cx="111.00" cy="35.80" rx="9.20" ry="4.60" fill="#38f038" filter="url(#b08)" opacity="1" transform="rotate(-8 111.00 35.80)"/>
<ellipse cx="116.30" cy="33.00" rx="3.20" ry="1.80" fill="#f0f020" filter="url(#b08)" opacity="1" transform="rotate(-10 116.30 33.00)"/>
<ellipse cx="109.00" cy="36.30" rx="4.60" ry="2.60" fill="#f0f020" filter="url(#b08)" opacity="1" transform="rotate(-5 109.00 36.30)"/>
<ellipse cx="108.50" cy="36.40" rx="3.00" ry="1.50" fill="#ff2a10" filter="url(#b05)" opacity="1"/>
<path d="M136.1,32.0h0.55v0.55h-0.55zM136.0,38.7h0.55v0.55h-0.55zM134.5,39.8h0.55v0.55h-0.55zM134.6,41.8h0.55v0.55h-0.55zM134.6,42.7h0.55v0.55h-0.55zM134.2,30.3h0.55v0.55h-0.55zM134.3,29.4h0.55v0.55h-0.55zM136.9,45.9h0.55v0.55h-0.55zM134.8,31.6h0.55v0.55h-0.55zM136.9,43.2h0.55v0.55h-0.55zM133.9,32.8h0.55v0.55h-0.55zM135.1,29.5h0.55v0.55h-0.55zM133.8,34.6h0.55v0.55h-0.55zM133.4,29.7h0.55v0.55h-0.55zM135.6,32.7h0.55v0.55h-0.55zM137.1,45.3h0.55v0.55h-0.55zM135.9,32.2h0.55v0.55h-0.55zM136.4,33.4h0.55v0.55h-0.55zM136.9,35.1h0.55v0.55h-0.55zM136.1,41.3h0.55v0.55h-0.55zM136.1,41.3h0.55v0.55h-0.55zM134.4,29.9h0.55v0.55h-0.55zM134.5,45.2h0.55v0.55h-0.55zM133.0,32.4h0.55v0.55h-0.55zM134.3,35.4h0.55v0.55h-0.55zM136.9,30.3h0.55v0.55h-0.55zM133.3,27.3h0.55v0.55h-0.55zM134.4,40.8h0.55v0.55h-0.55zM134.9,39.3h0.55v0.55h-0.55zM135.2,33.8h0.55v0.55h-0.55zM134.7,27.8h0.55v0.55h-0.55zM137.3,40.9h0.55v0.55h-0.55zM133.3,30.9h0.55v0.55h-0.55zM136.5,36.6h0.55v0.55h-0.55zM136.3,41.3h0.55v0.55h-0.55zM133.5,42.6h0.55v0.55h-0.55zM133.7,29.6h0.55v0.55h-0.55zM136.3,42.5h0.55v0.55h-0.55zM134.2,34.3h0.55v0.55h-0.55zM136.3,32.6h0.55v0.55h-0.55zM134.9,45.9h0.55v0.55h-0.55zM133.4,44.9h0.55v0.55h-0.55zM137.0,45.9h0.55v0.55h-0.55zM134.0,30.8h0.55v0.55h-0.55zM134.9,30.2h0.55v0.55h-0.55zM137.1,37.8h0.55v0.55h-0.55zM136.8,36.3h0.55v0.55h-0.55zM135.1,45.2h0.55v0.55h-0.55zM133.4,31.3h0.55v0.55h-0.55zM136.8,38.2h0.55v0.55h-0.55zM136.5,45.9h0.55v0.55h-0.55zM136.4,38.6h0.55v0.55h-0.55zM136.3,37.1h0.55v0.55h-0.55zM133.8,33.2h0.55v0.55h-0.55zM137.1,37.0h0.55v0.55h-0.55zM133.0,39.2h0.55v0.55h-0.55zM137.5,38.9h0.55v0.55h-0.55zM135.1,35.7h0.55v0.55h-0.55zM135.8,38.7h0.55v0.55h-0.55zM135.1,44.2h0.55v0.55h-0.55z" fill="#3030ff" opacity="0.8"/>
<path d="M137.0,62.7h0.55v0.55h-0.55zM136.4,62.3h0.55v0.55h-0.55zM134.3,60.9h0.55v0.55h-0.55zM134.6,59.2h0.55v0.55h-0.55zM137.3,59.4h0.55v0.55h-0.55zM136.8,63.0h0.55v0.55h-0.55zM135.1,58.1h0.55v0.55h-0.55zM134.2,61.9h0.55v0.55h-0.55zM136.3,60.1h0.55v0.55h-0.55zM135.9,59.0h0.55v0.55h-0.55zM136.1,62.7h0.55v0.55h-0.55zM136.6,61.4h0.55v0.55h-0.55zM135.8,58.0h0.55v0.55h-0.55zM134.6,60.4h0.55v0.55h-0.55zM133.8,58.4h0.55v0.55h-0.55zM137.3,62.1h0.55v0.55h-0.55zM135.7,62.1h0.55v0.55h-0.55zM137.0,61.8h0.55v0.55h-0.55zM135.2,60.4h0.55v0.55h-0.55zM137.4,63.7h0.55v0.55h-0.55z" fill="#3030ff" opacity="0.8"/>
<g filter="url(#spA)">
<path d="M135.00,41.50 L141.00,47.00 L145.00,52.00 L141.50,58.00 L135.50,61.50 L129.00,57.00 L123.50,52.50 L129.50,48.00 Z" fill="#2a2aff" filter="url(#b05)" opacity="1"/>
<ellipse cx="135.10" cy="37.00" rx="1.60" ry="8.00" fill="#3030ff" filter="url(#b05)" opacity="1"/>
</g>
<path d="M135.00,44.00 L140.00,48.00 L143.00,52.00 L140.00,57.00 L135.50,60.00 L130.00,56.00 L125.00,52.50 L130.00,49.00 Z" fill="#1a1aff" filter="url(#b08)" opacity="1"/>
<ellipse cx="135.20" cy="52.20" rx="3.60" ry="4.60" fill="#10c8ff" filter="url(#b08)" opacity="1"/>
<ellipse cx="135.20" cy="52.20" rx="2.20" ry="3.00" fill="#38f038" filter="url(#b05)" opacity="1"/>
<ellipse cx="135.20" cy="52.00" rx="1.00" ry="1.50" fill="#c0f020" filter="url(#b05)" opacity="1"/>
<rect x="121.50" y="44.20" width="28.20" height="20.40" fill="none" stroke="#7a7a7a" stroke-width="0.5" />
<text x="138.60" y="35.40" font-size="3.0" text-anchor="start" fill="#222" font-weight="bold" >SC</text>
<text x="138.60" y="39.40" font-size="3.0" text-anchor="start" fill="#222" font-weight="bold" >0.63 %</text>
<text x="120.90" y="75.10" font-size="4.1" text-anchor="middle" fill="#111" font-weight="bold" stroke="#111" stroke-width="0.18">CD19</text>
<text x="90.50" y="41.30" font-size="4.1" text-anchor="middle" fill="#111" font-weight="bold" transform="rotate(-90 90.50 41.30)" stroke="#111" stroke-width="0.18">CD3 CD14 CD16 DAPI</text>
<rect x="167.70" y="13.10" width="51.50" height="51.50" fill="none" stroke="#8a8a8a" stroke-width="0.8" />
<line x1="165.90" y1="62.00" x2="167.70" y2="62.00" stroke="#444" stroke-width="0.6" />
<line x1="165.90" y1="51.50" x2="167.70" y2="51.50" stroke="#444" stroke-width="0.6" />
<line x1="165.90" y1="38.80" x2="167.70" y2="38.80" stroke="#444" stroke-width="0.6" />
<line x1="165.90" y1="27.50" x2="167.70" y2="27.50" stroke="#444" stroke-width="0.6" />
<line x1="165.90" y1="16.20" x2="167.70" y2="16.20" stroke="#444" stroke-width="0.6" />
<line x1="179.40" y1="64.60" x2="179.40" y2="66.20" stroke="#444" stroke-width="0.6" />
<line x1="192.40" y1="64.60" x2="192.40" y2="66.20" stroke="#444" stroke-width="0.6" />
<line x1="206.00" y1="64.60" x2="206.00" y2="66.20" stroke="#444" stroke-width="0.6" />
<line x1="217.60" y1="64.60" x2="217.60" y2="66.20" stroke="#444" stroke-width="0.6" />
<path d="M166.80,58.84h0.9M166.80,56.99h0.9M166.80,55.68h0.9M166.80,54.66h0.9M166.80,53.83h0.9M166.80,53.13h0.9M166.80,52.52h0.9M166.80,51.98h0.9M166.80,47.68h0.9M166.80,45.44h0.9M166.80,43.85h0.9M166.80,42.62h0.9M166.80,41.62h0.9M166.80,40.77h0.9M166.80,40.03h0.9M166.80,39.38h0.9M166.80,35.40h0.9M166.80,33.41h0.9M166.80,32.00h0.9M166.80,30.90h0.9M166.80,30.01h0.9M166.80,29.25h0.9M166.80,28.60h0.9M166.80,28.02h0.9M166.80,24.10h0.9M166.80,22.11h0.9M166.80,20.70h0.9M166.80,19.60h0.9M166.80,18.71h0.9M166.80,17.95h0.9M166.80,17.30h0.9M166.80,16.72h0.9M183.31,64.60v0.9M185.60,64.60v0.9M187.23,64.60v0.9M188.49,64.60v0.9M189.52,64.60v0.9M190.39,64.60v0.9M191.14,64.60v0.9M191.81,64.60v0.9M196.49,64.60v0.9M198.89,64.60v0.9M200.59,64.60v0.9M201.91,64.60v0.9M202.98,64.60v0.9M203.89,64.60v0.9M204.68,64.60v0.9M205.38,64.60v0.9M209.49,64.60v0.9M211.53,64.60v0.9M212.98,64.60v0.9M214.11,64.60v0.9M215.03,64.60v0.9M215.80,64.60v0.9M216.48,64.60v0.9M217.07,64.60v0.9" stroke="#666" stroke-width="0.35"/>
<text x="179.60" y="69.00" font-size="2.4" text-anchor="middle" fill="#666" font-weight="bold" transform="rotate(-45 179.60 69.00)" >0</text>
<text x="192.60" y="69.00" font-size="2.4" text-anchor="middle" fill="#666" font-weight="bold" transform="rotate(-45 192.60 69.00)" >10<tspan font-size="1.5" dy="-0.8">3</tspan></text>
<text x="206.20" y="69.00" font-size="2.4" text-anchor="middle" fill="#666" font-weight="bold" transform="rotate(-45 206.20 69.00)" >10<tspan font-size="1.5" dy="-0.8">4</tspan></text>
<text x="217.80" y="69.00" font-size="2.4" text-anchor="middle" fill="#666" font-weight="bold" transform="rotate(-45 217.80 69.00)" >10<tspan font-size="1.5" dy="-0.8">5</tspan></text>
<text x="164.50" y="63.20" font-size="2.4" text-anchor="middle" fill="#666" font-weight="bold" transform="rotate(-45 164.50 63.20)" >0</text>
<text x="164.50" y="52.70" font-size="2.4" text-anchor="middle" fill="#666" font-weight="bold" transform="rotate(-45 164.50 52.70)" >10<tspan font-size="1.5" dy="-0.8">3</tspan></text>
<text x="164.50" y="40.00" font-size="2.4" text-anchor="middle" fill="#666" font-weight="bold" transform="rotate(-45 164.50 40.00)" >10<tspan font-size="1.5" dy="-0.8">4</tspan></text>
<text x="164.50" y="28.70" font-size="2.4" text-anchor="middle" fill="#666" font-weight="bold" transform="rotate(-45 164.50 28.70)" >10<tspan font-size="1.5" dy="-0.8">5</tspan></text>
<text x="164.50" y="17.40" font-size="2.4" text-anchor="middle" fill="#666" font-weight="bold" transform="rotate(-45 164.50 17.40)" >10<tspan font-size="1.5" dy="-0.8">6</tspan></text>
<path d="M176.90,64.90h4" stroke="#222" stroke-width="0.9"/>
<path d="M186.5,43.8h0.55v0.55h-0.55zM197.8,38.1h0.55v0.55h-0.55zM199.0,37.3h0.55v0.55h-0.55zM200.1,40.7h0.55v0.55h-0.55zM196.5,34.7h0.55v0.55h-0.55zM203.8,45.5h0.55v0.55h-0.55zM200.5,37.5h0.55v0.55h-0.55zM199.6,35.4h0.55v0.55h-0.55zM195.6,38.1h0.55v0.55h-0.55zM193.8,37.5h0.55v0.55h-0.55zM184.6,39.2h0.55v0.55h-0.55zM188.5,36.1h0.55v0.55h-0.55zM190.6,35.5h0.55v0.55h-0.55zM183.5,45.7h0.55v0.55h-0.55zM184.3,44.7h0.55v0.55h-0.55zM192.7,35.4h0.55v0.55h-0.55zM192.9,40.1h0.55v0.55h-0.55zM184.3,40.5h0.55v0.55h-0.55zM183.2,37.6h0.55v0.55h-0.55zM199.4,44.1h0.55v0.55h-0.55zM187.1,38.9h0.55v0.55h-0.55zM204.8,37.8h0.55v0.55h-0.55zM185.7,37.0h0.55v0.55h-0.55zM202.9,38.1h0.55v0.55h-0.55zM198.3,45.3h0.55v0.55h-0.55zM197.3,36.4h0.55v0.55h-0.55zM194.1,37.9h0.55v0.55h-0.55zM194.0,41.4h0.55v0.55h-0.55zM205.4,42.3h0.55v0.55h-0.55zM194.7,43.7h0.55v0.55h-0.55zM194.7,36.3h0.55v0.55h-0.55zM198.4,37.2h0.55v0.55h-0.55zM187.9,38.7h0.55v0.55h-0.55zM194.2,34.4h0.55v0.55h-0.55zM191.3,45.5h0.55v0.55h-0.55zM194.7,38.4h0.55v0.55h-0.55zM193.5,42.4h0.55v0.55h-0.55zM194.6,38.9h0.55v0.55h-0.55zM196.4,37.3h0.55v0.55h-0.55zM198.7,39.1h0.55v0.55h-0.55zM199.2,38.2h0.55v0.55h-0.55zM197.7,36.4h0.55v0.55h-0.55zM194.2,39.9h0.55v0.55h-0.55zM183.3,35.5h0.55v0.55h-0.55zM193.6,43.2h0.55v0.55h-0.55zM201.7,44.1h0.55v0.55h-0.55zM201.5,45.6h0.55v0.55h-0.55zM187.5,35.8h0.55v0.55h-0.55zM186.2,43.5h0.55v0.55h-0.55zM187.4,37.8h0.55v0.55h-0.55zM186.2,44.9h0.55v0.55h-0.55zM187.8,36.8h0.55v0.55h-0.55zM196.7,42.4h0.55v0.55h-0.55zM183.9,41.0h0.55v0.55h-0.55zM195.2,40.7h0.55v0.55h-0.55zM194.9,43.6h0.55v0.55h-0.55zM201.9,44.3h0.55v0.55h-0.55zM190.6,34.5h0.55v0.55h-0.55zM193.8,34.3h0.55v0.55h-0.55zM197.6,39.8h0.55v0.55h-0.55zM200.2,44.0h0.55v0.55h-0.55zM199.8,42.3h0.55v0.55h-0.55zM190.7,42.7h0.55v0.55h-0.55zM197.7,36.6h0.55v0.55h-0.55zM203.0,39.7h0.55v0.55h-0.55zM195.2,36.4h0.55v0.55h-0.55zM202.1,39.7h0.55v0.55h-0.55zM200.1,44.1h0.55v0.55h-0.55zM194.9,41.0h0.55v0.55h-0.55zM193.7,36.9h0.55v0.55h-0.55zM201.4,45.0h0.55v0.55h-0.55zM183.8,34.4h0.55v0.55h-0.55zM193.8,35.0h0.55v0.55h-0.55zM193.1,38.1h0.55v0.55h-0.55zM188.5,43.3h0.55v0.55h-0.55zM196.4,45.1h0.55v0.55h-0.55zM187.5,38.6h0.55v0.55h-0.55zM197.2,43.3h0.55v0.55h-0.55zM192.8,36.2h0.55v0.55h-0.55zM191.9,40.8h0.55v0.55h-0.55zM205.2,41.8h0.55v0.55h-0.55zM202.4,44.0h0.55v0.55h-0.55zM192.9,40.1h0.55v0.55h-0.55zM202.2,42.7h0.55v0.55h-0.55zM192.2,36.3h0.55v0.55h-0.55zM199.8,37.5h0.55v0.55h-0.55zM189.1,37.0h0.55v0.55h-0.55zM198.8,41.8h0.55v0.55h-0.55zM204.6,41.1h0.55v0.55h-0.55zM194.1,44.6h0.55v0.55h-0.55zM186.2,41.1h0.55v0.55h-0.55zM205.7,38.0h0.55v0.55h-0.55zM186.5,35.4h0.55v0.55h-0.55zM183.6,42.8h0.55v0.55h-0.55zM192.5,43.8h0.55v0.55h-0.55zM202.2,34.3h0.55v0.55h-0.55zM190.1,37.2h0.55v0.55h-0.55zM189.1,34.3h0.55v0.55h-0.55zM188.9,38.1h0.55v0.55h-0.55zM193.4,40.4h0.55v0.55h-0.55zM205.7,35.3h0.55v0.55h-0.55zM186.1,44.8h0.55v0.55h-0.55zM189.6,40.5h0.55v0.55h-0.55zM190.0,44.7h0.55v0.55h-0.55zM204.5,40.8h0.55v0.55h-0.55zM185.2,38.5h0.55v0.55h-0.55zM199.2,40.8h0.55v0.55h-0.55zM189.4,38.8h0.55v0.55h-0.55zM184.4,38.8h0.55v0.55h-0.55zM202.0,38.6h0.55v0.55h-0.55z" fill="#5060ff" opacity="0.75"/>
<g filter="url(#spA)">
<ellipse cx="180.00" cy="42.00" rx="4.50" ry="19.00" fill="#3030ff" filter="url(#b08)" opacity="1"/>
<ellipse cx="193.50" cy="52.50" rx="12.50" ry="9.50" fill="#3a3aff" filter="url(#b08)" opacity="1"/>
</g>
<g filter="url(#spB)">
<path d="M177.50,25.00 L182.50,24.50 L183.50,40.00 L183.80,52.00 L182.50,58.50 L178.00,58.50 L177.00,45.00 Z" fill="#2828ff" filter="url(#b05)" opacity="1"/>
<path d="M184.00,45.00 L193.00,43.50 L203.00,45.50 L205.00,52.00 L203.00,59.50 L194.00,61.00 L184.50,60.00 L182.50,53.00 Z" fill="#2828ff" filter="url(#b08)" opacity="1"/>
<ellipse cx="180.00" cy="37.50" rx="1.90" ry="7.00" fill="#10c8ff" filter="url(#b05)" opacity="0.9"/>
<ellipse cx="194.50" cy="52.30" rx="8.40" ry="6.30" fill="#10c8ff" filter="url(#b08)" opacity="1"/>
</g>
<ellipse cx="179.80" cy="28.00" rx="1.20" ry="2.50" fill="#3070ff" filter="url(#b05)" opacity="0.7"/>
<g filter="url(#spB)">
<ellipse cx="195.00" cy="52.00" rx="6.40" ry="4.60" fill="#38f038" filter="url(#b08)" opacity="1"/>
<ellipse cx="196.00" cy="51.00" rx="3.60" ry="2.80" fill="#a0e030" filter="url(#b08)" opacity="1"/>
</g>
<ellipse cx="196.20" cy="50.60" rx="1.60" ry="1.30" fill="#f0a020" filter="url(#b08)" opacity="0.8"/>
<ellipse cx="180.00" cy="38.00" rx="0.90" ry="3.00" fill="#40d080" filter="url(#b05)" opacity="0.6"/>
<rect x="175.40" y="24.20" width="7.30" height="8.00" fill="none" stroke="#7a7a7a" stroke-width="0.5" />
<rect x="175.40" y="32.20" width="7.30" height="12.50" fill="none" stroke="#7a7a7a" stroke-width="0.5" />
<rect x="175.90" y="44.70" width="6.80" height="17.20" fill="none" stroke="#7a7a7a" stroke-width="0.5" />
<rect x="182.70" y="33.80" width="23.40" height="10.90" fill="none" stroke="#7a7a7a" stroke-width="0.5" />
<rect x="182.70" y="44.70" width="23.40" height="17.70" fill="none" stroke="#7a7a7a" stroke-width="0.5" />
<text x="174.90" y="19.30" font-size="3.0" text-anchor="start" fill="#222" font-weight="bold" >PCs</text>
<text x="174.90" y="23.00" font-size="3.0" text-anchor="start" fill="#222" font-weight="bold" >3.82 %</text>
<text x="168.40" y="38.10" font-size="3.0" text-anchor="start" fill="#222" font-weight="bold" >SM</text>
<text x="168.40" y="41.20" font-size="3.0" text-anchor="start" fill="#222" font-weight="bold" >10.5 %</text>
<text x="168.40" y="56.30" font-size="3.0" text-anchor="start" fill="#222" font-weight="bold" >DN</text>
<text x="168.40" y="59.40" font-size="3.0" text-anchor="start" fill="#222" font-weight="bold" >4.34 %</text>
<text x="207.00" y="38.10" font-size="3.0" text-anchor="start" fill="#222" font-weight="bold" >NSM</text>
<text x="207.00" y="41.70" font-size="3.0" text-anchor="start" fill="#222" font-weight="bold" >3.79 %</text>
<text x="207.00" y="53.70" font-size="3.0" text-anchor="start" fill="#222" font-weight="bold" >NB</text>
<text x="207.00" y="57.30" font-size="3.0" text-anchor="start" fill="#222" font-weight="bold" >75.5 %</text>
<text x="192.20" y="75.10" font-size="4.1" text-anchor="middle" fill="#111" font-weight="bold" stroke="#111" stroke-width="0.18">IgD</text>
<text x="161.30" y="39.20" font-size="4.1" text-anchor="middle" fill="#111" font-weight="bold" transform="rotate(-90 161.30 39.20)" stroke="#111" stroke-width="0.18">CD27</text>
<rect x="98.00" y="85.10" width="51.50" height="51.80" fill="none" stroke="#8a8a8a" stroke-width="0.8" />
<line x1="96.20" y1="124.50" x2="98.00" y2="124.50" stroke="#444" stroke-width="0.6" />
<line x1="96.20" y1="111.00" x2="98.00" y2="111.00" stroke="#444" stroke-width="0.6" />
<line x1="96.20" y1="100.50" x2="98.00" y2="100.50" stroke="#444" stroke-width="0.6" />
<line x1="96.20" y1="89.00" x2="98.00" y2="89.00" stroke="#444" stroke-width="0.6" />
<line x1="116.80" y1="136.90" x2="116.80" y2="138.50" stroke="#444" stroke-width="0.6" />
<line x1="123.00" y1="136.90" x2="123.00" y2="138.50" stroke="#444" stroke-width="0.6" />
<line x1="131.60" y1="136.90" x2="131.60" y2="138.50" stroke="#444" stroke-width="0.6" />
<line x1="142.50" y1="136.90" x2="142.50" y2="138.50" stroke="#444" stroke-width="0.6" />
<path d="M97.10,120.44h0.9M97.10,118.06h0.9M97.10,116.37h0.9M97.10,115.06h0.9M97.10,113.99h0.9M97.10,113.09h0.9M97.10,112.31h0.9M97.10,111.62h0.9M97.10,107.84h0.9M97.10,105.99h0.9M97.10,104.68h0.9M97.10,103.66h0.9M97.10,102.83h0.9M97.10,102.13h0.9M97.10,101.52h0.9M97.10,100.98h0.9M97.10,97.04h0.9M97.10,95.01h0.9M97.10,93.58h0.9M97.10,92.46h0.9M97.10,91.55h0.9M97.10,90.78h0.9M97.10,90.11h0.9M97.10,89.53h0.9M118.67,136.90v0.9M119.76,136.90v0.9M120.53,136.90v0.9M121.13,136.90v0.9M121.62,136.90v0.9M122.04,136.90v0.9M122.40,136.90v0.9M122.72,136.90v0.9M125.59,136.90v0.9M127.10,136.90v0.9M128.18,136.90v0.9M129.01,136.90v0.9M129.69,136.90v0.9M130.27,136.90v0.9M130.77,136.90v0.9M131.21,136.90v0.9M134.88,136.90v0.9M136.80,136.90v0.9M138.16,136.90v0.9M139.22,136.90v0.9M140.08,136.90v0.9M140.81,136.90v0.9M141.44,136.90v0.9M142.00,136.90v0.9" stroke="#666" stroke-width="0.35"/>
<text x="117.00" y="141.30" font-size="2.4" text-anchor="middle" fill="#666" font-weight="bold" transform="rotate(-45 117.00 141.30)" >0</text>
<text x="123.20" y="141.30" font-size="2.4" text-anchor="middle" fill="#666" font-weight="bold" transform="rotate(-45 123.20 141.30)" >10<tspan font-size="1.5" dy="-0.8">3</tspan></text>
<text x="131.80" y="141.30" font-size="2.4" text-anchor="middle" fill="#666" font-weight="bold" transform="rotate(-45 131.80 141.30)" >10<tspan font-size="1.5" dy="-0.8">4</tspan></text>
<text x="142.70" y="141.30" font-size="2.4" text-anchor="middle" fill="#666" font-weight="bold" transform="rotate(-45 142.70 141.30)" >10<tspan font-size="1.5" dy="-0.8">5</tspan></text>
<text x="94.80" y="125.70" font-size="2.4" text-anchor="middle" fill="#666" font-weight="bold" transform="rotate(-45 94.80 125.70)" >0</text>
<text x="94.80" y="112.20" font-size="2.4" text-anchor="middle" fill="#666" font-weight="bold" transform="rotate(-45 94.80 112.20)" >10<tspan font-size="1.5" dy="-0.8">3</tspan></text>
<text x="94.80" y="101.70" font-size="2.4" text-anchor="middle" fill="#666" font-weight="bold" transform="rotate(-45 94.80 101.70)" >10<tspan font-size="1.5" dy="-0.8">4</tspan></text>
<text x="94.80" y="90.20" font-size="2.4" text-anchor="middle" fill="#666" font-weight="bold" transform="rotate(-45 94.80 90.20)" >10<tspan font-size="1.5" dy="-0.8">5</tspan></text>
<path d="M114.30,137.20h4" stroke="#222" stroke-width="0.9"/>
<path d="M117.2,99.5h0.55v0.55h-0.55zM123.1,109.3h0.55v0.55h-0.55zM115.2,123.2h0.55v0.55h-0.55zM113.1,96.0h0.55v0.55h-0.55zM121.4,121.8h0.55v0.55h-0.55zM107.3,106.5h0.55v0.55h-0.55zM127.3,112.8h0.55v0.55h-0.55zM115.8,98.1h0.55v0.55h-0.55zM112.9,115.9h0.55v0.55h-0.55zM128.0,118.8h0.55v0.55h-0.55zM129.2,108.9h0.55v0.55h-0.55zM107.7,106.3h0.55v0.55h-0.55zM114.8,95.2h0.55v0.55h-0.55zM108.0,128.5h0.55v0.55h-0.55zM127.5,98.2h0.55v0.55h-0.55zM108.0,131.2h0.55v0.55h-0.55zM110.0,104.8h0.55v0.55h-0.55zM111.4,101.1h0.55v0.55h-0.55zM106.7,111.0h0.55v0.55h-0.55zM124.6,95.8h0.55v0.55h-0.55zM117.8,98.2h0.55v0.55h-0.55zM124.9,128.3h0.55v0.55h-0.55zM127.0,113.8h0.55v0.55h-0.55zM109.4,121.0h0.55v0.55h-0.55zM107.7,123.2h0.55v0.55h-0.55zM113.2,127.8h0.55v0.55h-0.55zM112.8,121.9h0.55v0.55h-0.55zM117.9,102.3h0.55v0.55h-0.55zM117.8,109.8h0.55v0.55h-0.55zM109.7,114.3h0.55v0.55h-0.55zM118.8,120.3h0.55v0.55h-0.55zM114.2,117.0h0.55v0.55h-0.55zM110.8,113.4h0.55v0.55h-0.55zM111.8,123.6h0.55v0.55h-0.55zM110.6,104.3h0.55v0.55h-0.55zM107.7,104.7h0.55v0.55h-0.55zM119.0,101.9h0.55v0.55h-0.55zM108.9,127.8h0.55v0.55h-0.55zM113.4,101.4h0.55v0.55h-0.55zM115.6,125.8h0.55v0.55h-0.55zM123.9,128.2h0.55v0.55h-0.55zM119.1,106.1h0.55v0.55h-0.55zM118.0,95.3h0.55v0.55h-0.55zM122.4,125.7h0.55v0.55h-0.55zM128.0,125.4h0.55v0.55h-0.55zM121.5,124.4h0.55v0.55h-0.55zM113.0,114.9h0.55v0.55h-0.55zM109.9,129.5h0.55v0.55h-0.55zM118.3,99.9h0.55v0.55h-0.55zM129.6,117.2h0.55v0.55h-0.55zM111.1,126.0h0.55v0.55h-0.55zM121.0,117.3h0.55v0.55h-0.55zM127.1,105.3h0.55v0.55h-0.55zM112.7,115.2h0.55v0.55h-0.55zM110.9,120.3h0.55v0.55h-0.55zM117.4,100.8h0.55v0.55h-0.55zM109.0,99.3h0.55v0.55h-0.55zM119.8,128.7h0.55v0.55h-0.55zM125.1,126.1h0.55v0.55h-0.55zM119.6,124.2h0.55v0.55h-0.55zM113.9,107.3h0.55v0.55h-0.55zM127.7,103.1h0.55v0.55h-0.55zM121.0,115.1h0.55v0.55h-0.55zM107.3,115.1h0.55v0.55h-0.55zM125.1,127.7h0.55v0.55h-0.55zM116.0,128.0h0.55v0.55h-0.55zM106.9,128.4h0.55v0.55h-0.55zM122.3,124.6h0.55v0.55h-0.55zM116.7,115.9h0.55v0.55h-0.55zM125.8,101.7h0.55v0.55h-0.55zM110.4,122.4h0.55v0.55h-0.55zM127.0,101.9h0.55v0.55h-0.55zM119.1,112.8h0.55v0.55h-0.55zM113.5,125.9h0.55v0.55h-0.55zM112.8,123.4h0.55v0.55h-0.55zM115.9,98.7h0.55v0.55h-0.55zM129.1,98.8h0.55v0.55h-0.55zM108.4,94.1h0.55v0.55h-0.55zM114.4,94.0h0.55v0.55h-0.55zM109.7,129.7h0.55v0.55h-0.55zM112.1,120.9h0.55v0.55h-0.55zM111.1,93.5h0.55v0.55h-0.55zM106.2,97.8h0.55v0.55h-0.55zM128.9,110.8h0.55v0.55h-0.55zM112.0,94.8h0.55v0.55h-0.55zM121.4,105.3h0.55v0.55h-0.55zM110.3,110.0h0.55v0.55h-0.55zM123.1,106.3h0.55v0.55h-0.55zM119.5,100.3h0.55v0.55h-0.55zM119.4,94.6h0.55v0.55h-0.55zM128.1,129.2h0.55v0.55h-0.55zM119.8,111.5h0.55v0.55h-0.55zM115.5,122.2h0.55v0.55h-0.55zM119.9,120.7h0.55v0.55h-0.55zM116.6,108.6h0.55v0.55h-0.55zM123.4,100.1h0.55v0.55h-0.55zM114.2,102.4h0.55v0.55h-0.55zM110.9,126.7h0.55v0.55h-0.55zM113.5,121.7h0.55v0.55h-0.55zM107.2,129.1h0.55v0.55h-0.55zM117.2,122.0h0.55v0.55h-0.55zM108.5,116.5h0.55v0.55h-0.55zM125.5,104.3h0.55v0.55h-0.55zM108.2,107.9h0.55v0.55h-0.55zM124.5,122.7h0.55v0.55h-0.55zM107.5,105.6h0.55v0.55h-0.55zM128.0,104.3h0.55v0.55h-0.55zM108.1,126.9h0.55v0.55h-0.55zM125.7,110.4h0.55v0.55h-0.55zM122.7,122.3h0.55v0.55h-0.55zM126.1,100.4h0.55v0.55h-0.55zM123.5,129.0h0.55v0.55h-0.55zM124.9,113.4h0.55v0.55h-0.55zM115.5,131.2h0.55v0.55h-0.55zM129.8,124.4h0.55v0.55h-0.55zM118.2,127.8h0.55v0.55h-0.55zM127.0,112.7h0.55v0.55h-0.55zM109.2,116.9h0.55v0.55h-0.55zM109.2,106.1h0.55v0.55h-0.55zM119.6,112.6h0.55v0.55h-0.55zM121.5,125.0h0.55v0.55h-0.55zM128.8,105.1h0.55v0.55h-0.55zM128.9,105.6h0.55v0.55h-0.55zM114.4,122.5h0.55v0.55h-0.55zM129.4,112.8h0.55v0.55h-0.55zM125.1,125.2h0.55v0.55h-0.55zM113.6,117.1h0.55v0.55h-0.55zM128.5,93.8h0.55v0.55h-0.55zM109.0,127.0h0.55v0.55h-0.55zM119.6,109.4h0.55v0.55h-0.55zM125.0,110.3h0.55v0.55h-0.55zM109.3,106.7h0.55v0.55h-0.55zM124.3,118.0h0.55v0.55h-0.55zM117.9,93.4h0.55v0.55h-0.55zM129.9,96.1h0.55v0.55h-0.55zM112.7,123.8h0.55v0.55h-0.55zM128.5,119.8h0.55v0.55h-0.55zM115.2,122.1h0.55v0.55h-0.55zM122.0,115.6h0.55v0.55h-0.55zM124.9,114.6h0.55v0.55h-0.55zM118.9,103.1h0.55v0.55h-0.55zM124.7,97.2h0.55v0.55h-0.55zM108.3,117.5h0.55v0.55h-0.55zM107.1,127.1h0.55v0.55h-0.55zM110.6,111.2h0.55v0.55h-0.55zM112.2,111.8h0.55v0.55h-0.55zM120.8,100.7h0.55v0.55h-0.55zM119.1,130.9h0.55v0.55h-0.55zM109.6,101.5h0.55v0.55h-0.55zM110.7,97.2h0.55v0.55h-0.55zM106.3,130.4h0.55v0.55h-0.55zM129.1,94.5h0.55v0.55h-0.55zM126.0,115.6h0.55v0.55h-0.55zM111.0,127.4h0.55v0.55h-0.55zM108.8,118.0h0.55v0.55h-0.55zM122.1,120.3h0.55v0.55h-0.55zM111.7,98.8h0.55v0.55h-0.55zM121.1,104.5h0.55v0.55h-0.55zM120.5,121.8h0.55v0.55h-0.55zM106.8,121.3h0.55v0.55h-0.55z" fill="#3030ff" opacity="0.8"/>
<g filter="url(#spA)">
<ellipse cx="117.40" cy="111.50" rx="9.50" ry="17.50" fill="#2a2aff" filter="url(#b08)" opacity="1" transform="rotate(12 117.40 111.50)"/>
<ellipse cx="124.50" cy="122.00" rx="7.00" ry="7.50" fill="#3030ff" filter="url(#b08)" opacity="1"/>
</g>
<g filter="url(#spB)">
<ellipse cx="117.60" cy="111.00" rx="7.60" ry="15.00" fill="#1a1aff" filter="url(#b05)" opacity="1" transform="rotate(12 117.60 111.00)"/>
<ellipse cx="124.20" cy="121.20" rx="4.60" ry="5.00" fill="#2020ff" filter="url(#b08)" opacity="1"/>
</g>
<ellipse cx="117.20" cy="111.00" rx="7.00" ry="14.20" fill="#1a1aff" filter="url(#b08)" opacity="1" transform="rotate(12 117.20 111.00)"/>
<ellipse cx="118.00" cy="109.40" rx="5.00" ry="9.00" fill="#10c8ff" filter="url(#b08)" opacity="1" transform="rotate(12 118.00 109.40)"/>
<ellipse cx="118.30" cy="109.00" rx="3.60" ry="6.40" fill="#38f038" filter="url(#b08)" opacity="1" transform="rotate(12 118.30 109.00)"/>
<ellipse cx="118.30" cy="108.60" rx="2.00" ry="3.80" fill="#f0f020" filter="url(#b05)" opacity="1" transform="rotate(12 118.30 108.60)"/>
<ellipse cx="118.30" cy="108.30" rx="1.10" ry="2.40" fill="#ff2a10" filter="url(#b05)" opacity="1" transform="rotate(12 118.30 108.30)"/>
<rect x="120.20" y="116.20" width="11.30" height="19.60" fill="none" stroke="#7a7a7a" stroke-width="0.5" />
<text x="129.40" y="108.80" font-size="3.0" text-anchor="start" fill="#222" font-weight="bold" >CD24-MTR+</text>
<text x="129.40" y="112.60" font-size="3.0" text-anchor="start" fill="#222" font-weight="bold" >3.40 %</text>
<text x="121.70" y="146.20" font-size="4.1" text-anchor="middle" fill="#111" font-weight="bold" stroke="#111" stroke-width="0.18">MTR</text>
<text x="90.50" y="111.80" font-size="4.1" text-anchor="middle" fill="#111" font-weight="bold" transform="rotate(-90 90.50 111.80)" stroke="#111" stroke-width="0.18">CD24</text>
<rect x="168.20" y="85.10" width="51.00" height="51.80" fill="none" stroke="#8a8a8a" stroke-width="0.8" />
<line x1="166.40" y1="124.50" x2="168.20" y2="124.50" stroke="#444" stroke-width="0.6" />
<line x1="166.40" y1="111.00" x2="168.20" y2="111.00" stroke="#444" stroke-width="0.6" />
<line x1="166.40" y1="100.50" x2="168.20" y2="100.50" stroke="#444" stroke-width="0.6" />
<line x1="166.40" y1="89.00" x2="168.20" y2="89.00" stroke="#444" stroke-width="0.6" />
<line x1="179.40" y1="136.90" x2="179.40" y2="138.50" stroke="#444" stroke-width="0.6" />
<line x1="195.40" y1="136.90" x2="195.40" y2="138.50" stroke="#444" stroke-width="0.6" />
<line x1="206.00" y1="136.90" x2="206.00" y2="138.50" stroke="#444" stroke-width="0.6" />
<line x1="217.60" y1="136.90" x2="217.60" y2="138.50" stroke="#444" stroke-width="0.6" />
<path d="M167.30,120.44h0.9M167.30,118.06h0.9M167.30,116.37h0.9M167.30,115.06h0.9M167.30,113.99h0.9M167.30,113.09h0.9M167.30,112.31h0.9M167.30,111.62h0.9M167.30,107.84h0.9M167.30,105.99h0.9M167.30,104.68h0.9M167.30,103.66h0.9M167.30,102.83h0.9M167.30,102.13h0.9M167.30,101.52h0.9M167.30,100.98h0.9M167.30,97.04h0.9M167.30,95.01h0.9M167.30,93.58h0.9M167.30,92.46h0.9M167.30,91.55h0.9M167.30,90.78h0.9M167.30,90.11h0.9M167.30,89.53h0.9M184.22,136.90v0.9M187.03,136.90v0.9M189.03,136.90v0.9M190.58,136.90v0.9M191.85,136.90v0.9M192.92,136.90v0.9M193.85,136.90v0.9M194.67,136.90v0.9M198.59,136.90v0.9M200.46,136.90v0.9M201.78,136.90v0.9M202.81,136.90v0.9M203.65,136.90v0.9M204.36,136.90v0.9M204.97,136.90v0.9M205.51,136.90v0.9M209.49,136.90v0.9M211.53,136.90v0.9M212.98,136.90v0.9M214.11,136.90v0.9M215.03,136.90v0.9M215.80,136.90v0.9M216.48,136.90v0.9M217.07,136.90v0.9" stroke="#666" stroke-width="0.35"/>
<text x="179.60" y="141.30" font-size="2.4" text-anchor="middle" fill="#666" font-weight="bold" transform="rotate(-45 179.60 141.30)" >0</text>
<text x="195.60" y="141.30" font-size="2.4" text-anchor="middle" fill="#666" font-weight="bold" transform="rotate(-45 195.60 141.30)" >10<tspan font-size="1.5" dy="-0.8">3</tspan></text>
<text x="206.20" y="141.30" font-size="2.4" text-anchor="middle" fill="#666" font-weight="bold" transform="rotate(-45 206.20 141.30)" >10<tspan font-size="1.5" dy="-0.8">4</tspan></text>
<text x="217.80" y="141.30" font-size="2.4" text-anchor="middle" fill="#666" font-weight="bold" transform="rotate(-45 217.80 141.30)" >10<tspan font-size="1.5" dy="-0.8">5</tspan></text>
<text x="165.00" y="125.70" font-size="2.4" text-anchor="middle" fill="#666" font-weight="bold" transform="rotate(-45 165.00 125.70)" >0</text>
<text x="165.00" y="112.20" font-size="2.4" text-anchor="middle" fill="#666" font-weight="bold" transform="rotate(-45 165.00 112.20)" >10<tspan font-size="1.5" dy="-0.8">3</tspan></text>
<text x="165.00" y="101.70" font-size="2.4" text-anchor="middle" fill="#666" font-weight="bold" transform="rotate(-45 165.00 101.70)" >10<tspan font-size="1.5" dy="-0.8">4</tspan></text>
<text x="165.00" y="90.20" font-size="2.4" text-anchor="middle" fill="#666" font-weight="bold" transform="rotate(-45 165.00 90.20)" >10<tspan font-size="1.5" dy="-0.8">5</tspan></text>
<path d="M176.90,137.20h4" stroke="#222" stroke-width="0.9"/>
<path d="M211.4,112.5h0.55v0.55h-0.55zM200.1,109.9h0.55v0.55h-0.55zM208.6,106.0h0.55v0.55h-0.55zM186.8,116.1h0.55v0.55h-0.55zM196.4,118.5h0.55v0.55h-0.55zM189.7,131.4h0.55v0.55h-0.55zM199.0,112.0h0.55v0.55h-0.55zM204.9,99.4h0.55v0.55h-0.55zM209.8,128.0h0.55v0.55h-0.55zM191.2,114.3h0.55v0.55h-0.55zM185.1,126.5h0.55v0.55h-0.55zM211.3,119.5h0.55v0.55h-0.55zM211.4,115.0h0.55v0.55h-0.55zM208.3,128.4h0.55v0.55h-0.55zM209.9,114.5h0.55v0.55h-0.55zM198.2,99.3h0.55v0.55h-0.55zM210.6,101.2h0.55v0.55h-0.55zM200.3,119.7h0.55v0.55h-0.55zM188.9,110.6h0.55v0.55h-0.55zM192.4,98.3h0.55v0.55h-0.55zM195.2,111.7h0.55v0.55h-0.55zM204.1,123.2h0.55v0.55h-0.55zM210.5,129.4h0.55v0.55h-0.55zM191.2,120.0h0.55v0.55h-0.55zM203.4,126.4h0.55v0.55h-0.55zM187.9,110.0h0.55v0.55h-0.55zM201.2,109.3h0.55v0.55h-0.55zM209.6,112.9h0.55v0.55h-0.55zM203.8,100.5h0.55v0.55h-0.55zM209.1,133.0h0.55v0.55h-0.55zM211.0,110.3h0.55v0.55h-0.55zM207.3,133.4h0.55v0.55h-0.55zM187.0,100.7h0.55v0.55h-0.55zM202.6,133.6h0.55v0.55h-0.55zM184.9,128.2h0.55v0.55h-0.55zM202.5,115.1h0.55v0.55h-0.55zM188.0,116.3h0.55v0.55h-0.55zM198.0,105.3h0.55v0.55h-0.55zM209.2,124.6h0.55v0.55h-0.55zM188.6,120.4h0.55v0.55h-0.55zM200.7,131.8h0.55v0.55h-0.55zM211.5,130.0h0.55v0.55h-0.55zM185.5,113.2h0.55v0.55h-0.55zM188.3,125.0h0.55v0.55h-0.55zM186.3,127.8h0.55v0.55h-0.55zM201.2,121.1h0.55v0.55h-0.55zM210.5,129.3h0.55v0.55h-0.55zM204.5,120.6h0.55v0.55h-0.55zM199.3,116.6h0.55v0.55h-0.55zM184.8,105.1h0.55v0.55h-0.55zM203.3,112.9h0.55v0.55h-0.55zM196.6,128.5h0.55v0.55h-0.55zM194.8,124.2h0.55v0.55h-0.55zM206.5,127.9h0.55v0.55h-0.55zM190.6,119.9h0.55v0.55h-0.55zM197.1,119.1h0.55v0.55h-0.55zM186.4,104.8h0.55v0.55h-0.55zM190.9,126.2h0.55v0.55h-0.55zM205.9,111.8h0.55v0.55h-0.55zM201.0,113.9h0.55v0.55h-0.55zM199.0,107.6h0.55v0.55h-0.55zM193.6,132.5h0.55v0.55h-0.55zM208.8,102.4h0.55v0.55h-0.55zM187.3,129.1h0.55v0.55h-0.55zM196.4,121.0h0.55v0.55h-0.55zM200.9,119.8h0.55v0.55h-0.55zM209.4,103.5h0.55v0.55h-0.55zM208.1,107.4h0.55v0.55h-0.55zM186.1,108.7h0.55v0.55h-0.55zM198.4,126.9h0.55v0.55h-0.55zM200.2,132.9h0.55v0.55h-0.55zM189.3,111.7h0.55v0.55h-0.55zM200.1,119.3h0.55v0.55h-0.55zM203.5,116.2h0.55v0.55h-0.55zM186.8,126.2h0.55v0.55h-0.55zM206.2,100.6h0.55v0.55h-0.55zM206.8,98.2h0.55v0.55h-0.55zM203.2,120.4h0.55v0.55h-0.55zM192.3,101.2h0.55v0.55h-0.55zM191.2,120.5h0.55v0.55h-0.55zM198.9,127.3h0.55v0.55h-0.55zM188.8,120.3h0.55v0.55h-0.55zM192.5,99.5h0.55v0.55h-0.55zM189.2,102.0h0.55v0.55h-0.55zM188.5,99.4h0.55v0.55h-0.55zM211.3,111.0h0.55v0.55h-0.55zM205.2,113.2h0.55v0.55h-0.55zM198.3,107.1h0.55v0.55h-0.55zM210.4,105.6h0.55v0.55h-0.55zM210.9,126.1h0.55v0.55h-0.55zM208.2,101.5h0.55v0.55h-0.55zM211.6,121.5h0.55v0.55h-0.55zM200.2,118.4h0.55v0.55h-0.55zM196.5,132.3h0.55v0.55h-0.55zM211.5,132.3h0.55v0.55h-0.55zM188.0,117.1h0.55v0.55h-0.55zM203.6,104.6h0.55v0.55h-0.55zM208.9,125.1h0.55v0.55h-0.55zM187.4,108.7h0.55v0.55h-0.55zM203.1,129.7h0.55v0.55h-0.55zM211.9,107.9h0.55v0.55h-0.55zM207.4,119.1h0.55v0.55h-0.55zM194.1,106.6h0.55v0.55h-0.55zM187.0,99.2h0.55v0.55h-0.55zM196.0,102.4h0.55v0.55h-0.55zM189.7,109.6h0.55v0.55h-0.55zM187.8,105.3h0.55v0.55h-0.55zM191.2,133.1h0.55v0.55h-0.55zM195.9,120.2h0.55v0.55h-0.55zM199.1,132.5h0.55v0.55h-0.55zM207.1,131.4h0.55v0.55h-0.55zM208.4,124.6h0.55v0.55h-0.55zM208.5,110.0h0.55v0.55h-0.55zM201.0,109.9h0.55v0.55h-0.55zM209.9,107.6h0.55v0.55h-0.55zM212.0,106.5h0.55v0.55h-0.55zM193.5,124.7h0.55v0.55h-0.55zM200.0,105.7h0.55v0.55h-0.55zM187.6,129.5h0.55v0.55h-0.55zM189.8,116.4h0.55v0.55h-0.55zM207.4,115.5h0.55v0.55h-0.55zM197.4,103.9h0.55v0.55h-0.55zM210.2,119.7h0.55v0.55h-0.55zM202.7,112.2h0.55v0.55h-0.55zM203.9,111.6h0.55v0.55h-0.55zM189.0,110.8h0.55v0.55h-0.55zM205.3,129.1h0.55v0.55h-0.55zM198.4,121.7h0.55v0.55h-0.55zM210.2,121.4h0.55v0.55h-0.55zM211.3,107.1h0.55v0.55h-0.55zM208.4,125.0h0.55v0.55h-0.55zM200.0,119.3h0.55v0.55h-0.55zM188.7,98.6h0.55v0.55h-0.55zM184.9,130.1h0.55v0.55h-0.55zM195.1,119.7h0.55v0.55h-0.55zM196.4,129.6h0.55v0.55h-0.55zM204.6,111.5h0.55v0.55h-0.55zM201.9,105.7h0.55v0.55h-0.55zM210.4,103.8h0.55v0.55h-0.55zM209.5,117.3h0.55v0.55h-0.55z" fill="#7080ff" opacity="0.7"/>
<path d="M175.8,131.4h0.6v0.6h-0.6zM176.4,120.4h0.6v0.6h-0.6zM177.1,100.8h0.6v0.6h-0.6zM183.5,128.1h0.6v0.6h-0.6zM184.7,120.2h0.6v0.6h-0.6zM181.7,101.7h0.6v0.6h-0.6zM186.0,107.8h0.6v0.6h-0.6zM181.7,96.9h0.6v0.6h-0.6zM177.8,114.8h0.6v0.6h-0.6zM179.7,110.9h0.6v0.6h-0.6zM178.6,96.7h0.6v0.6h-0.6zM181.8,108.8h0.6v0.6h-0.6zM175.4,109.3h0.6v0.6h-0.6zM182.0,122.8h0.6v0.6h-0.6zM179.0,100.2h0.6v0.6h-0.6zM181.5,117.6h0.6v0.6h-0.6zM179.8,130.9h0.6v0.6h-0.6zM178.4,114.8h0.6v0.6h-0.6zM174.4,100.8h0.6v0.6h-0.6zM176.3,102.7h0.6v0.6h-0.6zM176.1,99.9h0.6v0.6h-0.6zM185.0,117.1h0.6v0.6h-0.6zM179.9,116.2h0.6v0.6h-0.6zM177.4,127.2h0.6v0.6h-0.6zM182.8,111.4h0.6v0.6h-0.6zM174.3,96.0h0.6v0.6h-0.6zM174.4,122.1h0.6v0.6h-0.6zM174.4,112.2h0.6v0.6h-0.6zM180.2,109.3h0.6v0.6h-0.6zM177.6,129.8h0.6v0.6h-0.6zM185.5,123.2h0.6v0.6h-0.6zM180.4,130.3h0.6v0.6h-0.6zM182.4,104.3h0.6v0.6h-0.6zM175.7,101.2h0.6v0.6h-0.6zM175.2,110.0h0.6v0.6h-0.6zM181.3,103.5h0.6v0.6h-0.6zM175.0,108.1h0.6v0.6h-0.6zM179.5,127.7h0.6v0.6h-0.6zM184.7,125.6h0.6v0.6h-0.6zM177.1,125.6h0.6v0.6h-0.6zM177.4,117.1h0.6v0.6h-0.6zM180.4,104.4h0.6v0.6h-0.6zM180.5,105.5h0.6v0.6h-0.6zM183.6,104.5h0.6v0.6h-0.6zM183.4,102.8h0.6v0.6h-0.6zM174.1,111.8h0.6v0.6h-0.6zM184.6,118.9h0.6v0.6h-0.6zM177.0,114.2h0.6v0.6h-0.6zM178.0,119.8h0.6v0.6h-0.6zM177.5,102.0h0.6v0.6h-0.6zM186.0,97.4h0.6v0.6h-0.6zM175.6,107.5h0.6v0.6h-0.6zM178.0,115.9h0.6v0.6h-0.6zM179.9,101.6h0.6v0.6h-0.6zM184.0,121.5h0.6v0.6h-0.6zM176.2,102.1h0.6v0.6h-0.6zM175.3,114.4h0.6v0.6h-0.6zM181.6,121.9h0.6v0.6h-0.6zM176.9,127.2h0.6v0.6h-0.6zM184.8,113.0h0.6v0.6h-0.6zM175.4,102.3h0.6v0.6h-0.6zM182.6,98.4h0.6v0.6h-0.6zM181.5,121.8h0.6v0.6h-0.6zM174.2,101.3h0.6v0.6h-0.6zM176.9,111.8h0.6v0.6h-0.6zM184.2,124.8h0.6v0.6h-0.6zM178.7,96.4h0.6v0.6h-0.6zM180.5,103.0h0.6v0.6h-0.6zM177.5,129.5h0.6v0.6h-0.6zM177.5,110.2h0.6v0.6h-0.6zM182.1,129.6h0.6v0.6h-0.6zM174.7,117.2h0.6v0.6h-0.6zM181.9,100.5h0.6v0.6h-0.6zM175.2,108.0h0.6v0.6h-0.6zM178.1,121.1h0.6v0.6h-0.6zM185.6,119.8h0.6v0.6h-0.6zM179.2,131.9h0.6v0.6h-0.6zM185.2,111.8h0.6v0.6h-0.6zM179.6,114.6h0.6v0.6h-0.6zM175.3,119.2h0.6v0.6h-0.6zM182.5,113.1h0.6v0.6h-0.6zM181.0,128.7h0.6v0.6h-0.6zM181.5,120.8h0.6v0.6h-0.6zM184.6,122.4h0.6v0.6h-0.6zM179.5,130.4h0.6v0.6h-0.6zM185.4,98.9h0.6v0.6h-0.6zM186.0,102.0h0.6v0.6h-0.6zM184.6,119.1h0.6v0.6h-0.6zM183.4,108.5h0.6v0.6h-0.6zM177.4,102.3h0.6v0.6h-0.6zM175.5,100.1h0.6v0.6h-0.6zM176.0,125.5h0.6v0.6h-0.6zM180.5,126.9h0.6v0.6h-0.6zM185.8,111.8h0.6v0.6h-0.6zM176.1,128.3h0.6v0.6h-0.6zM175.4,114.5h0.6v0.6h-0.6zM184.1,100.5h0.6v0.6h-0.6zM177.2,119.5h0.6v0.6h-0.6zM175.2,127.2h0.6v0.6h-0.6zM183.0,116.0h0.6v0.6h-0.6zM183.3,101.0h0.6v0.6h-0.6zM184.2,115.4h0.6v0.6h-0.6zM178.6,125.3h0.6v0.6h-0.6zM179.5,97.5h0.6v0.6h-0.6zM182.4,97.3h0.6v0.6h-0.6zM180.8,103.8h0.6v0.6h-0.6zM178.9,111.1h0.6v0.6h-0.6zM182.4,119.0h0.6v0.6h-0.6zM178.2,104.2h0.6v0.6h-0.6zM183.3,98.3h0.6v0.6h-0.6zM181.0,122.2h0.6v0.6h-0.6zM181.5,96.9h0.6v0.6h-0.6zM175.0,119.1h0.6v0.6h-0.6zM183.4,118.8h0.6v0.6h-0.6zM185.8,121.2h0.6v0.6h-0.6zM179.1,130.5h0.6v0.6h-0.6zM176.9,100.0h0.6v0.6h-0.6zM178.7,97.0h0.6v0.6h-0.6zM180.8,115.2h0.6v0.6h-0.6zM176.3,118.0h0.6v0.6h-0.6z" fill="#4848ff" opacity="0.8"/>
<g filter="url(#spA)">
<ellipse cx="179.80" cy="113.00" rx="4.00" ry="15.00" fill="#3434ff" filter="url(#b08)" opacity="1"/>
<ellipse cx="194.60" cy="124.20" rx="9.50" ry="7.50" fill="#4040ff" filter="url(#b08)" opacity="1"/>
</g>
<g filter="url(#spB)">
<ellipse cx="179.80" cy="113.00" rx="2.60" ry="13.00" fill="#3030ff" filter="url(#b05)" opacity="1"/>
<ellipse cx="179.80" cy="112.00" rx="1.50" ry="10.00" fill="#10c8ff" filter="url(#b05)" opacity="0.9"/>
<ellipse cx="194.60" cy="124.20" rx="6.50" ry="5.00" fill="#3434ff" filter="url(#b05)" opacity="1"/>
<ellipse cx="195.00" cy="124.20" rx="4.20" ry="3.30" fill="#10c8ff" filter="url(#b05)" opacity="0.9"/>
</g>
<g filter="url(#spA)">
<ellipse cx="179.80" cy="108.00" rx="1.10" ry="7.00" fill="#38f038" filter="url(#b05)" opacity="1"/>
<ellipse cx="195.00" cy="124.20" rx="2.60" ry="2.00" fill="#38f038" filter="url(#b05)" opacity="1"/>
<ellipse cx="179.80" cy="120.00" rx="1.00" ry="3.00" fill="#d0d030" filter="url(#b05)" opacity="0.8"/>
</g>
<rect x="184.00" y="117.30" width="24.90" height="17.00" fill="none" stroke="#7a7a7a" stroke-width="0.5" />
<text x="206.60" y="111.00" font-size="3.0" text-anchor="start" fill="#222" font-weight="bold" >aNB</text>
<text x="206.60" y="114.60" font-size="3.0" text-anchor="start" fill="#222" font-weight="bold" >40.6 %</text>
<text x="192.40" y="146.20" font-size="4.1" text-anchor="middle" fill="#111" font-weight="bold" stroke="#111" stroke-width="0.18">IgD</text>
<text x="161.30" y="111.50" font-size="4.1" text-anchor="middle" fill="#111" font-weight="bold" transform="rotate(-90 161.30 111.50)" stroke="#111" stroke-width="0.18">CD27</text>
<line x1="72.80" y1="51.20" x2="84.40" y2="51.20" stroke="#111" stroke-width="0.9" />
<path d="M87.00,51.20 L84.40,52.50 L84.40,49.90 Z" fill="#111" stroke="none" stroke-width="1" />
<line x1="146.30" y1="52.70" x2="157.90" y2="52.70" stroke="#111" stroke-width="0.9" />
<path d="M160.50,52.70 L157.90,54.00 L157.90,51.40 Z" fill="#111" stroke="none" stroke-width="1" />
<line x1="136.00" y1="64.60" x2="136.00" y2="79.60" stroke="#111" stroke-width="0.9" />
<path d="M136.00,82.20 L134.70,79.60 L137.30,79.60 Z" fill="#111" stroke="none" stroke-width="1" />
<line x1="136.50" y1="131.10" x2="161.20" y2="131.10" stroke="#111" stroke-width="0.9" />
<path d="M163.80,131.10 L161.20,132.40 L161.20,129.80 Z" fill="#111" stroke="none" stroke-width="1" />
<rect x="310.40" y="14.50" width="48.20" height="48.80" fill="none" stroke="#c8c8c8" stroke-width="1.2" />
<text x="308.20" y="63.00" font-size="2.0" text-anchor="end" fill="#777" font-weight="normal" >0</text>
<text x="308.20" y="52.58" font-size="2.0" text-anchor="end" fill="#777" font-weight="normal" >50</text>
<text x="308.20" y="42.16" font-size="2.0" text-anchor="end" fill="#777" font-weight="normal" >100</text>
<text x="308.20" y="31.74" font-size="2.0" text-anchor="end" fill="#777" font-weight="normal" >150</text>
<text x="308.20" y="21.33" font-size="2.0" text-anchor="end" fill="#777" font-weight="normal" >200</text>
<path d="M308.80,62.30h1.6M309.50,60.22h0.9M309.50,58.13h0.9M309.50,56.05h0.9M309.50,53.97h0.9M308.80,51.88h1.6M309.50,49.80h0.9M309.50,47.71h0.9M309.50,45.63h0.9M309.50,43.55h0.9M308.80,41.46h1.6M309.50,39.38h0.9M309.50,37.30h0.9M309.50,35.21h0.9M309.50,33.13h0.9M308.80,31.04h1.6M309.50,28.96h0.9M309.50,26.88h0.9M309.50,24.79h0.9M309.50,22.71h0.9M308.80,20.63h1.6M309.50,18.54h0.9M309.50,16.46h0.9M320.90,63.30v1.6M332.20,63.30v1.6M343.50,63.30v1.6M354.80,63.30v1.6" stroke="#777" stroke-width="0.45"/>
<text x="321.30" y="67.90" font-size="2.2" text-anchor="middle" fill="#666" font-weight="normal" transform="rotate(-45 321.30 67.90)" >0</text>
<text x="332.60" y="67.90" font-size="2.2" text-anchor="middle" fill="#666" font-weight="normal" transform="rotate(-45 332.60 67.90)" >10<tspan font-size="1.6" dy="-1">3</tspan></text>
<text x="343.90" y="67.90" font-size="2.2" text-anchor="middle" fill="#666" font-weight="normal" transform="rotate(-45 343.90 67.90)" >10<tspan font-size="1.6" dy="-1">4</tspan></text>
<text x="355.20" y="67.90" font-size="2.2" text-anchor="middle" fill="#666" font-weight="normal" transform="rotate(-45 355.20 67.90)" >10<tspan font-size="1.6" dy="-1">5</tspan></text>
<text x="332.10" y="11.50" font-size="8.8" text-anchor="middle" fill="#111" font-weight="normal" stroke="#111" stroke-width="0.2" textLength="10.9" lengthAdjust="spacingAndGlyphs">NB</text>
<path d="M314.20,63.30 L314.20,62.97 L314.60,62.69 L315.00,62.24 L315.40,61.52 L315.80,60.42 L316.20,58.83 L316.60,56.60 L317.00,53.65 L317.40,49.92 L317.80,45.44 L318.20,40.37 L318.60,34.98 L319.00,29.63 L319.40,24.78 L319.80,20.89 L320.20,18.37 L320.60,17.50 L321.00,18.62 L321.40,21.81 L321.80,26.63 L322.20,32.45 L322.60,38.60 L323.00,44.47 L323.40,49.64 L323.80,53.87 L324.20,57.10 L324.60,59.42 L325.00,60.99 L325.40,61.99 L325.80,62.59 L326.20,62.94 L326.20,63.30 Z" fill="#d4d4d4" fill-opacity="0.85"/>
<path d="M316.20,63.30 L316.20,62.90 L316.60,62.66 L317.00,62.32 L317.40,61.83 L317.80,61.14 L318.20,60.20 L318.60,58.95 L319.00,57.34 L319.40,55.32 L319.80,52.84 L320.20,49.92 L320.60,46.56 L321.00,42.83 L321.40,38.85 L321.80,34.75 L322.20,30.72 L322.60,26.97 L323.00,23.70 L323.40,21.12 L323.80,19.39 L324.20,18.63 L324.60,18.84 L325.00,19.90 L325.40,21.74 L325.80,24.27 L326.20,27.34 L326.60,30.81 L327.00,34.50 L327.40,38.26 L327.80,41.94 L328.20,45.43 L328.60,48.64 L329.00,51.50 L329.40,53.98 L329.80,56.08 L330.20,57.82 L330.60,59.21 L331.00,60.31 L331.40,61.16 L331.80,61.79 L332.20,62.26 L332.60,62.60 L333.00,62.83 L333.40,63.00 L333.40,63.30 Z" fill="#f2a3a6" fill-opacity="0.7"/>
<path d="M315.80,63.30 L315.80,62.96 L316.20,62.74 L316.60,62.41 L317.00,61.95 L317.40,61.32 L317.80,60.52 L318.20,59.55 L318.60,58.43 L319.00,57.23 L319.40,56.04 L319.80,54.95 L320.20,54.07 L320.60,53.50 L321.00,53.30 L321.40,53.55 L321.80,54.28 L322.20,55.37 L322.60,56.68 L323.00,58.06 L323.40,59.35 L323.80,60.48 L324.20,61.39 L324.60,62.07 L325.00,62.54 L325.40,62.86 L325.40,63.30 Z" fill="#416f35" fill-opacity="0.88" stroke="#2f5a25" stroke-width="0.4"/>
<rect x="369.90" y="14.50" width="48.30" height="48.80" fill="none" stroke="#c8c8c8" stroke-width="1.2" />
<text x="367.70" y="63.00" font-size="2.0" text-anchor="end" fill="#777" font-weight="normal" >0</text>
<text x="367.70" y="52.58" font-size="2.0" text-anchor="end" fill="#777" font-weight="normal" >50</text>
<text x="367.70" y="42.16" font-size="2.0" text-anchor="end" fill="#777" font-weight="normal" >100</text>
<text x="367.70" y="31.74" font-size="2.0" text-anchor="end" fill="#777" font-weight="normal" >150</text>
<text x="367.70" y="21.33" font-size="2.0" text-anchor="end" fill="#777" font-weight="normal" >200</text>
<path d="M368.30,62.30h1.6M369.00,60.22h0.9M369.00,58.13h0.9M369.00,56.05h0.9M369.00,53.97h0.9M368.30,51.88h1.6M369.00,49.80h0.9M369.00,47.71h0.9M369.00,45.63h0.9M369.00,43.55h0.9M368.30,41.46h1.6M369.00,39.38h0.9M369.00,37.30h0.9M369.00,35.21h0.9M369.00,33.13h0.9M368.30,31.04h1.6M369.00,28.96h0.9M369.00,26.88h0.9M369.00,24.79h0.9M369.00,22.71h0.9M368.30,20.63h1.6M369.00,18.54h0.9M369.00,16.46h0.9M380.40,63.30v1.6M391.70,63.30v1.6M403.00,63.30v1.6M414.30,63.30v1.6" stroke="#777" stroke-width="0.45"/>
<text x="380.80" y="67.90" font-size="2.2" text-anchor="middle" fill="#666" font-weight="normal" transform="rotate(-45 380.80 67.90)" >0</text>
<text x="392.10" y="67.90" font-size="2.2" text-anchor="middle" fill="#666" font-weight="normal" transform="rotate(-45 392.10 67.90)" >10<tspan font-size="1.6" dy="-1">3</tspan></text>
<text x="403.40" y="67.90" font-size="2.2" text-anchor="middle" fill="#666" font-weight="normal" transform="rotate(-45 403.40 67.90)" >10<tspan font-size="1.6" dy="-1">4</tspan></text>
<text x="414.70" y="67.90" font-size="2.2" text-anchor="middle" fill="#666" font-weight="normal" transform="rotate(-45 414.70 67.90)" >10<tspan font-size="1.6" dy="-1">5</tspan></text>
<text x="391.30" y="11.50" font-size="8.8" text-anchor="middle" fill="#111" font-weight="normal" stroke="#111" stroke-width="0.2" textLength="15.8" lengthAdjust="spacingAndGlyphs">aNB</text>
<path d="M376.20,63.30 L376.20,62.83 L376.60,62.59 L377.00,62.24 L377.40,61.77 L377.80,61.15 L378.20,60.37 L378.60,59.40 L379.00,58.26 L379.40,56.96 L379.80,55.55 L380.20,54.08 L380.60,52.63 L381.00,51.29 L381.40,50.16 L381.80,49.31 L382.20,48.81 L382.60,48.71 L383.00,49.01 L383.40,49.69 L383.80,50.69 L384.20,51.94 L384.60,53.34 L385.00,54.81 L385.40,56.26 L385.80,57.63 L386.20,58.85 L386.60,59.91 L387.00,60.78 L387.40,61.48 L387.80,62.03 L388.20,62.43 L388.60,62.72 L389.00,62.93 L389.00,63.30 Z" fill="#d4d4d4" fill-opacity="0.85"/>
<path d="M372.20,63.30 L372.20,62.96 L372.60,62.81 L373.00,62.61 L373.40,62.35 L373.80,62.02 L374.20,61.59 L374.60,61.06 L375.00,60.41 L375.40,59.64 L375.80,58.75 L376.20,57.73 L376.60,56.59 L377.00,55.36 L377.40,54.06 L377.80,52.72 L378.20,51.40 L378.60,50.13 L379.00,48.97 L379.40,47.97 L379.80,47.17 L380.20,46.62 L380.60,46.34 L381.00,46.44 L381.40,47.51 L381.80,49.46 L382.20,51.94 L382.60,54.56 L383.00,57.01 L383.40,59.06 L383.80,60.62 L384.20,61.72 L384.60,62.43 L385.00,62.85 L385.00,63.30 Z" fill="#416f35" fill-opacity="0.88" stroke="#2f5a25" stroke-width="0.4"/>
<path d="M381.00,63.30 L381.00,63.00 L381.40,62.78 L381.80,62.43 L382.20,61.91 L382.60,61.16 L383.00,60.13 L383.40,58.78 L383.80,57.09 L384.20,55.09 L384.60,52.87 L385.00,50.53 L385.40,48.27 L385.80,46.27 L386.20,44.73 L386.60,43.81 L387.00,43.61 L387.40,43.84 L387.80,44.36 L388.20,45.16 L388.60,46.19 L389.00,47.42 L389.40,48.78 L389.80,50.23 L390.20,51.72 L390.60,53.20 L391.00,54.63 L391.40,55.97 L391.80,57.20 L392.20,58.30 L392.60,59.27 L393.00,60.10 L393.40,60.80 L393.80,61.37 L394.20,61.84 L394.60,62.21 L395.00,62.50 L395.40,62.72 L395.80,62.89 L395.80,63.30 Z" fill="#f2a3a6" fill-opacity="0.7"/>
<rect x="429.80" y="14.50" width="48.40" height="48.80" fill="none" stroke="#c8c8c8" stroke-width="1.2" />
<text x="427.60" y="63.00" font-size="2.0" text-anchor="end" fill="#777" font-weight="normal" >0</text>
<text x="427.60" y="52.58" font-size="2.0" text-anchor="end" fill="#777" font-weight="normal" >50</text>
<text x="427.60" y="42.16" font-size="2.0" text-anchor="end" fill="#777" font-weight="normal" >100</text>
<text x="427.60" y="31.74" font-size="2.0" text-anchor="end" fill="#777" font-weight="normal" >150</text>
<text x="427.60" y="21.33" font-size="2.0" text-anchor="end" fill="#777" font-weight="normal" >200</text>
<path d="M428.20,62.30h1.6M428.90,60.22h0.9M428.90,58.13h0.9M428.90,56.05h0.9M428.90,53.97h0.9M428.20,51.88h1.6M428.90,49.80h0.9M428.90,47.71h0.9M428.90,45.63h0.9M428.90,43.55h0.9M428.20,41.46h1.6M428.90,39.38h0.9M428.90,37.30h0.9M428.90,35.21h0.9M428.90,33.13h0.9M428.20,31.04h1.6M428.90,28.96h0.9M428.90,26.88h0.9M428.90,24.79h0.9M428.90,22.71h0.9M428.20,20.63h1.6M428.90,18.54h0.9M428.90,16.46h0.9M440.30,63.30v1.6M451.60,63.30v1.6M462.90,63.30v1.6M474.20,63.30v1.6" stroke="#777" stroke-width="0.45"/>
<text x="440.70" y="67.90" font-size="2.2" text-anchor="middle" fill="#666" font-weight="normal" transform="rotate(-45 440.70 67.90)" >0</text>
<text x="452.00" y="67.90" font-size="2.2" text-anchor="middle" fill="#666" font-weight="normal" transform="rotate(-45 452.00 67.90)" >10<tspan font-size="1.6" dy="-1">3</tspan></text>
<text x="463.30" y="67.90" font-size="2.2" text-anchor="middle" fill="#666" font-weight="normal" transform="rotate(-45 463.30 67.90)" >10<tspan font-size="1.6" dy="-1">4</tspan></text>
<text x="474.60" y="67.90" font-size="2.2" text-anchor="middle" fill="#666" font-weight="normal" transform="rotate(-45 474.60 67.90)" >10<tspan font-size="1.6" dy="-1">5</tspan></text>
<text x="452.00" y="11.50" font-size="8.8" text-anchor="middle" fill="#111" font-weight="normal" stroke="#111" stroke-width="0.2" textLength="11.0" lengthAdjust="spacingAndGlyphs">DN</text>
<path d="M434.60,63.30 L434.60,62.97 L435.00,62.76 L435.40,62.44 L435.80,61.98 L436.20,61.33 L436.60,60.47 L437.00,59.36 L437.40,58.00 L437.80,56.39 L438.20,54.60 L438.60,52.69 L439.00,50.78 L439.40,49.01 L439.80,47.52 L440.20,46.44 L440.60,45.87 L441.00,45.89 L441.40,46.57 L441.80,47.86 L442.20,49.60 L442.60,51.63 L443.00,53.74 L443.40,55.78 L443.80,57.62 L444.20,59.17 L444.60,60.42 L445.00,61.37 L445.40,62.06 L445.80,62.53 L446.20,62.84 L446.20,63.30 Z" fill="#d4d4d4" fill-opacity="0.85"/>
<path d="M435.80,63.30 L435.80,62.87 L436.20,62.68 L436.60,62.45 L437.00,62.15 L437.40,61.80 L437.80,61.39 L438.20,60.95 L438.60,60.49 L439.00,60.04 L439.40,59.63 L439.80,59.29 L440.20,59.04 L440.60,58.92 L441.00,58.91 L441.40,58.99 L441.80,59.16 L442.20,59.39 L442.60,59.68 L443.00,60.01 L443.40,60.37 L443.80,60.74 L444.20,61.11 L444.60,61.46 L445.00,61.78 L445.40,62.07 L445.80,62.33 L446.20,62.54 L446.60,62.72 L447.00,62.87 L447.40,62.98 L447.40,63.30 Z" fill="#416f35" fill-opacity="0.88" stroke="#2f5a25" stroke-width="0.4"/>
<path d="M435.00,63.30 L435.00,62.98 L435.40,62.79 L435.80,62.50 L436.20,62.09 L436.60,61.50 L437.00,60.68 L437.40,59.59 L437.80,58.15 L438.20,56.32 L438.60,54.05 L439.00,51.33 L439.40,48.15 L439.80,44.57 L440.20,40.67 L440.60,36.57 L441.00,32.44 L441.40,28.49 L441.80,24.92 L442.20,21.95 L442.60,19.76 L443.00,18.49 L443.40,18.23 L443.80,18.87 L444.20,20.35 L444.60,22.57 L445.00,25.41 L445.40,28.73 L445.80,32.36 L446.20,36.14 L446.60,39.91 L447.00,43.54 L447.40,46.93 L447.80,49.99 L448.20,52.69 L448.60,55.01 L449.00,56.94 L449.40,58.51 L449.80,59.77 L450.20,60.74 L450.60,61.48 L451.00,62.04 L451.40,62.44 L451.80,62.72 L452.20,62.92 L452.20,63.30 Z" fill="#f2a3a6" fill-opacity="0.7"/>
<rect x="310.40" y="87.10" width="48.20" height="48.40" fill="none" stroke="#c8c8c8" stroke-width="1.2" />
<text x="308.20" y="135.20" font-size="2.0" text-anchor="end" fill="#777" font-weight="normal" >0</text>
<text x="308.20" y="124.87" font-size="2.0" text-anchor="end" fill="#777" font-weight="normal" >50</text>
<text x="308.20" y="114.55" font-size="2.0" text-anchor="end" fill="#777" font-weight="normal" >100</text>
<text x="308.20" y="104.22" font-size="2.0" text-anchor="end" fill="#777" font-weight="normal" >150</text>
<text x="308.20" y="93.90" font-size="2.0" text-anchor="end" fill="#777" font-weight="normal" >200</text>
<path d="M308.80,134.50h1.6M309.50,132.43h0.9M309.50,130.37h0.9M309.50,128.30h0.9M309.50,126.24h0.9M308.80,124.17h1.6M309.50,122.11h0.9M309.50,120.04h0.9M309.50,117.98h0.9M309.50,115.91h0.9M308.80,113.85h1.6M309.50,111.78h0.9M309.50,109.72h0.9M309.50,107.65h0.9M309.50,105.59h0.9M308.80,103.52h1.6M309.50,101.46h0.9M309.50,99.39h0.9M309.50,97.33h0.9M309.50,95.26h0.9M308.80,93.20h1.6M309.50,91.13h0.9M309.50,89.07h0.9M320.90,135.50v1.6M332.20,135.50v1.6M343.50,135.50v1.6M354.80,135.50v1.6" stroke="#777" stroke-width="0.45"/>
<text x="321.30" y="140.10" font-size="2.2" text-anchor="middle" fill="#666" font-weight="normal" transform="rotate(-45 321.30 140.10)" >0</text>
<text x="332.60" y="140.10" font-size="2.2" text-anchor="middle" fill="#666" font-weight="normal" transform="rotate(-45 332.60 140.10)" >10<tspan font-size="1.6" dy="-1">3</tspan></text>
<text x="343.90" y="140.10" font-size="2.2" text-anchor="middle" fill="#666" font-weight="normal" transform="rotate(-45 343.90 140.10)" >10<tspan font-size="1.6" dy="-1">4</tspan></text>
<text x="355.20" y="140.10" font-size="2.2" text-anchor="middle" fill="#666" font-weight="normal" transform="rotate(-45 355.20 140.10)" >10<tspan font-size="1.6" dy="-1">5</tspan></text>
<text x="331.30" y="84.10" font-size="8.8" text-anchor="middle" fill="#111" font-weight="normal" stroke="#111" stroke-width="0.2" textLength="12.0" lengthAdjust="spacingAndGlyphs">SM</text>
<path d="M315.80,135.50 L315.80,135.12 L316.20,134.87 L316.60,134.50 L317.00,133.97 L317.40,133.22 L317.80,132.22 L318.20,130.93 L318.60,129.35 L319.00,127.49 L319.40,125.40 L319.80,123.19 L320.20,120.97 L320.60,118.92 L321.00,117.19 L321.40,115.94 L321.80,115.28 L322.20,115.30 L322.60,116.09 L323.00,117.59 L323.40,119.61 L323.80,121.96 L324.20,124.41 L324.60,126.78 L325.00,128.91 L325.40,130.71 L325.80,132.16 L326.20,133.26 L326.60,134.06 L327.00,134.61 L327.40,134.97 L327.80,135.20 L327.80,135.50 Z" fill="#d4d4d4" fill-opacity="0.85"/>
<path d="M316.60,135.50 L316.60,135.10 L317.00,134.89 L317.40,134.61 L317.80,134.25 L318.20,133.81 L318.60,133.31 L319.00,132.77 L319.40,132.23 L319.80,131.74 L320.20,131.35 L320.60,131.09 L321.00,131.00 L321.40,131.09 L321.80,131.35 L322.20,131.74 L322.60,132.23 L323.00,132.77 L323.40,133.31 L323.80,133.81 L324.20,134.25 L324.60,134.61 L325.00,134.89 L325.40,135.10 L325.40,135.50 Z" fill="#416f35" fill-opacity="0.88" stroke="#2f5a25" stroke-width="0.4"/>
<path d="M316.60,135.50 L316.60,135.08 L317.00,134.83 L317.40,134.46 L317.80,133.93 L318.20,133.18 L318.60,132.15 L319.00,130.79 L319.40,129.03 L319.80,126.82 L320.20,124.15 L320.60,121.01 L321.00,117.45 L321.40,113.56 L321.80,109.47 L322.20,105.36 L322.60,101.45 L323.00,97.96 L323.40,95.10 L323.80,93.08 L324.20,92.03 L324.60,91.97 L325.00,92.56 L325.40,93.70 L325.80,95.37 L326.20,97.48 L326.60,99.96 L327.00,102.73 L327.40,105.69 L327.80,108.75 L328.20,111.81 L328.60,114.81 L329.00,117.67 L329.40,120.34 L329.80,122.78 L330.20,124.98 L330.60,126.91 L331.00,128.58 L331.40,130.00 L331.80,131.19 L332.20,132.17 L332.60,132.96 L333.00,133.58 L333.40,134.08 L333.80,134.46 L334.20,134.75 L334.60,134.96 L335.00,135.12 L335.00,135.50 Z" fill="#f2a3a6" fill-opacity="0.7"/>
<rect x="369.90" y="87.10" width="48.30" height="48.40" fill="none" stroke="#c8c8c8" stroke-width="1.2" />
<text x="367.70" y="135.20" font-size="2.0" text-anchor="end" fill="#777" font-weight="normal" >0</text>
<text x="367.70" y="124.87" font-size="2.0" text-anchor="end" fill="#777" font-weight="normal" >50</text>
<text x="367.70" y="114.55" font-size="2.0" text-anchor="end" fill="#777" font-weight="normal" >100</text>
<text x="367.70" y="104.22" font-size="2.0" text-anchor="end" fill="#777" font-weight="normal" >150</text>
<text x="367.70" y="93.90" font-size="2.0" text-anchor="end" fill="#777" font-weight="normal" >200</text>
<path d="M368.30,134.50h1.6M369.00,132.43h0.9M369.00,130.37h0.9M369.00,128.30h0.9M369.00,126.24h0.9M368.30,124.17h1.6M369.00,122.11h0.9M369.00,120.04h0.9M369.00,117.98h0.9M369.00,115.91h0.9M368.30,113.85h1.6M369.00,111.78h0.9M369.00,109.72h0.9M369.00,107.65h0.9M369.00,105.59h0.9M368.30,103.52h1.6M369.00,101.46h0.9M369.00,99.39h0.9M369.00,97.33h0.9M369.00,95.26h0.9M368.30,93.20h1.6M369.00,91.13h0.9M369.00,89.07h0.9M380.40,135.50v1.6M391.70,135.50v1.6M403.00,135.50v1.6M414.30,135.50v1.6" stroke="#777" stroke-width="0.45"/>
<text x="380.80" y="140.10" font-size="2.2" text-anchor="middle" fill="#666" font-weight="normal" transform="rotate(-45 380.80 140.10)" >0</text>
<text x="392.10" y="140.10" font-size="2.2" text-anchor="middle" fill="#666" font-weight="normal" transform="rotate(-45 392.10 140.10)" >10<tspan font-size="1.6" dy="-1">3</tspan></text>
<text x="403.40" y="140.10" font-size="2.2" text-anchor="middle" fill="#666" font-weight="normal" transform="rotate(-45 403.40 140.10)" >10<tspan font-size="1.6" dy="-1">4</tspan></text>
<text x="414.70" y="140.10" font-size="2.2" text-anchor="middle" fill="#666" font-weight="normal" transform="rotate(-45 414.70 140.10)" >10<tspan font-size="1.6" dy="-1">5</tspan></text>
<text x="391.30" y="84.10" font-size="8.8" text-anchor="middle" fill="#111" font-weight="normal" stroke="#111" stroke-width="0.2" textLength="10.200000000000001" lengthAdjust="spacingAndGlyphs">PB</text>
<path d="M381.40,135.50 L381.40,135.16 L381.80,134.70 L382.20,133.81 L382.60,132.21 L383.00,129.67 L383.40,126.06 L383.80,121.52 L384.20,116.58 L384.60,112.08 L385.00,108.93 L385.40,107.77 L385.80,108.24 L386.20,109.89 L386.60,112.27 L387.00,114.84 L387.40,117.13 L387.80,118.80 L388.20,119.73 L388.60,119.97 L389.00,119.72 L389.40,119.22 L389.80,118.71 L390.20,118.39 L390.60,118.40 L391.00,118.69 L391.40,119.23 L391.80,120.02 L392.20,121.02 L392.60,122.19 L393.00,123.49 L393.40,124.85 L393.80,126.22 L394.20,127.55 L394.60,128.82 L395.00,129.98 L395.40,131.02 L395.80,131.93 L396.20,132.70 L396.60,133.35 L397.00,133.87 L397.40,134.29 L397.80,134.62 L398.20,134.87 L398.60,135.06 L399.00,135.19 L399.00,135.50 Z" fill="#8f62c4" fill-opacity="0.9" stroke="#4a4ad8" stroke-width="0.45"/>
<path d="M380.20,135.50 L380.20,135.06 L380.60,134.70 L381.00,134.12 L381.40,133.20 L381.80,131.83 L382.20,129.87 L382.60,127.21 L383.00,123.80 L383.40,119.64 L383.80,114.86 L384.20,109.71 L384.60,104.55 L385.00,99.82 L385.40,95.94 L385.80,93.29 L386.20,92.09 L386.60,92.16 L387.00,93.30 L387.40,95.34 L387.80,98.02 L388.20,101.04 L388.60,104.14 L389.00,107.10 L389.40,109.77 L389.80,112.09 L390.20,114.05 L390.60,115.71 L391.00,117.15 L391.40,118.51 L391.80,119.92 L392.20,121.41 L392.60,122.98 L393.00,124.61 L393.40,126.24 L393.80,127.82 L394.20,129.29 L394.60,130.61 L395.00,131.75 L395.40,132.70 L395.80,133.47 L396.20,134.06 L396.60,134.51 L397.00,134.84 L397.40,135.07 L397.40,135.50 Z" fill="#f2a3a6" fill-opacity="0.5"/>
<path d="M376.20,135.50 L376.20,134.98 L376.60,134.60 L377.00,134.02 L377.40,133.17 L377.80,131.98 L378.20,130.41 L378.60,128.46 L379.00,126.16 L379.40,123.64 L379.80,121.08 L380.20,118.72 L380.60,116.80 L381.00,115.54 L381.40,115.10 L381.80,115.45 L382.20,116.45 L382.60,118.02 L383.00,119.99 L383.40,122.21 L383.80,124.50 L384.20,126.69 L384.60,128.69 L385.00,130.41 L385.40,131.83 L385.80,132.94 L386.20,133.77 L386.60,134.38 L387.00,134.79 L387.40,135.07 L387.40,135.50 Z" fill="#3f6e33" fill-opacity="0.85" stroke="#2f5a25" stroke-width="0.4"/>
<rect x="429.80" y="87.10" width="48.40" height="48.40" fill="none" stroke="#c8c8c8" stroke-width="1.2" />
<text x="427.60" y="135.20" font-size="2.0" text-anchor="end" fill="#777" font-weight="normal" >0</text>
<text x="427.60" y="124.87" font-size="2.0" text-anchor="end" fill="#777" font-weight="normal" >50</text>
<text x="427.60" y="114.55" font-size="2.0" text-anchor="end" fill="#777" font-weight="normal" >100</text>
<text x="427.60" y="104.22" font-size="2.0" text-anchor="end" fill="#777" font-weight="normal" >150</text>
<text x="427.60" y="93.90" font-size="2.0" text-anchor="end" fill="#777" font-weight="normal" >200</text>
<path d="M428.20,134.50h1.6M428.90,132.43h0.9M428.90,130.37h0.9M428.90,128.30h0.9M428.90,126.24h0.9M428.20,124.17h1.6M428.90,122.11h0.9M428.90,120.04h0.9M428.90,117.98h0.9M428.90,115.91h0.9M428.20,113.85h1.6M428.90,111.78h0.9M428.90,109.72h0.9M428.90,107.65h0.9M428.90,105.59h0.9M428.20,103.52h1.6M428.90,101.46h0.9M428.90,99.39h0.9M428.90,97.33h0.9M428.90,95.26h0.9M428.20,93.20h1.6M428.90,91.13h0.9M428.90,89.07h0.9M440.30,135.50v1.6M451.60,135.50v1.6M462.90,135.50v1.6M474.20,135.50v1.6" stroke="#777" stroke-width="0.45"/>
<text x="440.70" y="140.10" font-size="2.2" text-anchor="middle" fill="#666" font-weight="normal" transform="rotate(-45 440.70 140.10)" >0</text>
<text x="452.00" y="140.10" font-size="2.2" text-anchor="middle" fill="#666" font-weight="normal" transform="rotate(-45 452.00 140.10)" >10<tspan font-size="1.6" dy="-1">3</tspan></text>
<text x="463.30" y="140.10" font-size="2.2" text-anchor="middle" fill="#666" font-weight="normal" transform="rotate(-45 463.30 140.10)" >10<tspan font-size="1.6" dy="-1">4</tspan></text>
<text x="474.60" y="140.10" font-size="2.2" text-anchor="middle" fill="#666" font-weight="normal" transform="rotate(-45 474.60 140.10)" >10<tspan font-size="1.6" dy="-1">5</tspan></text>
<text x="452.00" y="84.10" font-size="8.8" text-anchor="middle" fill="#111" font-weight="normal" stroke="#111" stroke-width="0.2" textLength="10.4" lengthAdjust="spacingAndGlyphs">PC</text>
<path d="M437.40,135.50 L437.40,135.16 L437.80,134.92 L438.20,134.55 L438.60,134.01 L439.00,133.26 L439.40,132.26 L439.80,130.99 L440.20,129.47 L440.60,127.76 L441.00,125.95 L441.40,124.18 L441.80,122.60 L442.20,121.39 L442.60,120.65 L443.00,120.51 L443.40,121.61 L443.80,123.81 L444.20,126.30 L444.60,128.17 L445.00,128.80 L445.40,127.92 L445.80,125.79 L446.20,123.08 L446.60,120.70 L447.00,119.51 L447.40,119.67 L447.80,120.45 L448.20,121.75 L448.60,123.42 L449.00,125.31 L449.40,127.24 L449.80,129.07 L450.20,130.69 L450.60,132.04 L451.00,133.11 L451.40,133.91 L451.80,134.49 L452.20,134.88 L452.60,135.14 L452.60,135.50 Z" fill="#d4d4d4" fill-opacity="0.85"/>
<path d="M435.80,135.50 L435.80,135.12 L436.20,134.81 L436.60,134.32 L437.00,133.59 L437.40,132.58 L437.80,131.28 L438.20,129.74 L438.60,128.07 L439.00,126.43 L439.40,125.05 L439.80,124.13 L440.20,123.80 L440.60,124.05 L441.00,124.77 L441.40,125.88 L441.80,127.23 L442.20,128.70 L442.60,130.14 L443.00,131.46 L443.40,132.58 L443.80,133.48 L444.20,134.16 L444.60,134.65 L445.00,134.99 L445.00,135.50 Z" fill="#416f35" fill-opacity="0.88" stroke="#2f5a25" stroke-width="0.4"/>
<path d="M438.60,135.50 L438.60,135.06 L439.00,134.76 L439.40,134.28 L439.80,133.56 L440.20,132.52 L440.60,131.07 L441.00,129.12 L441.40,126.61 L441.80,123.50 L442.20,119.81 L442.60,115.64 L443.00,111.14 L443.40,106.53 L443.80,102.08 L444.20,98.08 L444.60,94.81 L445.00,92.47 L445.40,91.24 L445.80,91.38 L446.20,92.81 L446.60,95.35 L447.00,98.70 L447.40,102.57 L447.80,106.68 L448.20,110.78 L448.60,114.60 L449.00,118.03 L449.40,121.04 L449.80,123.65 L450.20,125.89 L450.60,127.80 L451.00,129.42 L451.40,130.78 L451.80,131.90 L452.20,132.82 L452.60,133.55 L453.00,134.11 L453.40,134.54 L453.80,134.85 L454.20,135.07 L454.20,135.50 Z" fill="#f2a3a6" fill-opacity="0.7"/>
<line x1="295.70" y1="148.90" x2="419.50" y2="148.90" stroke="#606060" stroke-width="1.3" />
<path d="M422.2,148.9 L418.4,147.0 L418.4,150.8 Z" fill="#111" stroke="none" stroke-width="1" />
<line x1="296.30" y1="149.50" x2="296.30" y2="100.00" stroke="#606060" stroke-width="1.3" />
<path d="M296.3,96.8 L294.0,101.3 L298.6,101.3 Z" fill="#111" stroke="none" stroke-width="1" />
<text x="298.00" y="77.50" font-size="6.6" text-anchor="middle" fill="#111" font-weight="normal" transform="rotate(-90 298.00 77.50)" stroke="#111" stroke-width="0.25" textLength="29.8" lengthAdjust="spacingAndGlyphs">Cell count</text>
<text x="425.20" y="151.70" font-size="7.6" text-anchor="start" fill="#1a1a1a" font-weight="normal" stroke="#1a1a1a" stroke-width="0.1" textLength="18.5" lengthAdjust="spacingAndGlyphs">BCMA</text>
<rect x="488.40" y="64.60" width="10.60" height="6.70" fill="#f4f4f4" stroke="#bdbdbd" stroke-width="0.9" />
<rect x="490.30" y="66.50" width="6.80" height="3.00" fill="#4d7d3c" stroke="#2f5a25" stroke-width="0.5" />
<text x="499.70" y="70.50" font-size="6.8" text-anchor="start" fill="#111" font-weight="normal" stroke="#111" stroke-width="0.12" textLength="19.1" lengthAdjust="spacingAndGlyphs">Isotype</text>
<rect x="488.40" y="74.35" width="10.60" height="6.70" fill="#f4f4f4" stroke="#bdbdbd" stroke-width="0.9" />
<rect x="490.30" y="76.25" width="6.80" height="3.00" fill="#d8d8d8" stroke="#aaa" stroke-width="0.5" />
<text x="499.70" y="80.25" font-size="6.8" text-anchor="start" fill="#111" font-weight="normal" stroke="#111" stroke-width="0.12" textLength="7.3" lengthAdjust="spacingAndGlyphs">HC</text>
<rect x="488.40" y="84.10" width="10.60" height="6.70" fill="#f4f4f4" stroke="#bdbdbd" stroke-width="0.9" />
<rect x="490.30" y="86.00" width="6.80" height="3.00" fill="#f4a6a8" stroke="#e08a8e" stroke-width="0.5" />
<text x="499.70" y="90.00" font-size="6.8" text-anchor="start" fill="#111" font-weight="normal" stroke="#111" stroke-width="0.12" textLength="8.0" lengthAdjust="spacingAndGlyphs">SLE</text>
</svg></body></html>
